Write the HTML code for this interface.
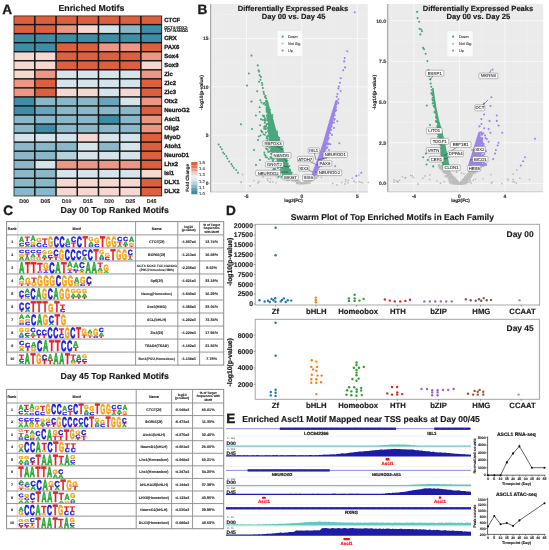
<!DOCTYPE html>
<html><head><meta charset="utf-8"><style>
html,body{margin:0;padding:0;background:#fff;width:549px;height:550px;overflow:hidden}
svg{display:block;will-change:transform}
text{font-family:"Liberation Sans", sans-serif;text-rendering:geometricPrecision}
</style></head><body>
<svg width="549" height="550" viewBox="0 0 549 550">
<text x="2.20" y="13.70" font-size="13.6" font-weight="bold" text-anchor="start" fill="#1a1a1a" stroke="#1a1a1a" stroke-width="0.35">A</text>
<text x="91.40" y="11.10" font-size="8.8" font-weight="bold" text-anchor="middle" fill="#1a1a1a" stroke="#1a1a1a" stroke-width="0.15" >Enriched Motifs</text>
<rect x="13.6" y="15.55" width="148.50" height="180.80" fill="#141414"/>
<rect x="14.35" y="16.27" width="19.71" height="7.60" fill="#dc603e"/>
<rect x="35.56" y="16.27" width="19.71" height="7.60" fill="#dc603e"/>
<rect x="56.78" y="16.27" width="19.71" height="7.60" fill="#dc603e"/>
<rect x="77.99" y="16.27" width="19.71" height="7.60" fill="#dc603e"/>
<rect x="99.21" y="16.27" width="19.71" height="7.60" fill="#dc603e"/>
<rect x="120.42" y="16.27" width="19.71" height="7.60" fill="#dc603e"/>
<rect x="141.64" y="16.27" width="19.71" height="7.60" fill="#dc603e"/>
<text x="164.20" y="21.72" font-size="6.0" font-weight="bold" text-anchor="start" fill="#1a1a1a" stroke="#1a1a1a" stroke-width="0.3" >CTCF</text>
<rect x="14.35" y="25.31" width="19.71" height="7.60" fill="#dc603e"/>
<rect x="35.56" y="25.31" width="19.71" height="7.60" fill="#dc603e"/>
<rect x="56.78" y="25.31" width="19.71" height="7.60" fill="#eb9783"/>
<rect x="77.99" y="25.31" width="19.71" height="7.60" fill="#f5d8d2"/>
<rect x="99.21" y="25.31" width="19.71" height="7.60" fill="#d5e4ea"/>
<rect x="120.42" y="25.31" width="19.71" height="7.60" fill="#8ab8c8"/>
<rect x="141.64" y="25.31" width="19.71" height="7.60" fill="#3f8ca6"/>
<text x="164.20" y="28.51" font-size="4.0" font-weight="bold" text-anchor="start" fill="#1a1a1a" stroke="#1a1a1a" stroke-width="0.15" >OCT4-SOX2-</text>
<text x="164.20" y="31.91" font-size="4.0" font-weight="bold" text-anchor="start" fill="#1a1a1a" stroke="#1a1a1a" stroke-width="0.15" >TCF-NANOG</text>
<rect x="14.35" y="34.35" width="19.71" height="7.60" fill="#3f8ca6"/>
<rect x="35.56" y="34.35" width="19.71" height="7.60" fill="#3f8ca6"/>
<rect x="56.78" y="34.35" width="19.71" height="7.60" fill="#3f8ca6"/>
<rect x="77.99" y="34.35" width="19.71" height="7.60" fill="#3f8ca6"/>
<rect x="99.21" y="34.35" width="19.71" height="7.60" fill="#3f8ca6"/>
<rect x="120.42" y="34.35" width="19.71" height="7.60" fill="#3f8ca6"/>
<rect x="141.64" y="34.35" width="19.71" height="7.60" fill="#3f8ca6"/>
<text x="164.20" y="39.80" font-size="6.0" font-weight="bold" text-anchor="start" fill="#1a1a1a" stroke="#1a1a1a" stroke-width="0.3" >CRX</text>
<rect x="14.35" y="43.39" width="19.71" height="7.60" fill="#3f8ca6"/>
<rect x="35.56" y="43.39" width="19.71" height="7.60" fill="#3f8ca6"/>
<rect x="56.78" y="43.39" width="19.71" height="7.60" fill="#dc603e"/>
<rect x="77.99" y="43.39" width="19.71" height="7.60" fill="#dc603e"/>
<rect x="99.21" y="43.39" width="19.71" height="7.60" fill="#eb9783"/>
<rect x="120.42" y="43.39" width="19.71" height="7.60" fill="#eb9783"/>
<rect x="141.64" y="43.39" width="19.71" height="7.60" fill="#dc603e"/>
<text x="164.20" y="48.84" font-size="6.0" font-weight="bold" text-anchor="start" fill="#1a1a1a" stroke="#1a1a1a" stroke-width="0.3" >PAX6</text>
<rect x="14.35" y="52.43" width="19.71" height="7.60" fill="#f5d8d2"/>
<rect x="35.56" y="52.43" width="19.71" height="7.60" fill="#f5d8d2"/>
<rect x="56.78" y="52.43" width="19.71" height="7.60" fill="#dc603e"/>
<rect x="77.99" y="52.43" width="19.71" height="7.60" fill="#dc603e"/>
<rect x="99.21" y="52.43" width="19.71" height="7.60" fill="#dc603e"/>
<rect x="120.42" y="52.43" width="19.71" height="7.60" fill="#dc603e"/>
<rect x="141.64" y="52.43" width="19.71" height="7.60" fill="#eb9783"/>
<text x="164.20" y="57.88" font-size="6.0" font-weight="bold" text-anchor="start" fill="#1a1a1a" stroke="#1a1a1a" stroke-width="0.3" >Sox4</text>
<rect x="14.35" y="61.47" width="19.71" height="7.60" fill="#f5d8d2"/>
<rect x="35.56" y="61.47" width="19.71" height="7.60" fill="#f5d8d2"/>
<rect x="56.78" y="61.47" width="19.71" height="7.60" fill="#dc603e"/>
<rect x="77.99" y="61.47" width="19.71" height="7.60" fill="#dc603e"/>
<rect x="99.21" y="61.47" width="19.71" height="7.60" fill="#dc603e"/>
<rect x="120.42" y="61.47" width="19.71" height="7.60" fill="#dc603e"/>
<rect x="141.64" y="61.47" width="19.71" height="7.60" fill="#f5d8d2"/>
<text x="164.20" y="66.92" font-size="6.0" font-weight="bold" text-anchor="start" fill="#1a1a1a" stroke="#1a1a1a" stroke-width="0.3" >Sox9</text>
<rect x="14.35" y="70.51" width="19.71" height="7.60" fill="#f5d8d2"/>
<rect x="35.56" y="70.51" width="19.71" height="7.60" fill="#eb9783"/>
<rect x="56.78" y="70.51" width="19.71" height="7.60" fill="#d5e4ea"/>
<rect x="77.99" y="70.51" width="19.71" height="7.60" fill="#d5e4ea"/>
<rect x="99.21" y="70.51" width="19.71" height="7.60" fill="#d5e4ea"/>
<rect x="120.42" y="70.51" width="19.71" height="7.60" fill="#d5e4ea"/>
<rect x="141.64" y="70.51" width="19.71" height="7.60" fill="#eb9783"/>
<text x="164.20" y="75.96" font-size="6.0" font-weight="bold" text-anchor="start" fill="#1a1a1a" stroke="#1a1a1a" stroke-width="0.3" >Zic</text>
<rect x="14.35" y="79.55" width="19.71" height="7.60" fill="#eb9783"/>
<rect x="35.56" y="79.55" width="19.71" height="7.60" fill="#dc603e"/>
<rect x="56.78" y="79.55" width="19.71" height="7.60" fill="#d5e4ea"/>
<rect x="77.99" y="79.55" width="19.71" height="7.60" fill="#d5e4ea"/>
<rect x="99.21" y="79.55" width="19.71" height="7.60" fill="#d5e4ea"/>
<rect x="120.42" y="79.55" width="19.71" height="7.60" fill="#d5e4ea"/>
<rect x="141.64" y="79.55" width="19.71" height="7.60" fill="#dc603e"/>
<text x="164.20" y="85.00" font-size="6.0" font-weight="bold" text-anchor="start" fill="#1a1a1a" stroke="#1a1a1a" stroke-width="0.3" >Zic2</text>
<rect x="14.35" y="88.59" width="19.71" height="7.60" fill="#eb9783"/>
<rect x="35.56" y="88.59" width="19.71" height="7.60" fill="#dc603e"/>
<rect x="56.78" y="88.59" width="19.71" height="7.60" fill="#f5d8d2"/>
<rect x="77.99" y="88.59" width="19.71" height="7.60" fill="#f5d8d2"/>
<rect x="99.21" y="88.59" width="19.71" height="7.60" fill="#d5e4ea"/>
<rect x="120.42" y="88.59" width="19.71" height="7.60" fill="#f5d8d2"/>
<rect x="141.64" y="88.59" width="19.71" height="7.60" fill="#dc603e"/>
<text x="164.20" y="94.04" font-size="6.0" font-weight="bold" text-anchor="start" fill="#1a1a1a" stroke="#1a1a1a" stroke-width="0.3" >Zic3</text>
<rect x="14.35" y="97.63" width="19.71" height="7.60" fill="#3f8ca6"/>
<rect x="35.56" y="97.63" width="19.71" height="7.60" fill="#8ab8c8"/>
<rect x="56.78" y="97.63" width="19.71" height="7.60" fill="#8ab8c8"/>
<rect x="77.99" y="97.63" width="19.71" height="7.60" fill="#8ab8c8"/>
<rect x="99.21" y="97.63" width="19.71" height="7.60" fill="#6aa5bb"/>
<rect x="120.42" y="97.63" width="19.71" height="7.60" fill="#d5e4ea"/>
<rect x="141.64" y="97.63" width="19.71" height="7.60" fill="#eb9783"/>
<text x="164.20" y="103.08" font-size="6.0" font-weight="bold" text-anchor="start" fill="#1a1a1a" stroke="#1a1a1a" stroke-width="0.3" >Otx2</text>
<rect x="14.35" y="106.67" width="19.71" height="7.60" fill="#3f8ca6"/>
<rect x="35.56" y="106.67" width="19.71" height="7.60" fill="#6aa5bb"/>
<rect x="56.78" y="106.67" width="19.71" height="7.60" fill="#8ab8c8"/>
<rect x="77.99" y="106.67" width="19.71" height="7.60" fill="#8ab8c8"/>
<rect x="99.21" y="106.67" width="19.71" height="7.60" fill="#8ab8c8"/>
<rect x="120.42" y="106.67" width="19.71" height="7.60" fill="#8ab8c8"/>
<rect x="141.64" y="106.67" width="19.71" height="7.60" fill="#dc603e"/>
<text x="164.20" y="112.12" font-size="6.0" font-weight="bold" text-anchor="start" fill="#1a1a1a" stroke="#1a1a1a" stroke-width="0.3" >NeuroG2</text>
<rect x="14.35" y="115.71" width="19.71" height="7.60" fill="#8ab8c8"/>
<rect x="35.56" y="115.71" width="19.71" height="7.60" fill="#8ab8c8"/>
<rect x="56.78" y="115.71" width="19.71" height="7.60" fill="#8ab8c8"/>
<rect x="77.99" y="115.71" width="19.71" height="7.60" fill="#8ab8c8"/>
<rect x="99.21" y="115.71" width="19.71" height="7.60" fill="#3f8ca6"/>
<rect x="120.42" y="115.71" width="19.71" height="7.60" fill="#8ab8c8"/>
<rect x="141.64" y="115.71" width="19.71" height="7.60" fill="#eb9783"/>
<text x="164.20" y="121.16" font-size="6.0" font-weight="bold" text-anchor="start" fill="#1a1a1a" stroke="#1a1a1a" stroke-width="0.3" >Ascl1</text>
<rect x="14.35" y="124.75" width="19.71" height="7.60" fill="#8ab8c8"/>
<rect x="35.56" y="124.75" width="19.71" height="7.60" fill="#3f8ca6"/>
<rect x="56.78" y="124.75" width="19.71" height="7.60" fill="#8ab8c8"/>
<rect x="77.99" y="124.75" width="19.71" height="7.60" fill="#8ab8c8"/>
<rect x="99.21" y="124.75" width="19.71" height="7.60" fill="#8ab8c8"/>
<rect x="120.42" y="124.75" width="19.71" height="7.60" fill="#8ab8c8"/>
<rect x="141.64" y="124.75" width="19.71" height="7.60" fill="#eb9783"/>
<text x="164.20" y="130.20" font-size="6.0" font-weight="bold" text-anchor="start" fill="#1a1a1a" stroke="#1a1a1a" stroke-width="0.3" >Olig2</text>
<rect x="14.35" y="133.79" width="19.71" height="7.60" fill="#d5e4ea"/>
<rect x="35.56" y="133.79" width="19.71" height="7.60" fill="#d5e4ea"/>
<rect x="56.78" y="133.79" width="19.71" height="7.60" fill="#d5e4ea"/>
<rect x="77.99" y="133.79" width="19.71" height="7.60" fill="#f5d8d2"/>
<rect x="99.21" y="133.79" width="19.71" height="7.60" fill="#d5e4ea"/>
<rect x="120.42" y="133.79" width="19.71" height="7.60" fill="#d5e4ea"/>
<rect x="141.64" y="133.79" width="19.71" height="7.60" fill="#dc603e"/>
<text x="164.20" y="139.24" font-size="6.0" font-weight="bold" text-anchor="start" fill="#1a1a1a" stroke="#1a1a1a" stroke-width="0.3" >MyoD</text>
<rect x="14.35" y="142.83" width="19.71" height="7.60" fill="#8ab8c8"/>
<rect x="35.56" y="142.83" width="19.71" height="7.60" fill="#8ab8c8"/>
<rect x="56.78" y="142.83" width="19.71" height="7.60" fill="#8ab8c8"/>
<rect x="77.99" y="142.83" width="19.71" height="7.60" fill="#d5e4ea"/>
<rect x="99.21" y="142.83" width="19.71" height="7.60" fill="#8ab8c8"/>
<rect x="120.42" y="142.83" width="19.71" height="7.60" fill="#d5e4ea"/>
<rect x="141.64" y="142.83" width="19.71" height="7.60" fill="#dc603e"/>
<text x="164.20" y="148.28" font-size="6.0" font-weight="bold" text-anchor="start" fill="#1a1a1a" stroke="#1a1a1a" stroke-width="0.3" >Atoh1</text>
<rect x="14.35" y="151.87" width="19.71" height="7.60" fill="#8ab8c8"/>
<rect x="35.56" y="151.87" width="19.71" height="7.60" fill="#8ab8c8"/>
<rect x="56.78" y="151.87" width="19.71" height="7.60" fill="#b4d0db"/>
<rect x="77.99" y="151.87" width="19.71" height="7.60" fill="#d5e4ea"/>
<rect x="99.21" y="151.87" width="19.71" height="7.60" fill="#d5e4ea"/>
<rect x="120.42" y="151.87" width="19.71" height="7.60" fill="#d5e4ea"/>
<rect x="141.64" y="151.87" width="19.71" height="7.60" fill="#dc603e"/>
<text x="164.20" y="157.32" font-size="6.0" font-weight="bold" text-anchor="start" fill="#1a1a1a" stroke="#1a1a1a" stroke-width="0.3" >NeuroD1</text>
<rect x="14.35" y="160.91" width="19.71" height="7.60" fill="#8ab8c8"/>
<rect x="35.56" y="160.91" width="19.71" height="7.60" fill="#d5e4ea"/>
<rect x="56.78" y="160.91" width="19.71" height="7.60" fill="#eb9783"/>
<rect x="77.99" y="160.91" width="19.71" height="7.60" fill="#eb9783"/>
<rect x="99.21" y="160.91" width="19.71" height="7.60" fill="#eb9783"/>
<rect x="120.42" y="160.91" width="19.71" height="7.60" fill="#eb9783"/>
<rect x="141.64" y="160.91" width="19.71" height="7.60" fill="#dc603e"/>
<text x="164.20" y="166.36" font-size="6.0" font-weight="bold" text-anchor="start" fill="#1a1a1a" stroke="#1a1a1a" stroke-width="0.3" >Lhx2</text>
<rect x="14.35" y="169.95" width="19.71" height="7.60" fill="#8ab8c8"/>
<rect x="35.56" y="169.95" width="19.71" height="7.60" fill="#8ab8c8"/>
<rect x="56.78" y="169.95" width="19.71" height="7.60" fill="#d5e4ea"/>
<rect x="77.99" y="169.95" width="19.71" height="7.60" fill="#d5e4ea"/>
<rect x="99.21" y="169.95" width="19.71" height="7.60" fill="#d5e4ea"/>
<rect x="120.42" y="169.95" width="19.71" height="7.60" fill="#d5e4ea"/>
<rect x="141.64" y="169.95" width="19.71" height="7.60" fill="#f5d8d2"/>
<text x="164.20" y="175.40" font-size="6.0" font-weight="bold" text-anchor="start" fill="#1a1a1a" stroke="#1a1a1a" stroke-width="0.3" >Isl1</text>
<rect x="14.35" y="178.99" width="19.71" height="7.60" fill="#8ab8c8"/>
<rect x="35.56" y="178.99" width="19.71" height="7.60" fill="#8ab8c8"/>
<rect x="56.78" y="178.99" width="19.71" height="7.60" fill="#f5d8d2"/>
<rect x="77.99" y="178.99" width="19.71" height="7.60" fill="#f5d8d2"/>
<rect x="99.21" y="178.99" width="19.71" height="7.60" fill="#f5d8d2"/>
<rect x="120.42" y="178.99" width="19.71" height="7.60" fill="#f5d8d2"/>
<rect x="141.64" y="178.99" width="19.71" height="7.60" fill="#dc603e"/>
<text x="164.20" y="184.44" font-size="6.0" font-weight="bold" text-anchor="start" fill="#1a1a1a" stroke="#1a1a1a" stroke-width="0.3" >DLX1</text>
<rect x="14.35" y="188.03" width="19.71" height="7.60" fill="#8ab8c8"/>
<rect x="35.56" y="188.03" width="19.71" height="7.60" fill="#8ab8c8"/>
<rect x="56.78" y="188.03" width="19.71" height="7.60" fill="#f5d8d2"/>
<rect x="77.99" y="188.03" width="19.71" height="7.60" fill="#f5d8d2"/>
<rect x="99.21" y="188.03" width="19.71" height="7.60" fill="#f5d8d2"/>
<rect x="120.42" y="188.03" width="19.71" height="7.60" fill="#f5d8d2"/>
<rect x="141.64" y="188.03" width="19.71" height="7.60" fill="#dc603e"/>
<text x="164.20" y="193.48" font-size="6.0" font-weight="bold" text-anchor="start" fill="#1a1a1a" stroke="#1a1a1a" stroke-width="0.3" >DLX2</text>
<text x="24.21" y="202.90" font-size="5.3" font-weight="bold" text-anchor="middle" fill="#333" stroke="#333" stroke-width="0.15" >D00</text>
<text x="45.42" y="202.90" font-size="5.3" font-weight="bold" text-anchor="middle" fill="#333" stroke="#333" stroke-width="0.15" >D05</text>
<text x="66.64" y="202.90" font-size="5.3" font-weight="bold" text-anchor="middle" fill="#333" stroke="#333" stroke-width="0.15" >D10</text>
<text x="87.85" y="202.90" font-size="5.3" font-weight="bold" text-anchor="middle" fill="#333" stroke="#333" stroke-width="0.15" >D15</text>
<text x="109.06" y="202.90" font-size="5.3" font-weight="bold" text-anchor="middle" fill="#333" stroke="#333" stroke-width="0.15" >D20</text>
<text x="130.28" y="202.90" font-size="5.3" font-weight="bold" text-anchor="middle" fill="#333" stroke="#333" stroke-width="0.15" >D25</text>
<text x="151.49" y="202.90" font-size="5.3" font-weight="bold" text-anchor="middle" fill="#333" stroke="#333" stroke-width="0.15" >D45</text>
<rect x="191.3" y="162.00" width="6.1" height="3.3" fill="#dc603e"/>
<rect x="191.3" y="165.22" width="6.1" height="3.3" fill="#e27a5e"/>
<rect x="191.3" y="168.44" width="6.1" height="3.3" fill="#eb9e8c"/>
<rect x="191.3" y="171.66" width="6.1" height="3.3" fill="#f4cfc7"/>
<rect x="191.3" y="174.88" width="6.1" height="3.3" fill="#f3eceb"/>
<rect x="191.3" y="178.10" width="6.1" height="3.3" fill="#dbe7eb"/>
<rect x="191.3" y="181.32" width="6.1" height="3.3" fill="#b7d2dc"/>
<rect x="191.3" y="184.54" width="6.1" height="3.3" fill="#8ab8c8"/>
<rect x="191.3" y="187.76" width="6.1" height="3.3" fill="#5f9fb6"/>
<rect x="191.3" y="190.98" width="6.1" height="3.3" fill="#3f8ca6"/>
<text x="199.00" y="164.00" font-size="4.2" font-weight="normal" text-anchor="start" fill="#333" stroke="#333" stroke-width="0.12" >1.5</text>
<text x="199.00" y="170.20" font-size="4.2" font-weight="normal" text-anchor="start" fill="#333" stroke="#333" stroke-width="0.12" >1.4</text>
<text x="199.00" y="176.40" font-size="4.2" font-weight="normal" text-anchor="start" fill="#333" stroke="#333" stroke-width="0.12" >1.3</text>
<text x="199.00" y="182.60" font-size="4.2" font-weight="normal" text-anchor="start" fill="#333" stroke="#333" stroke-width="0.12" >1.2</text>
<text x="199.00" y="188.80" font-size="4.2" font-weight="normal" text-anchor="start" fill="#333" stroke="#333" stroke-width="0.12" >1.1</text>
<text x="199.00" y="195.00" font-size="4.2" font-weight="normal" text-anchor="start" fill="#333" stroke="#333" stroke-width="0.12" >1.0</text>
<text transform="translate(188.9,177.8) rotate(-90)" font-size="4.6" font-weight="bold" text-anchor="middle" fill="#222" stroke="#222" stroke-width="0.12">Fold Change</text>
<text x="197.60" y="13.70" font-size="13.6" font-weight="bold" text-anchor="start" fill="#1a1a1a" stroke="#1a1a1a" stroke-width="0.35">B</text>
<rect x="210.5" y="4.0" width="157.30" height="188.20" fill="#ebebeb"/>
<line x1="218.65" y1="4.0" x2="218.65" y2="192.2" stroke="#f2f2f2" stroke-width="0.5"/>
<line x1="274.15" y1="4.0" x2="274.15" y2="192.2" stroke="#f2f2f2" stroke-width="0.5"/>
<line x1="329.65" y1="4.0" x2="329.65" y2="192.2" stroke="#f2f2f2" stroke-width="0.5"/>
<line x1="385.15" y1="4.0" x2="385.15" y2="192.2" stroke="#f2f2f2" stroke-width="0.5"/>
<line x1="210.5" y1="159.18" x2="367.8" y2="159.18" stroke="#f2f2f2" stroke-width="0.5"/>
<line x1="210.5" y1="110.93" x2="367.8" y2="110.93" stroke="#f2f2f2" stroke-width="0.5"/>
<line x1="210.5" y1="62.68" x2="367.8" y2="62.68" stroke="#f2f2f2" stroke-width="0.5"/>
<line x1="210.5" y1="14.43" x2="367.8" y2="14.43" stroke="#f2f2f2" stroke-width="0.5"/>
<line x1="246.40" y1="4.0" x2="246.40" y2="192.2" stroke="#f8f8f8" stroke-width="0.9"/>
<line x1="301.90" y1="4.0" x2="301.90" y2="192.2" stroke="#f8f8f8" stroke-width="0.9"/>
<line x1="357.40" y1="4.0" x2="357.40" y2="192.2" stroke="#f8f8f8" stroke-width="0.9"/>
<line x1="210.5" y1="183.30" x2="367.8" y2="183.30" stroke="#f8f8f8" stroke-width="0.9"/>
<line x1="210.5" y1="135.05" x2="367.8" y2="135.05" stroke="#f8f8f8" stroke-width="0.9"/>
<line x1="210.5" y1="86.80" x2="367.8" y2="86.80" stroke="#f8f8f8" stroke-width="0.9"/>
<line x1="210.5" y1="38.55" x2="367.8" y2="38.55" stroke="#f8f8f8" stroke-width="0.9"/>
<circle cx="295.2" cy="180.7" r="0.85" fill="#bdbdbd"/>
<circle cx="284.0" cy="174.1" r="0.85" fill="#bdbdbd"/>
<circle cx="304.6" cy="182.0" r="0.85" fill="#bdbdbd"/>
<circle cx="303.3" cy="182.9" r="0.85" fill="#bdbdbd"/>
<circle cx="282.5" cy="173.2" r="0.85" fill="#bdbdbd"/>
<circle cx="284.8" cy="173.2" r="0.85" fill="#bdbdbd"/>
<circle cx="299.7" cy="182.3" r="0.85" fill="#bdbdbd"/>
<circle cx="290.7" cy="177.0" r="0.85" fill="#bdbdbd"/>
<circle cx="308.7" cy="181.5" r="0.85" fill="#bdbdbd"/>
<circle cx="298.4" cy="181.9" r="0.85" fill="#bdbdbd"/>
<circle cx="324.2" cy="173.2" r="0.85" fill="#bdbdbd"/>
<circle cx="293.7" cy="179.1" r="0.85" fill="#bdbdbd"/>
<circle cx="287.2" cy="175.1" r="0.85" fill="#bdbdbd"/>
<circle cx="317.0" cy="174.7" r="0.85" fill="#bdbdbd"/>
<circle cx="288.8" cy="177.4" r="0.85" fill="#bdbdbd"/>
<circle cx="297.3" cy="181.8" r="0.85" fill="#bdbdbd"/>
<circle cx="305.1" cy="181.9" r="0.85" fill="#bdbdbd"/>
<circle cx="290.0" cy="175.8" r="0.85" fill="#bdbdbd"/>
<circle cx="311.0" cy="179.0" r="0.85" fill="#bdbdbd"/>
<circle cx="306.8" cy="180.9" r="0.85" fill="#bdbdbd"/>
<circle cx="300.9" cy="183.3" r="0.85" fill="#bdbdbd"/>
<circle cx="311.8" cy="180.4" r="0.85" fill="#bdbdbd"/>
<circle cx="291.6" cy="178.9" r="0.85" fill="#bdbdbd"/>
<circle cx="319.7" cy="173.2" r="0.85" fill="#bdbdbd"/>
<circle cx="313.2" cy="177.3" r="0.85" fill="#bdbdbd"/>
<circle cx="286.1" cy="178.7" r="0.85" fill="#bdbdbd"/>
<circle cx="299.4" cy="181.7" r="0.85" fill="#bdbdbd"/>
<circle cx="302.5" cy="183.3" r="0.85" fill="#bdbdbd"/>
<circle cx="282.6" cy="173.2" r="0.85" fill="#bdbdbd"/>
<circle cx="306.3" cy="183.3" r="0.85" fill="#bdbdbd"/>
<circle cx="319.7" cy="173.2" r="0.85" fill="#bdbdbd"/>
<circle cx="307.2" cy="182.9" r="0.85" fill="#bdbdbd"/>
<circle cx="306.6" cy="183.3" r="0.85" fill="#bdbdbd"/>
<circle cx="322.8" cy="173.2" r="0.85" fill="#bdbdbd"/>
<circle cx="301.9" cy="183.3" r="0.85" fill="#bdbdbd"/>
<circle cx="312.0" cy="177.4" r="0.85" fill="#bdbdbd"/>
<circle cx="309.5" cy="182.3" r="0.85" fill="#bdbdbd"/>
<circle cx="293.4" cy="178.0" r="0.85" fill="#bdbdbd"/>
<circle cx="297.9" cy="180.9" r="0.85" fill="#bdbdbd"/>
<circle cx="301.3" cy="183.3" r="0.85" fill="#bdbdbd"/>
<circle cx="288.3" cy="175.0" r="0.85" fill="#bdbdbd"/>
<circle cx="314.9" cy="175.3" r="0.85" fill="#bdbdbd"/>
<circle cx="286.6" cy="173.3" r="0.85" fill="#bdbdbd"/>
<circle cx="319.5" cy="173.9" r="0.85" fill="#bdbdbd"/>
<circle cx="284.4" cy="174.4" r="0.85" fill="#bdbdbd"/>
<circle cx="320.0" cy="173.2" r="0.85" fill="#bdbdbd"/>
<circle cx="317.2" cy="174.5" r="0.85" fill="#bdbdbd"/>
<circle cx="299.2" cy="182.9" r="0.85" fill="#bdbdbd"/>
<circle cx="296.7" cy="183.3" r="0.85" fill="#bdbdbd"/>
<circle cx="287.5" cy="177.5" r="0.85" fill="#bdbdbd"/>
<circle cx="288.6" cy="174.8" r="0.85" fill="#bdbdbd"/>
<circle cx="302.3" cy="183.3" r="0.85" fill="#bdbdbd"/>
<circle cx="307.0" cy="180.0" r="0.85" fill="#bdbdbd"/>
<circle cx="299.4" cy="181.9" r="0.85" fill="#bdbdbd"/>
<circle cx="297.2" cy="183.3" r="0.85" fill="#bdbdbd"/>
<circle cx="311.5" cy="179.2" r="0.85" fill="#bdbdbd"/>
<circle cx="303.7" cy="183.3" r="0.85" fill="#bdbdbd"/>
<circle cx="283.2" cy="173.3" r="0.85" fill="#bdbdbd"/>
<circle cx="320.7" cy="173.2" r="0.85" fill="#bdbdbd"/>
<circle cx="316.2" cy="178.2" r="0.85" fill="#bdbdbd"/>
<circle cx="298.2" cy="181.7" r="0.85" fill="#bdbdbd"/>
<circle cx="309.0" cy="179.3" r="0.85" fill="#bdbdbd"/>
<circle cx="283.6" cy="173.2" r="0.85" fill="#bdbdbd"/>
<circle cx="288.0" cy="174.8" r="0.85" fill="#bdbdbd"/>
<circle cx="295.9" cy="179.4" r="0.85" fill="#bdbdbd"/>
<circle cx="287.5" cy="173.9" r="0.85" fill="#bdbdbd"/>
<circle cx="285.3" cy="173.2" r="0.85" fill="#bdbdbd"/>
<circle cx="319.6" cy="173.2" r="0.85" fill="#bdbdbd"/>
<circle cx="308.1" cy="180.2" r="0.85" fill="#bdbdbd"/>
<circle cx="296.2" cy="180.9" r="0.85" fill="#bdbdbd"/>
<circle cx="297.0" cy="183.0" r="0.85" fill="#bdbdbd"/>
<circle cx="324.9" cy="173.2" r="0.85" fill="#bdbdbd"/>
<circle cx="301.5" cy="183.3" r="0.85" fill="#bdbdbd"/>
<circle cx="285.3" cy="173.2" r="0.85" fill="#bdbdbd"/>
<circle cx="296.0" cy="179.8" r="0.85" fill="#bdbdbd"/>
<circle cx="288.0" cy="178.2" r="0.85" fill="#bdbdbd"/>
<circle cx="281.8" cy="173.2" r="0.85" fill="#bdbdbd"/>
<circle cx="287.3" cy="174.6" r="0.85" fill="#bdbdbd"/>
<circle cx="304.9" cy="183.3" r="0.85" fill="#bdbdbd"/>
<circle cx="324.3" cy="173.2" r="0.85" fill="#bdbdbd"/>
<circle cx="319.1" cy="173.2" r="0.85" fill="#bdbdbd"/>
<circle cx="297.1" cy="181.7" r="0.85" fill="#bdbdbd"/>
<circle cx="288.2" cy="174.7" r="0.85" fill="#bdbdbd"/>
<circle cx="315.4" cy="177.1" r="0.85" fill="#bdbdbd"/>
<circle cx="295.4" cy="179.7" r="0.85" fill="#bdbdbd"/>
<circle cx="324.5" cy="173.2" r="0.85" fill="#bdbdbd"/>
<circle cx="318.7" cy="173.7" r="0.85" fill="#bdbdbd"/>
<circle cx="313.7" cy="179.3" r="0.85" fill="#bdbdbd"/>
<circle cx="290.9" cy="178.1" r="0.85" fill="#bdbdbd"/>
<circle cx="282.1" cy="173.2" r="0.85" fill="#bdbdbd"/>
<circle cx="282.1" cy="173.2" r="0.85" fill="#bdbdbd"/>
<circle cx="311.6" cy="178.6" r="0.85" fill="#bdbdbd"/>
<circle cx="323.3" cy="174.1" r="0.85" fill="#bdbdbd"/>
<circle cx="324.7" cy="173.2" r="0.85" fill="#bdbdbd"/>
<circle cx="323.2" cy="173.2" r="0.85" fill="#bdbdbd"/>
<circle cx="290.9" cy="177.2" r="0.85" fill="#bdbdbd"/>
<circle cx="289.5" cy="176.1" r="0.85" fill="#bdbdbd"/>
<circle cx="320.8" cy="173.8" r="0.85" fill="#bdbdbd"/>
<circle cx="318.1" cy="175.8" r="0.85" fill="#bdbdbd"/>
<circle cx="316.3" cy="174.3" r="0.85" fill="#bdbdbd"/>
<circle cx="284.6" cy="174.5" r="0.85" fill="#bdbdbd"/>
<circle cx="315.5" cy="178.3" r="0.85" fill="#bdbdbd"/>
<circle cx="314.1" cy="176.7" r="0.85" fill="#bdbdbd"/>
<circle cx="315.8" cy="174.4" r="0.85" fill="#bdbdbd"/>
<circle cx="295.6" cy="181.0" r="0.85" fill="#bdbdbd"/>
<circle cx="298.4" cy="183.3" r="0.85" fill="#bdbdbd"/>
<circle cx="298.6" cy="183.3" r="0.85" fill="#bdbdbd"/>
<circle cx="288.4" cy="175.6" r="0.85" fill="#bdbdbd"/>
<circle cx="286.5" cy="175.9" r="0.85" fill="#bdbdbd"/>
<circle cx="316.6" cy="177.4" r="0.85" fill="#bdbdbd"/>
<circle cx="287.3" cy="176.5" r="0.85" fill="#bdbdbd"/>
<circle cx="310.0" cy="183.3" r="0.85" fill="#bdbdbd"/>
<circle cx="296.4" cy="180.8" r="0.85" fill="#bdbdbd"/>
<circle cx="281.4" cy="173.2" r="0.85" fill="#bdbdbd"/>
<circle cx="323.9" cy="173.2" r="0.85" fill="#bdbdbd"/>
<circle cx="322.3" cy="173.2" r="0.85" fill="#bdbdbd"/>
<circle cx="300.1" cy="183.3" r="0.85" fill="#bdbdbd"/>
<circle cx="290.2" cy="178.5" r="0.85" fill="#bdbdbd"/>
<circle cx="292.0" cy="177.3" r="0.85" fill="#bdbdbd"/>
<circle cx="306.8" cy="181.6" r="0.85" fill="#bdbdbd"/>
<circle cx="292.3" cy="178.0" r="0.85" fill="#bdbdbd"/>
<circle cx="321.2" cy="173.2" r="0.85" fill="#bdbdbd"/>
<circle cx="296.5" cy="182.5" r="0.85" fill="#bdbdbd"/>
<circle cx="321.0" cy="173.2" r="0.85" fill="#bdbdbd"/>
<circle cx="299.5" cy="183.3" r="0.85" fill="#bdbdbd"/>
<circle cx="304.4" cy="182.9" r="0.85" fill="#bdbdbd"/>
<circle cx="304.1" cy="183.3" r="0.85" fill="#bdbdbd"/>
<circle cx="288.9" cy="175.1" r="0.85" fill="#bdbdbd"/>
<circle cx="281.0" cy="173.2" r="0.85" fill="#bdbdbd"/>
<circle cx="301.8" cy="183.3" r="0.85" fill="#bdbdbd"/>
<circle cx="313.0" cy="177.8" r="0.85" fill="#bdbdbd"/>
<circle cx="303.8" cy="182.7" r="0.85" fill="#bdbdbd"/>
<circle cx="305.5" cy="181.2" r="0.85" fill="#bdbdbd"/>
<circle cx="305.7" cy="181.8" r="0.85" fill="#bdbdbd"/>
<circle cx="291.8" cy="177.4" r="0.85" fill="#bdbdbd"/>
<circle cx="303.4" cy="183.3" r="0.85" fill="#bdbdbd"/>
<circle cx="305.8" cy="181.1" r="0.85" fill="#bdbdbd"/>
<circle cx="300.5" cy="183.3" r="0.85" fill="#bdbdbd"/>
<circle cx="308.0" cy="181.9" r="0.85" fill="#bdbdbd"/>
<circle cx="311.6" cy="177.1" r="0.85" fill="#bdbdbd"/>
<circle cx="300.9" cy="183.3" r="0.85" fill="#bdbdbd"/>
<circle cx="322.6" cy="173.2" r="0.85" fill="#bdbdbd"/>
<circle cx="311.9" cy="180.4" r="0.85" fill="#bdbdbd"/>
<circle cx="292.3" cy="180.6" r="0.85" fill="#bdbdbd"/>
<circle cx="305.7" cy="183.3" r="0.85" fill="#bdbdbd"/>
<circle cx="286.9" cy="174.9" r="0.85" fill="#bdbdbd"/>
<circle cx="286.2" cy="173.8" r="0.85" fill="#bdbdbd"/>
<circle cx="291.5" cy="176.8" r="0.85" fill="#bdbdbd"/>
<circle cx="284.1" cy="173.5" r="0.85" fill="#bdbdbd"/>
<circle cx="320.6" cy="174.3" r="0.85" fill="#bdbdbd"/>
<circle cx="287.7" cy="174.7" r="0.85" fill="#bdbdbd"/>
<circle cx="287.2" cy="176.7" r="0.85" fill="#bdbdbd"/>
<circle cx="320.0" cy="173.2" r="0.85" fill="#bdbdbd"/>
<circle cx="323.1" cy="173.2" r="0.85" fill="#bdbdbd"/>
<circle cx="298.5" cy="183.3" r="0.85" fill="#bdbdbd"/>
<circle cx="317.8" cy="173.5" r="0.85" fill="#bdbdbd"/>
<circle cx="288.0" cy="176.5" r="0.85" fill="#bdbdbd"/>
<circle cx="295.9" cy="180.4" r="0.85" fill="#bdbdbd"/>
<circle cx="289.5" cy="176.6" r="0.85" fill="#bdbdbd"/>
<circle cx="281.7" cy="173.2" r="0.85" fill="#bdbdbd"/>
<circle cx="305.4" cy="181.4" r="0.85" fill="#bdbdbd"/>
<circle cx="295.5" cy="179.3" r="0.85" fill="#bdbdbd"/>
<circle cx="308.5" cy="179.8" r="0.85" fill="#bdbdbd"/>
<circle cx="324.5" cy="173.2" r="0.85" fill="#bdbdbd"/>
<circle cx="315.8" cy="175.2" r="0.85" fill="#bdbdbd"/>
<circle cx="292.6" cy="177.4" r="0.85" fill="#bdbdbd"/>
<circle cx="282.6" cy="173.2" r="0.85" fill="#bdbdbd"/>
<circle cx="286.6" cy="175.0" r="0.85" fill="#bdbdbd"/>
<circle cx="299.6" cy="183.3" r="0.85" fill="#bdbdbd"/>
<circle cx="292.3" cy="179.1" r="0.85" fill="#bdbdbd"/>
<circle cx="287.4" cy="176.3" r="0.85" fill="#bdbdbd"/>
<circle cx="311.9" cy="178.1" r="0.85" fill="#bdbdbd"/>
<circle cx="284.8" cy="175.2" r="0.85" fill="#bdbdbd"/>
<circle cx="299.7" cy="183.0" r="0.85" fill="#bdbdbd"/>
<circle cx="284.0" cy="174.4" r="0.85" fill="#bdbdbd"/>
<circle cx="316.4" cy="175.0" r="0.85" fill="#bdbdbd"/>
<circle cx="284.5" cy="173.2" r="0.85" fill="#bdbdbd"/>
<circle cx="319.1" cy="173.2" r="0.85" fill="#bdbdbd"/>
<circle cx="301.0" cy="183.3" r="0.85" fill="#bdbdbd"/>
<circle cx="322.0" cy="173.2" r="0.85" fill="#bdbdbd"/>
<circle cx="292.7" cy="179.1" r="0.85" fill="#bdbdbd"/>
<circle cx="291.4" cy="178.3" r="0.85" fill="#bdbdbd"/>
<circle cx="285.7" cy="173.2" r="0.85" fill="#bdbdbd"/>
<circle cx="289.8" cy="176.0" r="0.85" fill="#bdbdbd"/>
<circle cx="294.7" cy="179.8" r="0.85" fill="#bdbdbd"/>
<circle cx="293.7" cy="181.3" r="0.85" fill="#bdbdbd"/>
<circle cx="303.0" cy="183.3" r="0.85" fill="#bdbdbd"/>
<circle cx="281.6" cy="173.2" r="0.85" fill="#bdbdbd"/>
<circle cx="291.9" cy="180.2" r="0.85" fill="#bdbdbd"/>
<circle cx="305.3" cy="181.4" r="0.85" fill="#bdbdbd"/>
<circle cx="289.2" cy="179.9" r="0.85" fill="#bdbdbd"/>
<circle cx="285.5" cy="173.4" r="0.85" fill="#bdbdbd"/>
<circle cx="317.2" cy="175.6" r="0.85" fill="#bdbdbd"/>
<circle cx="317.9" cy="173.9" r="0.85" fill="#bdbdbd"/>
<circle cx="298.3" cy="183.3" r="0.85" fill="#bdbdbd"/>
<circle cx="324.4" cy="173.2" r="0.85" fill="#bdbdbd"/>
<circle cx="296.0" cy="181.1" r="0.85" fill="#bdbdbd"/>
<circle cx="309.0" cy="181.5" r="0.85" fill="#bdbdbd"/>
<circle cx="298.8" cy="181.7" r="0.85" fill="#bdbdbd"/>
<circle cx="286.6" cy="173.9" r="0.85" fill="#bdbdbd"/>
<circle cx="284.0" cy="173.2" r="0.85" fill="#bdbdbd"/>
<circle cx="288.1" cy="175.9" r="0.85" fill="#bdbdbd"/>
<circle cx="284.6" cy="174.3" r="0.85" fill="#bdbdbd"/>
<circle cx="310.6" cy="181.2" r="0.85" fill="#bdbdbd"/>
<circle cx="293.3" cy="177.8" r="0.85" fill="#bdbdbd"/>
<circle cx="301.2" cy="183.3" r="0.85" fill="#bdbdbd"/>
<circle cx="287.8" cy="175.7" r="0.85" fill="#bdbdbd"/>
<circle cx="323.5" cy="173.2" r="0.85" fill="#bdbdbd"/>
<circle cx="324.0" cy="173.2" r="0.85" fill="#bdbdbd"/>
<circle cx="323.7" cy="173.2" r="0.85" fill="#bdbdbd"/>
<circle cx="294.6" cy="178.6" r="0.85" fill="#bdbdbd"/>
<circle cx="297.8" cy="180.7" r="0.85" fill="#bdbdbd"/>
<circle cx="301.9" cy="183.3" r="0.85" fill="#bdbdbd"/>
<circle cx="303.2" cy="182.5" r="0.85" fill="#bdbdbd"/>
<circle cx="281.0" cy="173.2" r="0.85" fill="#bdbdbd"/>
<circle cx="298.5" cy="182.0" r="0.85" fill="#bdbdbd"/>
<circle cx="282.7" cy="173.2" r="0.85" fill="#bdbdbd"/>
<circle cx="291.1" cy="176.5" r="0.85" fill="#bdbdbd"/>
<circle cx="306.8" cy="183.3" r="0.85" fill="#bdbdbd"/>
<circle cx="310.0" cy="178.7" r="0.85" fill="#bdbdbd"/>
<circle cx="312.6" cy="177.9" r="0.85" fill="#bdbdbd"/>
<circle cx="295.3" cy="180.4" r="0.85" fill="#bdbdbd"/>
<circle cx="324.5" cy="173.2" r="0.85" fill="#bdbdbd"/>
<circle cx="309.4" cy="181.2" r="0.85" fill="#bdbdbd"/>
<circle cx="282.8" cy="173.2" r="0.85" fill="#bdbdbd"/>
<circle cx="308.7" cy="182.7" r="0.85" fill="#bdbdbd"/>
<circle cx="313.4" cy="176.2" r="0.85" fill="#bdbdbd"/>
<circle cx="304.1" cy="183.0" r="0.85" fill="#bdbdbd"/>
<circle cx="303.2" cy="183.3" r="0.85" fill="#bdbdbd"/>
<circle cx="317.5" cy="176.4" r="0.85" fill="#bdbdbd"/>
<circle cx="306.7" cy="182.7" r="0.85" fill="#bdbdbd"/>
<circle cx="311.6" cy="179.0" r="0.85" fill="#bdbdbd"/>
<circle cx="291.0" cy="177.3" r="0.85" fill="#bdbdbd"/>
<circle cx="296.8" cy="180.2" r="0.85" fill="#bdbdbd"/>
<circle cx="285.5" cy="174.0" r="0.85" fill="#bdbdbd"/>
<circle cx="308.7" cy="181.2" r="0.85" fill="#bdbdbd"/>
<circle cx="308.6" cy="180.0" r="0.85" fill="#bdbdbd"/>
<circle cx="281.0" cy="173.2" r="0.85" fill="#bdbdbd"/>
<circle cx="316.2" cy="174.0" r="0.85" fill="#bdbdbd"/>
<circle cx="304.6" cy="183.3" r="0.85" fill="#bdbdbd"/>
<circle cx="310.1" cy="181.1" r="0.85" fill="#bdbdbd"/>
<circle cx="292.0" cy="178.2" r="0.85" fill="#bdbdbd"/>
<circle cx="284.1" cy="173.2" r="0.85" fill="#bdbdbd"/>
<circle cx="289.9" cy="178.9" r="0.85" fill="#bdbdbd"/>
<circle cx="313.7" cy="178.1" r="0.85" fill="#bdbdbd"/>
<circle cx="297.8" cy="181.0" r="0.85" fill="#bdbdbd"/>
<circle cx="302.1" cy="183.3" r="0.85" fill="#bdbdbd"/>
<circle cx="308.2" cy="182.5" r="0.85" fill="#bdbdbd"/>
<circle cx="309.3" cy="179.5" r="0.85" fill="#bdbdbd"/>
<circle cx="292.1" cy="177.5" r="0.85" fill="#bdbdbd"/>
<circle cx="313.8" cy="176.5" r="0.85" fill="#bdbdbd"/>
<circle cx="281.4" cy="173.2" r="0.85" fill="#bdbdbd"/>
<circle cx="283.5" cy="173.2" r="0.85" fill="#bdbdbd"/>
<circle cx="311.5" cy="180.2" r="0.85" fill="#bdbdbd"/>
<circle cx="310.8" cy="178.1" r="0.85" fill="#bdbdbd"/>
<circle cx="301.4" cy="183.3" r="0.85" fill="#bdbdbd"/>
<circle cx="301.5" cy="183.3" r="0.85" fill="#bdbdbd"/>
<circle cx="289.7" cy="178.4" r="0.85" fill="#bdbdbd"/>
<circle cx="324.2" cy="173.2" r="0.85" fill="#bdbdbd"/>
<circle cx="301.2" cy="183.0" r="0.85" fill="#bdbdbd"/>
<circle cx="345.5" cy="179.6" r="0.85" fill="#bdbdbd"/>
<circle cx="298.2" cy="181.1" r="0.85" fill="#bdbdbd"/>
<circle cx="267.6" cy="178.7" r="0.85" fill="#bdbdbd"/>
<circle cx="267.7" cy="180.5" r="0.85" fill="#bdbdbd"/>
<circle cx="258.9" cy="181.3" r="0.85" fill="#bdbdbd"/>
<circle cx="362.5" cy="183.0" r="0.85" fill="#bdbdbd"/>
<circle cx="345.6" cy="181.4" r="0.85" fill="#bdbdbd"/>
<circle cx="354.1" cy="181.3" r="0.85" fill="#bdbdbd"/>
<circle cx="270.4" cy="178.7" r="0.85" fill="#bdbdbd"/>
<circle cx="302.9" cy="183.1" r="0.85" fill="#bdbdbd"/>
<circle cx="241.3" cy="182.4" r="0.85" fill="#bdbdbd"/>
<circle cx="298.4" cy="180.8" r="0.85" fill="#bdbdbd"/>
<circle cx="258.8" cy="182.0" r="0.85" fill="#bdbdbd"/>
<circle cx="281.2" cy="177.9" r="0.85" fill="#bdbdbd"/>
<circle cx="241.1" cy="181.9" r="0.85" fill="#bdbdbd"/>
<circle cx="348.0" cy="182.9" r="0.85" fill="#bdbdbd"/>
<circle cx="359.1" cy="181.7" r="0.85" fill="#bdbdbd"/>
<circle cx="355.9" cy="182.5" r="0.85" fill="#bdbdbd"/>
<circle cx="288.4" cy="180.5" r="0.85" fill="#bdbdbd"/>
<circle cx="368.3" cy="182.3" r="0.85" fill="#bdbdbd"/>
<circle cx="286.9" cy="180.3" r="0.85" fill="#bdbdbd"/>
<circle cx="276.0" cy="183.0" r="0.85" fill="#bdbdbd"/>
<circle cx="253.8" cy="180.5" r="0.85" fill="#bdbdbd"/>
<circle cx="277.3" cy="177.7" r="0.85" fill="#bdbdbd"/>
<circle cx="272.7" cy="181.9" r="0.85" fill="#bdbdbd"/>
<circle cx="306.1" cy="181.7" r="0.85" fill="#bdbdbd"/>
<circle cx="288.5" cy="176.4" r="0.85" fill="#bdbdbd"/>
<circle cx="353.7" cy="181.0" r="0.85" fill="#bdbdbd"/>
<circle cx="321.4" cy="177.4" r="0.85" fill="#bdbdbd"/>
<circle cx="360.9" cy="182.2" r="0.85" fill="#bdbdbd"/>
<circle cx="352.3" cy="178.2" r="0.9" fill="#bdbdbd"/>
<circle cx="348.2" cy="180.5" r="0.9" fill="#bdbdbd"/>
<circle cx="341.7" cy="182.6" r="0.9" fill="#bdbdbd"/>
<circle cx="332.7" cy="183.4" r="0.9" fill="#bdbdbd"/>
<circle cx="358.9" cy="175.2" r="0.9" fill="#bdbdbd"/>
<circle cx="242.6" cy="174.5" r="0.9" fill="#bdbdbd"/>
<circle cx="258.0" cy="183.0" r="0.9" fill="#bdbdbd"/>
<circle cx="270.0" cy="182.0" r="0.9" fill="#bdbdbd"/>
<circle cx="250.0" cy="186.0" r="0.9" fill="#bdbdbd"/>
<circle cx="263.0" cy="177.0" r="0.9" fill="#bdbdbd"/>
<circle cx="337.0" cy="185.0" r="0.9" fill="#bdbdbd"/>
<circle cx="345.0" cy="184.0" r="0.9" fill="#bdbdbd"/>
<polygon points="266.5,100.0 273.6,120.0 277.4,135.0 283.4,150.0 288.2,165.0 292.0,175.0 295.5,178.6 286.0,178.6 284.4,175.0 279.3,165.0 271.7,150.0 268.6,135.0 267.8,120.0 267.0,110.0 266.3,100.0" fill="#4aa67c"/>
<circle cx="257.8" cy="65.4" r="1.05" fill="#4aa67c"/>
<circle cx="258.5" cy="70.3" r="1.05" fill="#4aa67c"/>
<circle cx="259.1" cy="71.6" r="1.05" fill="#4aa67c"/>
<circle cx="259.7" cy="75.4" r="1.05" fill="#4aa67c"/>
<circle cx="260.4" cy="79.8" r="1.05" fill="#4aa67c"/>
<circle cx="259.1" cy="81.8" r="1.05" fill="#4aa67c"/>
<circle cx="262.3" cy="85.0" r="1.05" fill="#4aa67c"/>
<circle cx="262.9" cy="88.1" r="1.05" fill="#4aa67c"/>
<circle cx="263.6" cy="91.9" r="1.05" fill="#4aa67c"/>
<circle cx="265.5" cy="95.8" r="1.05" fill="#4aa67c"/>
<circle cx="266.1" cy="98.3" r="1.05" fill="#4aa67c"/>
<circle cx="266.8" cy="102.1" r="1.05" fill="#4aa67c"/>
<circle cx="261.0" cy="77.0" r="1.05" fill="#4aa67c"/>
<circle cx="264.0" cy="94.0" r="1.05" fill="#4aa67c"/>
<circle cx="262.0" cy="83.0" r="1.05" fill="#4aa67c"/>
<circle cx="265.0" cy="97.0" r="1.05" fill="#4aa67c"/>
<circle cx="265.5" cy="155.4" r="1.0" fill="#4aa67c"/>
<circle cx="264.9" cy="134.7" r="1.0" fill="#4aa67c"/>
<circle cx="272.0" cy="158.0" r="1.0" fill="#4aa67c"/>
<circle cx="263.4" cy="103.8" r="1.0" fill="#4aa67c"/>
<circle cx="264.5" cy="126.5" r="1.0" fill="#4aa67c"/>
<circle cx="275.4" cy="175.2" r="1.0" fill="#4aa67c"/>
<circle cx="265.4" cy="120.0" r="1.0" fill="#4aa67c"/>
<circle cx="261.1" cy="130.4" r="1.0" fill="#4aa67c"/>
<circle cx="264.2" cy="116.0" r="1.0" fill="#4aa67c"/>
<circle cx="280.5" cy="169.8" r="1.0" fill="#4aa67c"/>
<circle cx="281.4" cy="176.7" r="1.0" fill="#4aa67c"/>
<circle cx="266.1" cy="126.3" r="1.0" fill="#4aa67c"/>
<circle cx="262.8" cy="119.9" r="1.0" fill="#4aa67c"/>
<circle cx="261.8" cy="131.8" r="1.0" fill="#4aa67c"/>
<circle cx="262.4" cy="131.9" r="1.0" fill="#4aa67c"/>
<circle cx="266.2" cy="126.0" r="1.0" fill="#4aa67c"/>
<circle cx="278.8" cy="174.5" r="1.0" fill="#4aa67c"/>
<circle cx="266.0" cy="148.5" r="1.0" fill="#4aa67c"/>
<circle cx="278.0" cy="166.4" r="1.0" fill="#4aa67c"/>
<circle cx="263.5" cy="134.3" r="1.0" fill="#4aa67c"/>
<circle cx="276.5" cy="173.5" r="1.0" fill="#4aa67c"/>
<circle cx="264.6" cy="154.6" r="1.0" fill="#4aa67c"/>
<circle cx="273.6" cy="169.0" r="1.0" fill="#4aa67c"/>
<circle cx="280.2" cy="171.4" r="1.0" fill="#4aa67c"/>
<circle cx="269.1" cy="163.6" r="1.0" fill="#4aa67c"/>
<circle cx="259.6" cy="111.9" r="1.0" fill="#4aa67c"/>
<circle cx="264.3" cy="152.5" r="1.0" fill="#4aa67c"/>
<circle cx="267.6" cy="149.8" r="1.0" fill="#4aa67c"/>
<circle cx="268.9" cy="158.9" r="1.0" fill="#4aa67c"/>
<circle cx="264.3" cy="103.0" r="1.0" fill="#4aa67c"/>
<circle cx="264.9" cy="117.9" r="1.0" fill="#4aa67c"/>
<circle cx="266.9" cy="149.0" r="1.0" fill="#4aa67c"/>
<circle cx="271.0" cy="153.8" r="1.0" fill="#4aa67c"/>
<circle cx="267.3" cy="140.4" r="1.0" fill="#4aa67c"/>
<circle cx="266.7" cy="144.9" r="1.0" fill="#4aa67c"/>
<circle cx="267.4" cy="146.3" r="1.0" fill="#4aa67c"/>
<circle cx="260.5" cy="135.5" r="1.0" fill="#4aa67c"/>
<circle cx="277.8" cy="168.1" r="1.0" fill="#4aa67c"/>
<circle cx="267.4" cy="136.6" r="1.0" fill="#4aa67c"/>
<circle cx="278.9" cy="174.0" r="1.0" fill="#4aa67c"/>
<circle cx="272.3" cy="154.3" r="1.0" fill="#4aa67c"/>
<circle cx="267.1" cy="138.4" r="1.0" fill="#4aa67c"/>
<circle cx="268.1" cy="151.9" r="1.0" fill="#4aa67c"/>
<circle cx="269.3" cy="151.4" r="1.0" fill="#4aa67c"/>
<circle cx="281.1" cy="171.2" r="1.0" fill="#4aa67c"/>
<circle cx="265.6" cy="126.0" r="1.0" fill="#4aa67c"/>
<circle cx="265.9" cy="132.4" r="1.0" fill="#4aa67c"/>
<circle cx="273.2" cy="161.4" r="1.0" fill="#4aa67c"/>
<circle cx="270.6" cy="156.9" r="1.0" fill="#4aa67c"/>
<circle cx="282.9" cy="174.7" r="1.0" fill="#4aa67c"/>
<circle cx="266.6" cy="124.0" r="1.0" fill="#4aa67c"/>
<circle cx="271.3" cy="158.6" r="1.0" fill="#4aa67c"/>
<circle cx="264.8" cy="122.7" r="1.0" fill="#4aa67c"/>
<circle cx="271.0" cy="151.2" r="1.0" fill="#4aa67c"/>
<circle cx="279.2" cy="173.1" r="1.0" fill="#4aa67c"/>
<circle cx="263.9" cy="116.4" r="1.0" fill="#4aa67c"/>
<circle cx="274.2" cy="169.2" r="1.0" fill="#4aa67c"/>
<circle cx="278.6" cy="176.8" r="1.0" fill="#4aa67c"/>
<circle cx="280.0" cy="171.7" r="1.0" fill="#4aa67c"/>
<circle cx="278.9" cy="172.1" r="1.0" fill="#4aa67c"/>
<circle cx="267.0" cy="157.5" r="1.0" fill="#4aa67c"/>
<circle cx="265.6" cy="129.2" r="1.0" fill="#4aa67c"/>
<circle cx="265.6" cy="128.8" r="1.0" fill="#4aa67c"/>
<circle cx="264.3" cy="127.1" r="1.0" fill="#4aa67c"/>
<circle cx="273.3" cy="173.6" r="1.0" fill="#4aa67c"/>
<circle cx="268.2" cy="163.3" r="1.0" fill="#4aa67c"/>
<circle cx="275.8" cy="163.3" r="1.0" fill="#4aa67c"/>
<circle cx="267.0" cy="136.5" r="1.0" fill="#4aa67c"/>
<circle cx="264.2" cy="128.7" r="1.0" fill="#4aa67c"/>
<circle cx="265.4" cy="128.0" r="1.0" fill="#4aa67c"/>
<circle cx="275.1" cy="169.1" r="1.0" fill="#4aa67c"/>
<circle cx="275.9" cy="162.5" r="1.0" fill="#4aa67c"/>
<circle cx="273.8" cy="159.0" r="1.0" fill="#4aa67c"/>
<circle cx="265.2" cy="104.8" r="1.0" fill="#4aa67c"/>
<circle cx="264.4" cy="119.8" r="1.0" fill="#4aa67c"/>
<circle cx="265.0" cy="121.0" r="1.0" fill="#4aa67c"/>
<circle cx="269.4" cy="147.5" r="1.0" fill="#4aa67c"/>
<circle cx="260.4" cy="100.3" r="1.0" fill="#4aa67c"/>
<circle cx="273.0" cy="170.6" r="1.0" fill="#4aa67c"/>
<circle cx="258.8" cy="136.6" r="1.0" fill="#4aa67c"/>
<circle cx="277.8" cy="173.7" r="1.0" fill="#4aa67c"/>
<circle cx="266.6" cy="138.0" r="1.0" fill="#4aa67c"/>
<circle cx="277.7" cy="171.5" r="1.0" fill="#4aa67c"/>
<circle cx="265.8" cy="156.9" r="1.0" fill="#4aa67c"/>
<circle cx="276.3" cy="163.4" r="1.0" fill="#4aa67c"/>
<circle cx="260.1" cy="125.2" r="1.0" fill="#4aa67c"/>
<circle cx="272.8" cy="160.2" r="1.0" fill="#4aa67c"/>
<circle cx="273.0" cy="158.0" r="1.0" fill="#4aa67c"/>
<circle cx="261.4" cy="102.6" r="1.0" fill="#4aa67c"/>
<circle cx="281.2" cy="168.0" r="1.0" fill="#4aa67c"/>
<circle cx="267.3" cy="120.4" r="1.0" fill="#4aa67c"/>
<circle cx="266.7" cy="107.4" r="1.0" fill="#4aa67c"/>
<circle cx="273.9" cy="154.7" r="1.0" fill="#4aa67c"/>
<circle cx="267.5" cy="118.0" r="1.0" fill="#4aa67c"/>
<circle cx="271.3" cy="147.8" r="1.0" fill="#4aa67c"/>
<circle cx="275.8" cy="157.6" r="1.0" fill="#4aa67c"/>
<circle cx="271.8" cy="151.2" r="1.0" fill="#4aa67c"/>
<circle cx="278.9" cy="164.7" r="1.0" fill="#4aa67c"/>
<circle cx="270.2" cy="143.7" r="1.0" fill="#4aa67c"/>
<circle cx="274.8" cy="156.8" r="1.0" fill="#4aa67c"/>
<circle cx="267.4" cy="119.1" r="1.0" fill="#4aa67c"/>
<circle cx="267.4" cy="111.8" r="1.0" fill="#4aa67c"/>
<circle cx="270.3" cy="144.5" r="1.0" fill="#4aa67c"/>
<circle cx="268.8" cy="130.5" r="1.0" fill="#4aa67c"/>
<circle cx="269.1" cy="139.1" r="1.0" fill="#4aa67c"/>
<circle cx="278.0" cy="162.3" r="1.0" fill="#4aa67c"/>
<circle cx="284.5" cy="176.3" r="1.0" fill="#4aa67c"/>
<circle cx="269.1" cy="136.6" r="1.0" fill="#4aa67c"/>
<circle cx="279.5" cy="164.7" r="1.0" fill="#4aa67c"/>
<circle cx="266.2" cy="103.1" r="1.0" fill="#4aa67c"/>
<circle cx="266.5" cy="109.2" r="1.0" fill="#4aa67c"/>
<circle cx="284.3" cy="174.9" r="1.0" fill="#4aa67c"/>
<circle cx="282.5" cy="171.6" r="1.0" fill="#4aa67c"/>
<circle cx="280.0" cy="166.7" r="1.0" fill="#4aa67c"/>
<circle cx="268.0" cy="120.0" r="1.0" fill="#4aa67c"/>
<circle cx="282.8" cy="172.8" r="1.0" fill="#4aa67c"/>
<circle cx="270.9" cy="145.9" r="1.0" fill="#4aa67c"/>
<circle cx="267.3" cy="116.8" r="1.0" fill="#4aa67c"/>
<circle cx="266.7" cy="110.9" r="1.0" fill="#4aa67c"/>
<circle cx="267.8" cy="119.6" r="1.0" fill="#4aa67c"/>
<circle cx="271.4" cy="150.2" r="1.0" fill="#4aa67c"/>
<circle cx="266.1" cy="100.9" r="1.0" fill="#4aa67c"/>
<circle cx="272.4" cy="152.2" r="1.0" fill="#4aa67c"/>
<circle cx="267.6" cy="124.0" r="1.0" fill="#4aa67c"/>
<circle cx="277.3" cy="161.2" r="1.0" fill="#4aa67c"/>
<circle cx="266.1" cy="104.9" r="1.0" fill="#4aa67c"/>
<circle cx="268.3" cy="130.4" r="1.0" fill="#4aa67c"/>
<circle cx="271.0" cy="149.2" r="1.0" fill="#4aa67c"/>
<circle cx="267.3" cy="112.6" r="1.0" fill="#4aa67c"/>
<circle cx="268.1" cy="131.6" r="1.0" fill="#4aa67c"/>
<circle cx="268.3" cy="123.7" r="1.0" fill="#4aa67c"/>
<circle cx="268.0" cy="124.1" r="1.0" fill="#4aa67c"/>
<circle cx="268.0" cy="127.5" r="1.0" fill="#4aa67c"/>
<circle cx="280.5" cy="166.5" r="1.0" fill="#4aa67c"/>
<circle cx="267.8" cy="128.0" r="1.0" fill="#4aa67c"/>
<circle cx="274.4" cy="156.1" r="1.0" fill="#4aa67c"/>
<circle cx="266.6" cy="100.5" r="1.0" fill="#4aa67c"/>
<circle cx="268.7" cy="132.6" r="1.0" fill="#4aa67c"/>
<circle cx="268.7" cy="131.3" r="1.0" fill="#4aa67c"/>
<circle cx="268.3" cy="135.5" r="1.0" fill="#4aa67c"/>
<circle cx="266.3" cy="101.1" r="1.0" fill="#4aa67c"/>
<circle cx="271.9" cy="149.3" r="1.0" fill="#4aa67c"/>
<circle cx="266.8" cy="106.9" r="1.0" fill="#4aa67c"/>
<circle cx="268.2" cy="128.6" r="1.0" fill="#4aa67c"/>
<circle cx="266.8" cy="111.2" r="1.0" fill="#4aa67c"/>
<circle cx="270.0" cy="140.1" r="1.0" fill="#4aa67c"/>
<circle cx="266.8" cy="108.4" r="1.0" fill="#4aa67c"/>
<circle cx="278.1" cy="162.0" r="1.0" fill="#4aa67c"/>
<circle cx="266.9" cy="115.2" r="1.0" fill="#4aa67c"/>
<circle cx="291.9" cy="172.6" r="0.9" fill="#4aa67c"/>
<circle cx="277.8" cy="137.2" r="0.9" fill="#4aa67c"/>
<circle cx="290.6" cy="171.3" r="0.9" fill="#4aa67c"/>
<circle cx="290.3" cy="169.6" r="0.9" fill="#4aa67c"/>
<circle cx="287.4" cy="163.5" r="0.9" fill="#4aa67c"/>
<circle cx="286.6" cy="160.5" r="0.9" fill="#4aa67c"/>
<circle cx="277.0" cy="131.1" r="0.9" fill="#4aa67c"/>
<circle cx="287.6" cy="163.8" r="0.9" fill="#4aa67c"/>
<circle cx="272.5" cy="116.8" r="0.9" fill="#4aa67c"/>
<circle cx="279.3" cy="139.9" r="0.9" fill="#4aa67c"/>
<circle cx="269.7" cy="109.5" r="0.9" fill="#4aa67c"/>
<circle cx="285.9" cy="155.8" r="0.9" fill="#4aa67c"/>
<circle cx="267.9" cy="103.2" r="0.9" fill="#4aa67c"/>
<circle cx="285.6" cy="158.3" r="0.9" fill="#4aa67c"/>
<circle cx="287.7" cy="164.5" r="0.9" fill="#4aa67c"/>
<circle cx="282.1" cy="146.2" r="0.9" fill="#4aa67c"/>
<circle cx="282.6" cy="148.3" r="0.9" fill="#4aa67c"/>
<circle cx="277.0" cy="132.3" r="0.9" fill="#4aa67c"/>
<circle cx="277.2" cy="132.8" r="0.9" fill="#4aa67c"/>
<circle cx="277.3" cy="134.4" r="0.9" fill="#4aa67c"/>
<circle cx="267.4" cy="101.8" r="0.9" fill="#4aa67c"/>
<circle cx="278.3" cy="137.7" r="0.9" fill="#4aa67c"/>
<circle cx="286.7" cy="158.8" r="0.9" fill="#4aa67c"/>
<circle cx="277.2" cy="135.3" r="0.9" fill="#4aa67c"/>
<circle cx="277.6" cy="136.4" r="0.9" fill="#4aa67c"/>
<circle cx="270.1" cy="109.9" r="0.9" fill="#4aa67c"/>
<circle cx="269.1" cy="107.1" r="0.9" fill="#4aa67c"/>
<circle cx="278.7" cy="139.3" r="0.9" fill="#4aa67c"/>
<circle cx="282.6" cy="149.0" r="0.9" fill="#4aa67c"/>
<circle cx="286.0" cy="156.5" r="0.9" fill="#4aa67c"/>
<circle cx="278.7" cy="139.4" r="0.9" fill="#4aa67c"/>
<circle cx="278.9" cy="138.8" r="0.9" fill="#4aa67c"/>
<circle cx="291.0" cy="173.2" r="0.9" fill="#4aa67c"/>
<circle cx="289.4" cy="166.0" r="0.9" fill="#4aa67c"/>
<circle cx="286.0" cy="156.4" r="0.9" fill="#4aa67c"/>
<circle cx="272.6" cy="114.9" r="0.9" fill="#4aa67c"/>
<circle cx="279.3" cy="137.9" r="0.9" fill="#4aa67c"/>
<circle cx="290.0" cy="170.5" r="0.9" fill="#4aa67c"/>
<circle cx="287.5" cy="160.7" r="0.9" fill="#4aa67c"/>
<circle cx="268.2" cy="105.0" r="0.9" fill="#4aa67c"/>
<circle cx="251.5" cy="55.6" r="1.05" fill="#4aa67c"/>
<circle cx="248.9" cy="73.5" r="1.05" fill="#4aa67c"/>
<circle cx="247.0" cy="85.6" r="1.05" fill="#4aa67c"/>
<circle cx="257.2" cy="91.3" r="1.05" fill="#4aa67c"/>
<circle cx="251.5" cy="101.5" r="1.05" fill="#4aa67c"/>
<circle cx="259.7" cy="107.2" r="1.05" fill="#4aa67c"/>
<circle cx="255.9" cy="115.5" r="1.05" fill="#4aa67c"/>
<circle cx="261.0" cy="119.3" r="1.05" fill="#4aa67c"/>
<circle cx="262.9" cy="115.5" r="1.05" fill="#4aa67c"/>
<circle cx="240.9" cy="124.3" r="1.05" fill="#4aa67c"/>
<circle cx="252.0" cy="129.0" r="1.05" fill="#4aa67c"/>
<circle cx="258.0" cy="140.0" r="1.05" fill="#4aa67c"/>
<circle cx="254.0" cy="150.0" r="1.05" fill="#4aa67c"/>
<circle cx="260.0" cy="160.0" r="1.05" fill="#4aa67c"/>
<circle cx="256.0" cy="165.0" r="1.05" fill="#4aa67c"/>
<circle cx="218.6" cy="144.6" r="1.0" fill="#4aa67c"/>
<circle cx="220.4" cy="147.0" r="1.0" fill="#4aa67c"/>
<circle cx="221.9" cy="149.2" r="1.0" fill="#4aa67c"/>
<circle cx="223.1" cy="152.4" r="1.0" fill="#4aa67c"/>
<circle cx="224.4" cy="153.9" r="1.0" fill="#4aa67c"/>
<circle cx="226.3" cy="156.3" r="1.0" fill="#4aa67c"/>
<circle cx="227.4" cy="158.4" r="1.0" fill="#4aa67c"/>
<circle cx="229.2" cy="161.6" r="1.0" fill="#4aa67c"/>
<circle cx="231.4" cy="163.9" r="1.0" fill="#4aa67c"/>
<circle cx="232.4" cy="166.0" r="1.0" fill="#4aa67c"/>
<circle cx="233.9" cy="168.0" r="1.0" fill="#4aa67c"/>
<circle cx="236.2" cy="170.1" r="1.0" fill="#4aa67c"/>
<circle cx="238.0" cy="172.7" r="1.0" fill="#4aa67c"/>
<polygon points="337.6,100.0 333.5,120.0 327.8,140.0 324.5,155.0 318.0,170.0 315.0,176.0 311.5,176.0 313.1,170.0 318.8,155.0 323.7,140.0 329.4,120.0 335.6,100.0" fill="#9b85e8"/>
<circle cx="347.3" cy="51.2" r="1.05" fill="#9b85e8"/>
<circle cx="344.7" cy="58.1" r="1.05" fill="#9b85e8"/>
<circle cx="344.2" cy="61.4" r="1.05" fill="#9b85e8"/>
<circle cx="345.1" cy="67.4" r="1.05" fill="#9b85e8"/>
<circle cx="343.2" cy="70.3" r="1.05" fill="#9b85e8"/>
<circle cx="340.7" cy="78.2" r="1.05" fill="#9b85e8"/>
<circle cx="340.0" cy="82.7" r="1.05" fill="#9b85e8"/>
<circle cx="338.8" cy="86.5" r="1.05" fill="#9b85e8"/>
<circle cx="338.4" cy="88.4" r="1.05" fill="#9b85e8"/>
<circle cx="340.7" cy="91.0" r="1.05" fill="#9b85e8"/>
<circle cx="337.5" cy="94.1" r="1.05" fill="#9b85e8"/>
<circle cx="336.8" cy="96.7" r="1.05" fill="#9b85e8"/>
<circle cx="338.4" cy="99.2" r="1.05" fill="#9b85e8"/>
<circle cx="354.7" cy="12.2" r="1.05" fill="#9b85e8"/>
<circle cx="337.3" cy="121.3" r="1.05" fill="#9b85e8"/>
<circle cx="339.3" cy="143.3" r="1.05" fill="#9b85e8"/>
<circle cx="330.3" cy="144.2" r="1.05" fill="#9b85e8"/>
<circle cx="335.2" cy="166.2" r="1.05" fill="#9b85e8"/>
<circle cx="361.3" cy="172.8" r="1.05" fill="#9b85e8"/>
<circle cx="356.4" cy="175.9" r="1.05" fill="#9b85e8"/>
<circle cx="336.0" cy="110.0" r="1.05" fill="#9b85e8"/>
<circle cx="334.0" cy="128.0" r="1.05" fill="#9b85e8"/>
<circle cx="332.0" cy="135.0" r="1.05" fill="#9b85e8"/>
<circle cx="329.0" cy="150.0" r="1.05" fill="#9b85e8"/>
<circle cx="326.0" cy="158.0" r="1.05" fill="#9b85e8"/>
<circle cx="322.0" cy="165.0" r="1.05" fill="#9b85e8"/>
<circle cx="328.7" cy="143.5" r="1.0" fill="#9b85e8"/>
<circle cx="321.3" cy="166.2" r="1.0" fill="#9b85e8"/>
<circle cx="327.3" cy="147.2" r="1.0" fill="#9b85e8"/>
<circle cx="330.4" cy="129.6" r="1.0" fill="#9b85e8"/>
<circle cx="315.9" cy="174.3" r="1.0" fill="#9b85e8"/>
<circle cx="327.5" cy="143.3" r="1.0" fill="#9b85e8"/>
<circle cx="330.3" cy="133.2" r="1.0" fill="#9b85e8"/>
<circle cx="334.3" cy="113.3" r="1.0" fill="#9b85e8"/>
<circle cx="321.4" cy="161.5" r="1.0" fill="#9b85e8"/>
<circle cx="334.8" cy="119.0" r="1.0" fill="#9b85e8"/>
<circle cx="328.3" cy="143.9" r="1.0" fill="#9b85e8"/>
<circle cx="325.1" cy="149.8" r="1.0" fill="#9b85e8"/>
<circle cx="336.5" cy="102.5" r="1.0" fill="#9b85e8"/>
<circle cx="335.4" cy="111.2" r="1.0" fill="#9b85e8"/>
<circle cx="328.3" cy="138.5" r="1.0" fill="#9b85e8"/>
<circle cx="319.1" cy="167.2" r="1.0" fill="#9b85e8"/>
<circle cx="325.7" cy="149.0" r="1.0" fill="#9b85e8"/>
<circle cx="337.5" cy="101.7" r="1.0" fill="#9b85e8"/>
<circle cx="335.4" cy="108.0" r="1.0" fill="#9b85e8"/>
<circle cx="331.2" cy="126.8" r="1.0" fill="#9b85e8"/>
<circle cx="327.5" cy="144.2" r="1.0" fill="#9b85e8"/>
<circle cx="334.6" cy="115.3" r="1.0" fill="#9b85e8"/>
<circle cx="335.6" cy="110.1" r="1.0" fill="#9b85e8"/>
<circle cx="317.3" cy="170.2" r="1.0" fill="#9b85e8"/>
<circle cx="336.0" cy="107.2" r="1.0" fill="#9b85e8"/>
<circle cx="326.6" cy="147.9" r="1.0" fill="#9b85e8"/>
<circle cx="331.1" cy="130.1" r="1.0" fill="#9b85e8"/>
<circle cx="334.2" cy="119.8" r="1.0" fill="#9b85e8"/>
<circle cx="326.8" cy="142.2" r="1.0" fill="#9b85e8"/>
<circle cx="331.7" cy="126.3" r="1.0" fill="#9b85e8"/>
<circle cx="318.0" cy="170.3" r="1.0" fill="#9b85e8"/>
<circle cx="323.9" cy="155.0" r="1.0" fill="#9b85e8"/>
<circle cx="338.3" cy="103.3" r="1.0" fill="#9b85e8"/>
<circle cx="327.8" cy="139.9" r="1.0" fill="#9b85e8"/>
<circle cx="336.5" cy="104.4" r="1.0" fill="#9b85e8"/>
<circle cx="323.6" cy="158.4" r="1.0" fill="#9b85e8"/>
<circle cx="317.2" cy="170.6" r="1.0" fill="#9b85e8"/>
<circle cx="335.2" cy="110.7" r="1.0" fill="#9b85e8"/>
<circle cx="328.9" cy="138.0" r="1.0" fill="#9b85e8"/>
<circle cx="325.6" cy="148.1" r="1.0" fill="#9b85e8"/>
<circle cx="332.5" cy="123.2" r="1.0" fill="#9b85e8"/>
<circle cx="334.0" cy="122.5" r="1.0" fill="#9b85e8"/>
<circle cx="322.9" cy="158.7" r="1.0" fill="#9b85e8"/>
<circle cx="325.9" cy="153.7" r="1.0" fill="#9b85e8"/>
<circle cx="323.6" cy="155.9" r="1.0" fill="#9b85e8"/>
<line x1="210.6" y1="4" x2="210.6" y2="192.2" stroke="#a8a8a8" stroke-width="1.2"/>
<line x1="210.5" y1="192.0" x2="367.8" y2="192.0" stroke="#b4b4b4" stroke-width="0.6"/>
<text x="208.40" y="185.10" font-size="4.9" font-weight="bold" text-anchor="end" fill="#333" stroke="#333" stroke-width="0.15" >0</text>
<line x1="209" y1="183.30" x2="210" y2="183.30" stroke="#666" stroke-width="0.4"/>
<text x="208.40" y="136.85" font-size="4.9" font-weight="bold" text-anchor="end" fill="#333" stroke="#333" stroke-width="0.15" >5</text>
<line x1="209" y1="135.05" x2="210" y2="135.05" stroke="#666" stroke-width="0.4"/>
<text x="208.40" y="88.60" font-size="4.9" font-weight="bold" text-anchor="end" fill="#333" stroke="#333" stroke-width="0.15" >10</text>
<line x1="209" y1="86.80" x2="210" y2="86.80" stroke="#666" stroke-width="0.4"/>
<text x="208.40" y="40.35" font-size="4.9" font-weight="bold" text-anchor="end" fill="#333" stroke="#333" stroke-width="0.15" >15</text>
<line x1="209" y1="38.55" x2="210" y2="38.55" stroke="#666" stroke-width="0.4"/>
<text x="246.40" y="197.80" font-size="4.9" font-weight="bold" text-anchor="middle" fill="#333" stroke="#333" stroke-width="0.15" >-5</text>
<text x="301.90" y="197.80" font-size="4.9" font-weight="bold" text-anchor="middle" fill="#333" stroke="#333" stroke-width="0.15" >0</text>
<text x="357.40" y="197.80" font-size="4.9" font-weight="bold" text-anchor="middle" fill="#333" stroke="#333" stroke-width="0.15" >5</text>
<text x="293.60" y="201.80" font-size="4.6" font-weight="bold" text-anchor="middle" fill="#222" stroke="#222" stroke-width="0.15" >log2(FC)</text>
<text transform="translate(202.7,92.5) rotate(-90)" font-size="4.9" font-weight="bold" text-anchor="middle" fill="#222" stroke="#222" stroke-width="0.12">-log10(p-value)</text>
<text x="293.00" y="10.70" font-size="7.6" font-weight="bold" text-anchor="middle" fill="#1a1a1a" stroke="#1a1a1a" stroke-width="0.15" >Differentially Expressed Peaks</text>
<text x="293.60" y="18.80" font-size="7.6" font-weight="bold" text-anchor="middle" fill="#1a1a1a" stroke="#1a1a1a" stroke-width="0.15" >Day 00 vs. Day 45</text>
<rect x="277.4" y="31" width="24.8" height="25.0" fill="#fbfbfb"/>
<circle cx="282.6" cy="36.7" r="1.1" fill="#4aa67c"/>
<text x="288.00" y="38.00" font-size="3.8" font-weight="normal" text-anchor="start" fill="#333" stroke="#333" stroke-width="0.08" >Down</text>
<circle cx="282.6" cy="43.5" r="1.1" fill="#bdbdbd"/>
<text x="288.00" y="44.80" font-size="3.8" font-weight="normal" text-anchor="start" fill="#333" stroke="#333" stroke-width="0.08" >Not Sig</text>
<circle cx="282.6" cy="50.6" r="1.1" fill="#9b85e8"/>
<text x="288.00" y="51.90" font-size="3.8" font-weight="normal" text-anchor="start" fill="#333" stroke="#333" stroke-width="0.08" >Up</text>
<line x1="273.0" y1="143.6" x2="283.0" y2="150.0" stroke="#222" stroke-width="0.45"/>
<rect x="262.7" y="141.0" width="20.7" height="5.1" rx="0.9" fill="#fff" stroke="#5a5a5a" stroke-width="0.4"/>
<text x="273.05" y="145.10" font-size="4.3" font-weight="normal" text-anchor="middle" fill="#333" stroke="#333" stroke-width="0.1" >RBFOX3</text>
<line x1="281.4" y1="155.3" x2="287.0" y2="162.0" stroke="#222" stroke-width="0.45"/>
<rect x="271.9" y="152.5" width="19.1" height="5.7" rx="0.9" fill="#fff" stroke="#5a5a5a" stroke-width="0.4"/>
<text x="281.45" y="156.90" font-size="4.3" font-weight="normal" text-anchor="middle" fill="#333" stroke="#333" stroke-width="0.1" >NANOG</text>
<line x1="274.4" y1="164.4" x2="289.0" y2="167.0" stroke="#222" stroke-width="0.45"/>
<rect x="265.5" y="161.8" width="17.9" height="5.3" rx="0.9" fill="#fff" stroke="#5a5a5a" stroke-width="0.4"/>
<text x="274.45" y="166.00" font-size="4.3" font-weight="normal" text-anchor="middle" fill="#333" stroke="#333" stroke-width="0.1" >GNGT2</text>
<line x1="268.1" y1="173.0" x2="288.0" y2="172.0" stroke="#222" stroke-width="0.45"/>
<rect x="255.7" y="170.3" width="24.9" height="5.4" rx="0.9" fill="#fff" stroke="#5a5a5a" stroke-width="0.4"/>
<text x="268.15" y="174.55" font-size="4.3" font-weight="normal" text-anchor="middle" fill="#333" stroke="#333" stroke-width="0.1" >NEUROD2</text>
<line x1="290.5" y1="177.4" x2="292.0" y2="176.0" stroke="#222" stroke-width="0.45"/>
<rect x="282.9" y="174.8" width="15.3" height="5.1" rx="0.9" fill="#fff" stroke="#5a5a5a" stroke-width="0.4"/>
<text x="290.55" y="178.90" font-size="4.3" font-weight="normal" text-anchor="middle" fill="#333" stroke="#333" stroke-width="0.1" >MKI67</text>
<line x1="313.8" y1="150.6" x2="316.0" y2="160.0" stroke="#222" stroke-width="0.45"/>
<rect x="308.2" y="147.9" width="11.1" height="5.3" rx="0.9" fill="#fff" stroke="#5a5a5a" stroke-width="0.4"/>
<text x="313.75" y="152.10" font-size="4.3" font-weight="normal" text-anchor="middle" fill="#333" stroke="#333" stroke-width="0.1" >ISL1</text>
<line x1="335.3" y1="154.8" x2="318.0" y2="160.0" stroke="#222" stroke-width="0.45"/>
<rect x="323.2" y="152.0" width="24.2" height="5.6" rx="0.9" fill="#fff" stroke="#5a5a5a" stroke-width="0.4"/>
<text x="335.30" y="156.35" font-size="4.3" font-weight="normal" text-anchor="middle" fill="#333" stroke="#333" stroke-width="0.1" >NEUROD1</text>
<line x1="305.3" y1="159.1" x2="315.0" y2="164.0" stroke="#222" stroke-width="0.45"/>
<rect x="297.5" y="156.4" width="15.6" height="5.4" rx="0.9" fill="#fff" stroke="#5a5a5a" stroke-width="0.4"/>
<text x="305.30" y="160.65" font-size="4.3" font-weight="normal" text-anchor="middle" fill="#333" stroke="#333" stroke-width="0.1" >ATOH7</text>
<line x1="324.9" y1="163.5" x2="316.0" y2="165.0" stroke="#222" stroke-width="0.45"/>
<rect x="318.0" y="160.8" width="13.9" height="5.4" rx="0.9" fill="#fff" stroke="#5a5a5a" stroke-width="0.4"/>
<text x="324.95" y="165.05" font-size="4.3" font-weight="normal" text-anchor="middle" fill="#333" stroke="#333" stroke-width="0.1" >PAX6</text>
<line x1="303.8" y1="168.2" x2="313.0" y2="172.0" stroke="#222" stroke-width="0.45"/>
<rect x="298.6" y="165.4" width="10.4" height="5.7" rx="0.9" fill="#fff" stroke="#5a5a5a" stroke-width="0.4"/>
<text x="303.80" y="169.80" font-size="4.3" font-weight="normal" text-anchor="middle" fill="#333" stroke="#333" stroke-width="0.1" >SIX3</text>
<line x1="329.4" y1="172.8" x2="315.0" y2="172.0" stroke="#222" stroke-width="0.45"/>
<rect x="317.2" y="170.0" width="24.5" height="5.6" rx="0.9" fill="#fff" stroke="#5a5a5a" stroke-width="0.4"/>
<text x="329.45" y="174.35" font-size="4.3" font-weight="normal" text-anchor="middle" fill="#333" stroke="#333" stroke-width="0.1" >NEUROG2</text>
<line x1="308.2" y1="177.7" x2="311.0" y2="176.0" stroke="#222" stroke-width="0.45"/>
<rect x="302.5" y="174.9" width="11.4" height="5.6" rx="0.9" fill="#fff" stroke="#5a5a5a" stroke-width="0.4"/>
<text x="308.20" y="179.25" font-size="4.3" font-weight="normal" text-anchor="middle" fill="#333" stroke="#333" stroke-width="0.1" >SIX6</text>
<rect x="387.4" y="4.0" width="155.80" height="188.00" fill="#ebebeb"/>
<line x1="391.15" y1="4.0" x2="391.15" y2="192.0" stroke="#f2f2f2" stroke-width="0.5"/>
<line x1="436.65" y1="4.0" x2="436.65" y2="192.0" stroke="#f2f2f2" stroke-width="0.5"/>
<line x1="482.15" y1="4.0" x2="482.15" y2="192.0" stroke="#f2f2f2" stroke-width="0.5"/>
<line x1="527.65" y1="4.0" x2="527.65" y2="192.0" stroke="#f2f2f2" stroke-width="0.5"/>
<line x1="387.4" y1="163.06" x2="543.2" y2="163.06" stroke="#f2f2f2" stroke-width="0.5"/>
<line x1="387.4" y1="122.39" x2="543.2" y2="122.39" stroke="#f2f2f2" stroke-width="0.5"/>
<line x1="387.4" y1="81.71" x2="543.2" y2="81.71" stroke="#f2f2f2" stroke-width="0.5"/>
<line x1="387.4" y1="41.04" x2="543.2" y2="41.04" stroke="#f2f2f2" stroke-width="0.5"/>
<line x1="413.90" y1="4.0" x2="413.90" y2="192.0" stroke="#f8f8f8" stroke-width="0.9"/>
<line x1="459.40" y1="4.0" x2="459.40" y2="192.0" stroke="#f8f8f8" stroke-width="0.9"/>
<line x1="504.90" y1="4.0" x2="504.90" y2="192.0" stroke="#f8f8f8" stroke-width="0.9"/>
<line x1="387.4" y1="183.40" x2="543.2" y2="183.40" stroke="#f8f8f8" stroke-width="0.9"/>
<line x1="387.4" y1="142.73" x2="543.2" y2="142.73" stroke="#f8f8f8" stroke-width="0.9"/>
<line x1="387.4" y1="102.05" x2="543.2" y2="102.05" stroke="#f8f8f8" stroke-width="0.9"/>
<line x1="387.4" y1="61.38" x2="543.2" y2="61.38" stroke="#f8f8f8" stroke-width="0.9"/>
<line x1="387.4" y1="20.70" x2="543.2" y2="20.70" stroke="#f8f8f8" stroke-width="0.9"/>
<circle cx="457.9" cy="181.9" r="0.85" fill="#bdbdbd"/>
<circle cx="447.6" cy="173.8" r="0.85" fill="#bdbdbd"/>
<circle cx="452.3" cy="176.2" r="0.85" fill="#bdbdbd"/>
<circle cx="470.2" cy="173.3" r="0.85" fill="#bdbdbd"/>
<circle cx="468.6" cy="179.8" r="0.85" fill="#bdbdbd"/>
<circle cx="449.3" cy="175.5" r="0.85" fill="#bdbdbd"/>
<circle cx="471.9" cy="170.2" r="0.85" fill="#bdbdbd"/>
<circle cx="460.4" cy="182.8" r="0.85" fill="#bdbdbd"/>
<circle cx="479.5" cy="165.4" r="0.85" fill="#bdbdbd"/>
<circle cx="447.2" cy="169.6" r="0.85" fill="#bdbdbd"/>
<circle cx="449.0" cy="171.7" r="0.85" fill="#bdbdbd"/>
<circle cx="448.0" cy="170.4" r="0.85" fill="#bdbdbd"/>
<circle cx="470.0" cy="180.3" r="0.85" fill="#bdbdbd"/>
<circle cx="451.9" cy="177.2" r="0.85" fill="#bdbdbd"/>
<circle cx="448.1" cy="172.6" r="0.85" fill="#bdbdbd"/>
<circle cx="477.0" cy="166.8" r="0.85" fill="#bdbdbd"/>
<circle cx="466.5" cy="179.4" r="0.85" fill="#bdbdbd"/>
<circle cx="480.1" cy="166.5" r="0.85" fill="#bdbdbd"/>
<circle cx="467.9" cy="174.8" r="0.85" fill="#bdbdbd"/>
<circle cx="474.9" cy="171.1" r="0.85" fill="#bdbdbd"/>
<circle cx="462.4" cy="182.2" r="0.85" fill="#bdbdbd"/>
<circle cx="451.1" cy="174.9" r="0.85" fill="#bdbdbd"/>
<circle cx="441.2" cy="167.3" r="0.85" fill="#bdbdbd"/>
<circle cx="467.9" cy="178.6" r="0.85" fill="#bdbdbd"/>
<circle cx="469.6" cy="176.2" r="0.85" fill="#bdbdbd"/>
<circle cx="453.5" cy="178.6" r="0.85" fill="#bdbdbd"/>
<circle cx="473.1" cy="170.8" r="0.85" fill="#bdbdbd"/>
<circle cx="440.6" cy="168.8" r="0.85" fill="#bdbdbd"/>
<circle cx="475.3" cy="172.8" r="0.85" fill="#bdbdbd"/>
<circle cx="442.4" cy="168.3" r="0.85" fill="#bdbdbd"/>
<circle cx="446.7" cy="169.3" r="0.85" fill="#bdbdbd"/>
<circle cx="474.4" cy="166.4" r="0.85" fill="#bdbdbd"/>
<circle cx="472.9" cy="172.4" r="0.85" fill="#bdbdbd"/>
<circle cx="465.1" cy="182.2" r="0.85" fill="#bdbdbd"/>
<circle cx="450.2" cy="174.1" r="0.85" fill="#bdbdbd"/>
<circle cx="470.5" cy="171.4" r="0.85" fill="#bdbdbd"/>
<circle cx="446.6" cy="170.2" r="0.85" fill="#bdbdbd"/>
<circle cx="448.9" cy="172.3" r="0.85" fill="#bdbdbd"/>
<circle cx="453.7" cy="182.8" r="0.85" fill="#bdbdbd"/>
<circle cx="451.7" cy="178.8" r="0.85" fill="#bdbdbd"/>
<circle cx="474.6" cy="166.6" r="0.85" fill="#bdbdbd"/>
<circle cx="464.5" cy="181.4" r="0.85" fill="#bdbdbd"/>
<circle cx="456.7" cy="181.0" r="0.85" fill="#bdbdbd"/>
<circle cx="471.2" cy="173.0" r="0.85" fill="#bdbdbd"/>
<circle cx="461.0" cy="183.4" r="0.85" fill="#bdbdbd"/>
<circle cx="447.1" cy="170.1" r="0.85" fill="#bdbdbd"/>
<circle cx="473.2" cy="168.5" r="0.85" fill="#bdbdbd"/>
<circle cx="445.2" cy="169.3" r="0.85" fill="#bdbdbd"/>
<circle cx="470.7" cy="170.1" r="0.85" fill="#bdbdbd"/>
<circle cx="459.0" cy="183.1" r="0.85" fill="#bdbdbd"/>
<circle cx="472.2" cy="170.2" r="0.85" fill="#bdbdbd"/>
<circle cx="452.8" cy="179.8" r="0.85" fill="#bdbdbd"/>
<circle cx="473.7" cy="167.2" r="0.85" fill="#bdbdbd"/>
<circle cx="450.1" cy="181.8" r="0.85" fill="#bdbdbd"/>
<circle cx="447.1" cy="170.4" r="0.85" fill="#bdbdbd"/>
<circle cx="442.5" cy="168.0" r="0.85" fill="#bdbdbd"/>
<circle cx="465.3" cy="182.5" r="0.85" fill="#bdbdbd"/>
<circle cx="467.9" cy="176.8" r="0.85" fill="#bdbdbd"/>
<circle cx="471.8" cy="171.4" r="0.85" fill="#bdbdbd"/>
<circle cx="455.1" cy="181.0" r="0.85" fill="#bdbdbd"/>
<circle cx="454.8" cy="179.3" r="0.85" fill="#bdbdbd"/>
<circle cx="476.2" cy="164.8" r="0.85" fill="#bdbdbd"/>
<circle cx="476.7" cy="166.0" r="0.85" fill="#bdbdbd"/>
<circle cx="459.5" cy="183.4" r="0.85" fill="#bdbdbd"/>
<circle cx="447.9" cy="175.5" r="0.85" fill="#bdbdbd"/>
<circle cx="457.7" cy="183.4" r="0.85" fill="#bdbdbd"/>
<circle cx="470.3" cy="171.9" r="0.85" fill="#bdbdbd"/>
<circle cx="465.7" cy="178.0" r="0.85" fill="#bdbdbd"/>
<circle cx="444.5" cy="168.8" r="0.85" fill="#bdbdbd"/>
<circle cx="474.2" cy="169.4" r="0.85" fill="#bdbdbd"/>
<circle cx="445.1" cy="172.1" r="0.85" fill="#bdbdbd"/>
<circle cx="456.8" cy="181.1" r="0.85" fill="#bdbdbd"/>
<circle cx="443.2" cy="169.5" r="0.85" fill="#bdbdbd"/>
<circle cx="457.8" cy="183.4" r="0.85" fill="#bdbdbd"/>
<circle cx="446.1" cy="169.7" r="0.85" fill="#bdbdbd"/>
<circle cx="450.8" cy="175.5" r="0.85" fill="#bdbdbd"/>
<circle cx="444.5" cy="173.1" r="0.85" fill="#bdbdbd"/>
<circle cx="444.5" cy="166.0" r="0.85" fill="#bdbdbd"/>
<circle cx="460.4" cy="183.4" r="0.85" fill="#bdbdbd"/>
<circle cx="444.7" cy="167.4" r="0.85" fill="#bdbdbd"/>
<circle cx="469.3" cy="179.8" r="0.85" fill="#bdbdbd"/>
<circle cx="442.2" cy="169.2" r="0.85" fill="#bdbdbd"/>
<circle cx="454.4" cy="183.4" r="0.85" fill="#bdbdbd"/>
<circle cx="469.5" cy="172.3" r="0.85" fill="#bdbdbd"/>
<circle cx="456.6" cy="181.9" r="0.85" fill="#bdbdbd"/>
<circle cx="442.4" cy="168.7" r="0.85" fill="#bdbdbd"/>
<circle cx="446.7" cy="169.3" r="0.85" fill="#bdbdbd"/>
<circle cx="455.0" cy="178.9" r="0.85" fill="#bdbdbd"/>
<circle cx="472.0" cy="170.2" r="0.85" fill="#bdbdbd"/>
<circle cx="465.1" cy="181.0" r="0.85" fill="#bdbdbd"/>
<circle cx="457.8" cy="183.4" r="0.85" fill="#bdbdbd"/>
<circle cx="455.3" cy="182.7" r="0.85" fill="#bdbdbd"/>
<circle cx="469.8" cy="174.7" r="0.85" fill="#bdbdbd"/>
<circle cx="462.6" cy="181.9" r="0.85" fill="#bdbdbd"/>
<circle cx="470.2" cy="173.2" r="0.85" fill="#bdbdbd"/>
<circle cx="469.0" cy="173.5" r="0.85" fill="#bdbdbd"/>
<circle cx="475.8" cy="165.0" r="0.85" fill="#bdbdbd"/>
<circle cx="474.6" cy="171.5" r="0.85" fill="#bdbdbd"/>
<circle cx="467.2" cy="177.0" r="0.85" fill="#bdbdbd"/>
<circle cx="451.3" cy="177.3" r="0.85" fill="#bdbdbd"/>
<circle cx="464.9" cy="180.2" r="0.85" fill="#bdbdbd"/>
<circle cx="471.6" cy="171.4" r="0.85" fill="#bdbdbd"/>
<circle cx="468.6" cy="174.6" r="0.85" fill="#bdbdbd"/>
<circle cx="456.1" cy="181.7" r="0.85" fill="#bdbdbd"/>
<circle cx="457.5" cy="183.4" r="0.85" fill="#bdbdbd"/>
<circle cx="467.0" cy="177.3" r="0.85" fill="#bdbdbd"/>
<circle cx="471.4" cy="174.5" r="0.85" fill="#bdbdbd"/>
<circle cx="454.6" cy="183.4" r="0.85" fill="#bdbdbd"/>
<circle cx="461.3" cy="183.4" r="0.85" fill="#bdbdbd"/>
<circle cx="478.4" cy="166.8" r="0.85" fill="#bdbdbd"/>
<circle cx="460.2" cy="183.4" r="0.85" fill="#bdbdbd"/>
<circle cx="461.2" cy="183.4" r="0.85" fill="#bdbdbd"/>
<circle cx="468.8" cy="177.9" r="0.85" fill="#bdbdbd"/>
<circle cx="473.6" cy="167.1" r="0.85" fill="#bdbdbd"/>
<circle cx="460.3" cy="183.4" r="0.85" fill="#bdbdbd"/>
<circle cx="446.9" cy="173.8" r="0.85" fill="#bdbdbd"/>
<circle cx="467.4" cy="179.2" r="0.85" fill="#bdbdbd"/>
<circle cx="443.1" cy="168.4" r="0.85" fill="#bdbdbd"/>
<circle cx="449.6" cy="173.0" r="0.85" fill="#bdbdbd"/>
<circle cx="455.1" cy="182.4" r="0.85" fill="#bdbdbd"/>
<circle cx="456.0" cy="179.7" r="0.85" fill="#bdbdbd"/>
<circle cx="468.0" cy="175.2" r="0.85" fill="#bdbdbd"/>
<circle cx="447.5" cy="171.9" r="0.85" fill="#bdbdbd"/>
<circle cx="469.8" cy="175.6" r="0.85" fill="#bdbdbd"/>
<circle cx="447.3" cy="170.9" r="0.85" fill="#bdbdbd"/>
<circle cx="472.4" cy="170.2" r="0.85" fill="#bdbdbd"/>
<circle cx="443.4" cy="166.3" r="0.85" fill="#bdbdbd"/>
<circle cx="471.4" cy="171.4" r="0.85" fill="#bdbdbd"/>
<circle cx="458.1" cy="183.4" r="0.85" fill="#bdbdbd"/>
<circle cx="462.1" cy="181.8" r="0.85" fill="#bdbdbd"/>
<circle cx="453.1" cy="183.4" r="0.85" fill="#bdbdbd"/>
<circle cx="465.4" cy="179.4" r="0.85" fill="#bdbdbd"/>
<circle cx="458.0" cy="183.4" r="0.85" fill="#bdbdbd"/>
<circle cx="450.5" cy="174.9" r="0.85" fill="#bdbdbd"/>
<circle cx="473.8" cy="167.1" r="0.85" fill="#bdbdbd"/>
<circle cx="453.1" cy="177.9" r="0.85" fill="#bdbdbd"/>
<circle cx="454.0" cy="179.6" r="0.85" fill="#bdbdbd"/>
<circle cx="448.7" cy="173.1" r="0.85" fill="#bdbdbd"/>
<circle cx="469.0" cy="172.7" r="0.85" fill="#bdbdbd"/>
<circle cx="450.8" cy="176.2" r="0.85" fill="#bdbdbd"/>
<circle cx="458.5" cy="183.4" r="0.85" fill="#bdbdbd"/>
<circle cx="466.3" cy="177.7" r="0.85" fill="#bdbdbd"/>
<circle cx="453.5" cy="183.3" r="0.85" fill="#bdbdbd"/>
<circle cx="473.6" cy="172.5" r="0.85" fill="#bdbdbd"/>
<circle cx="443.9" cy="169.0" r="0.85" fill="#bdbdbd"/>
<circle cx="473.7" cy="167.1" r="0.85" fill="#bdbdbd"/>
<circle cx="442.2" cy="165.7" r="0.85" fill="#bdbdbd"/>
<circle cx="444.0" cy="166.0" r="0.85" fill="#bdbdbd"/>
<circle cx="452.8" cy="182.3" r="0.85" fill="#bdbdbd"/>
<circle cx="444.4" cy="171.5" r="0.85" fill="#bdbdbd"/>
<circle cx="445.0" cy="170.5" r="0.85" fill="#bdbdbd"/>
<circle cx="476.3" cy="168.9" r="0.85" fill="#bdbdbd"/>
<circle cx="466.7" cy="179.1" r="0.85" fill="#bdbdbd"/>
<circle cx="476.4" cy="165.2" r="0.85" fill="#bdbdbd"/>
<circle cx="446.3" cy="175.3" r="0.85" fill="#bdbdbd"/>
<circle cx="467.7" cy="179.9" r="0.85" fill="#bdbdbd"/>
<circle cx="456.7" cy="181.5" r="0.85" fill="#bdbdbd"/>
<circle cx="475.9" cy="166.9" r="0.85" fill="#bdbdbd"/>
<circle cx="447.9" cy="171.0" r="0.85" fill="#bdbdbd"/>
<circle cx="443.8" cy="166.5" r="0.85" fill="#bdbdbd"/>
<circle cx="458.0" cy="181.8" r="0.85" fill="#bdbdbd"/>
<circle cx="444.0" cy="170.0" r="0.85" fill="#bdbdbd"/>
<circle cx="461.1" cy="181.6" r="0.85" fill="#bdbdbd"/>
<circle cx="475.1" cy="172.5" r="0.85" fill="#bdbdbd"/>
<circle cx="458.0" cy="182.1" r="0.85" fill="#bdbdbd"/>
<circle cx="462.1" cy="183.4" r="0.85" fill="#bdbdbd"/>
<circle cx="454.0" cy="183.4" r="0.85" fill="#bdbdbd"/>
<circle cx="455.9" cy="180.8" r="0.85" fill="#bdbdbd"/>
<circle cx="465.3" cy="176.8" r="0.85" fill="#bdbdbd"/>
<circle cx="465.3" cy="181.8" r="0.85" fill="#bdbdbd"/>
<circle cx="467.3" cy="175.1" r="0.85" fill="#bdbdbd"/>
<circle cx="478.1" cy="166.9" r="0.85" fill="#bdbdbd"/>
<circle cx="459.9" cy="183.4" r="0.85" fill="#bdbdbd"/>
<circle cx="458.7" cy="183.4" r="0.85" fill="#bdbdbd"/>
<circle cx="468.8" cy="173.0" r="0.85" fill="#bdbdbd"/>
<circle cx="464.8" cy="181.2" r="0.85" fill="#bdbdbd"/>
<circle cx="453.6" cy="183.2" r="0.85" fill="#bdbdbd"/>
<circle cx="458.3" cy="183.4" r="0.85" fill="#bdbdbd"/>
<circle cx="446.9" cy="169.8" r="0.85" fill="#bdbdbd"/>
<circle cx="456.6" cy="183.4" r="0.85" fill="#bdbdbd"/>
<circle cx="473.5" cy="169.2" r="0.85" fill="#bdbdbd"/>
<circle cx="450.4" cy="174.8" r="0.85" fill="#bdbdbd"/>
<circle cx="459.6" cy="183.4" r="0.85" fill="#bdbdbd"/>
<circle cx="449.5" cy="182.4" r="0.85" fill="#bdbdbd"/>
<circle cx="466.1" cy="176.0" r="0.85" fill="#bdbdbd"/>
<circle cx="472.0" cy="170.3" r="0.85" fill="#bdbdbd"/>
<circle cx="450.7" cy="176.2" r="0.85" fill="#bdbdbd"/>
<circle cx="463.1" cy="183.4" r="0.85" fill="#bdbdbd"/>
<circle cx="439.5" cy="165.2" r="0.85" fill="#bdbdbd"/>
<circle cx="469.0" cy="175.8" r="0.85" fill="#bdbdbd"/>
<circle cx="450.8" cy="175.8" r="0.85" fill="#bdbdbd"/>
<circle cx="464.1" cy="181.7" r="0.85" fill="#bdbdbd"/>
<circle cx="477.1" cy="168.4" r="0.85" fill="#bdbdbd"/>
<circle cx="464.2" cy="181.8" r="0.85" fill="#bdbdbd"/>
<circle cx="467.9" cy="177.1" r="0.85" fill="#bdbdbd"/>
<circle cx="463.6" cy="179.7" r="0.85" fill="#bdbdbd"/>
<circle cx="466.6" cy="177.4" r="0.85" fill="#bdbdbd"/>
<circle cx="457.6" cy="181.4" r="0.85" fill="#bdbdbd"/>
<circle cx="445.6" cy="169.0" r="0.85" fill="#bdbdbd"/>
<circle cx="466.1" cy="183.4" r="0.85" fill="#bdbdbd"/>
<circle cx="453.7" cy="179.8" r="0.85" fill="#bdbdbd"/>
<circle cx="462.1" cy="183.4" r="0.85" fill="#bdbdbd"/>
<circle cx="448.9" cy="172.4" r="0.85" fill="#bdbdbd"/>
<circle cx="451.6" cy="178.1" r="0.85" fill="#bdbdbd"/>
<circle cx="456.4" cy="183.4" r="0.85" fill="#bdbdbd"/>
<circle cx="440.1" cy="167.9" r="0.85" fill="#bdbdbd"/>
<circle cx="462.3" cy="181.9" r="0.85" fill="#bdbdbd"/>
<circle cx="472.8" cy="168.1" r="0.85" fill="#bdbdbd"/>
<circle cx="462.7" cy="183.3" r="0.85" fill="#bdbdbd"/>
<circle cx="454.5" cy="183.4" r="0.85" fill="#bdbdbd"/>
<circle cx="458.3" cy="183.4" r="0.85" fill="#bdbdbd"/>
<circle cx="465.6" cy="177.0" r="0.85" fill="#bdbdbd"/>
<circle cx="447.0" cy="169.2" r="0.85" fill="#bdbdbd"/>
<circle cx="467.3" cy="181.4" r="0.85" fill="#bdbdbd"/>
<circle cx="441.6" cy="169.6" r="0.85" fill="#bdbdbd"/>
<circle cx="475.4" cy="165.2" r="0.85" fill="#bdbdbd"/>
<circle cx="468.9" cy="172.8" r="0.85" fill="#bdbdbd"/>
<circle cx="448.3" cy="170.6" r="0.85" fill="#bdbdbd"/>
<circle cx="471.2" cy="171.3" r="0.85" fill="#bdbdbd"/>
<circle cx="469.3" cy="179.2" r="0.85" fill="#bdbdbd"/>
<circle cx="441.4" cy="166.6" r="0.85" fill="#bdbdbd"/>
<circle cx="457.7" cy="183.4" r="0.85" fill="#bdbdbd"/>
<circle cx="468.8" cy="182.5" r="0.85" fill="#bdbdbd"/>
<circle cx="473.1" cy="167.8" r="0.85" fill="#bdbdbd"/>
<circle cx="445.0" cy="172.3" r="0.85" fill="#bdbdbd"/>
<circle cx="475.0" cy="166.5" r="0.85" fill="#bdbdbd"/>
<circle cx="453.7" cy="176.8" r="0.85" fill="#bdbdbd"/>
<circle cx="462.6" cy="183.4" r="0.85" fill="#bdbdbd"/>
<circle cx="444.1" cy="167.6" r="0.85" fill="#bdbdbd"/>
<circle cx="472.3" cy="172.0" r="0.85" fill="#bdbdbd"/>
<circle cx="465.0" cy="181.1" r="0.85" fill="#bdbdbd"/>
<circle cx="455.9" cy="183.4" r="0.85" fill="#bdbdbd"/>
<circle cx="478.6" cy="165.4" r="0.85" fill="#bdbdbd"/>
<circle cx="471.7" cy="171.9" r="0.85" fill="#bdbdbd"/>
<circle cx="452.1" cy="181.9" r="0.85" fill="#bdbdbd"/>
<circle cx="464.0" cy="183.4" r="0.85" fill="#bdbdbd"/>
<circle cx="463.8" cy="179.3" r="0.85" fill="#bdbdbd"/>
<circle cx="451.1" cy="181.1" r="0.85" fill="#bdbdbd"/>
<circle cx="454.1" cy="180.7" r="0.85" fill="#bdbdbd"/>
<circle cx="467.4" cy="180.7" r="0.85" fill="#bdbdbd"/>
<circle cx="472.7" cy="172.8" r="0.85" fill="#bdbdbd"/>
<circle cx="450.0" cy="175.5" r="0.85" fill="#bdbdbd"/>
<circle cx="456.1" cy="179.5" r="0.85" fill="#bdbdbd"/>
<circle cx="463.1" cy="182.3" r="0.85" fill="#bdbdbd"/>
<circle cx="439.6" cy="167.7" r="0.85" fill="#bdbdbd"/>
<circle cx="473.8" cy="169.5" r="0.85" fill="#bdbdbd"/>
<circle cx="462.5" cy="183.4" r="0.85" fill="#bdbdbd"/>
<circle cx="449.6" cy="176.1" r="0.85" fill="#bdbdbd"/>
<circle cx="467.4" cy="179.7" r="0.85" fill="#bdbdbd"/>
<circle cx="461.7" cy="182.0" r="0.85" fill="#bdbdbd"/>
<circle cx="472.3" cy="170.3" r="0.85" fill="#bdbdbd"/>
<circle cx="478.1" cy="167.7" r="0.85" fill="#bdbdbd"/>
<circle cx="447.9" cy="174.5" r="0.85" fill="#bdbdbd"/>
<circle cx="457.9" cy="183.4" r="0.85" fill="#bdbdbd"/>
<circle cx="446.7" cy="168.7" r="0.85" fill="#bdbdbd"/>
<circle cx="472.0" cy="175.1" r="0.85" fill="#bdbdbd"/>
<circle cx="457.7" cy="183.4" r="0.85" fill="#bdbdbd"/>
<circle cx="471.2" cy="173.3" r="0.85" fill="#bdbdbd"/>
<circle cx="447.9" cy="177.2" r="0.85" fill="#bdbdbd"/>
<circle cx="476.0" cy="167.9" r="0.85" fill="#bdbdbd"/>
<circle cx="460.3" cy="183.4" r="0.85" fill="#bdbdbd"/>
<circle cx="446.0" cy="168.4" r="0.85" fill="#bdbdbd"/>
<circle cx="446.1" cy="170.4" r="0.85" fill="#bdbdbd"/>
<circle cx="453.5" cy="181.9" r="0.85" fill="#bdbdbd"/>
<circle cx="462.2" cy="183.4" r="0.85" fill="#bdbdbd"/>
<circle cx="444.2" cy="168.3" r="0.85" fill="#bdbdbd"/>
<circle cx="465.1" cy="177.2" r="0.85" fill="#bdbdbd"/>
<circle cx="463.6" cy="180.7" r="0.85" fill="#bdbdbd"/>
<circle cx="452.7" cy="176.3" r="0.85" fill="#bdbdbd"/>
<circle cx="462.3" cy="183.4" r="0.85" fill="#bdbdbd"/>
<circle cx="449.1" cy="172.1" r="0.85" fill="#bdbdbd"/>
<circle cx="478.7" cy="164.8" r="0.85" fill="#bdbdbd"/>
<circle cx="471.0" cy="174.1" r="0.85" fill="#bdbdbd"/>
<circle cx="448.8" cy="180.0" r="0.85" fill="#bdbdbd"/>
<circle cx="440.0" cy="168.0" r="0.85" fill="#bdbdbd"/>
<circle cx="457.6" cy="183.4" r="0.85" fill="#bdbdbd"/>
<circle cx="463.6" cy="179.2" r="0.85" fill="#bdbdbd"/>
<circle cx="455.0" cy="183.4" r="0.85" fill="#bdbdbd"/>
<circle cx="448.9" cy="177.9" r="0.85" fill="#bdbdbd"/>
<circle cx="462.2" cy="183.4" r="0.85" fill="#bdbdbd"/>
<circle cx="466.7" cy="182.4" r="0.85" fill="#bdbdbd"/>
<circle cx="454.8" cy="180.2" r="0.85" fill="#bdbdbd"/>
<circle cx="448.8" cy="172.1" r="0.85" fill="#bdbdbd"/>
<circle cx="453.0" cy="182.8" r="0.85" fill="#bdbdbd"/>
<circle cx="474.0" cy="171.2" r="0.85" fill="#bdbdbd"/>
<circle cx="465.7" cy="181.9" r="0.85" fill="#bdbdbd"/>
<circle cx="470.4" cy="171.2" r="0.85" fill="#bdbdbd"/>
<circle cx="463.4" cy="181.7" r="0.85" fill="#bdbdbd"/>
<circle cx="470.5" cy="173.0" r="0.85" fill="#bdbdbd"/>
<circle cx="448.9" cy="173.2" r="0.85" fill="#bdbdbd"/>
<circle cx="443.2" cy="166.7" r="0.85" fill="#bdbdbd"/>
<circle cx="448.1" cy="170.4" r="0.85" fill="#bdbdbd"/>
<circle cx="444.0" cy="165.6" r="0.85" fill="#bdbdbd"/>
<circle cx="468.8" cy="172.9" r="0.85" fill="#bdbdbd"/>
<circle cx="446.2" cy="176.7" r="0.85" fill="#bdbdbd"/>
<circle cx="447.3" cy="171.2" r="0.85" fill="#bdbdbd"/>
<circle cx="478.2" cy="166.9" r="0.85" fill="#bdbdbd"/>
<circle cx="443.8" cy="171.2" r="0.85" fill="#bdbdbd"/>
<circle cx="457.1" cy="183.4" r="0.85" fill="#bdbdbd"/>
<circle cx="474.2" cy="171.2" r="0.85" fill="#bdbdbd"/>
<circle cx="464.9" cy="180.3" r="0.85" fill="#bdbdbd"/>
<circle cx="473.4" cy="168.1" r="0.85" fill="#bdbdbd"/>
<circle cx="458.4" cy="183.4" r="0.85" fill="#bdbdbd"/>
<circle cx="447.4" cy="170.9" r="0.85" fill="#bdbdbd"/>
<circle cx="444.0" cy="170.2" r="0.85" fill="#bdbdbd"/>
<circle cx="475.4" cy="165.0" r="0.85" fill="#bdbdbd"/>
<circle cx="444.5" cy="169.9" r="0.85" fill="#bdbdbd"/>
<circle cx="449.5" cy="173.7" r="0.85" fill="#bdbdbd"/>
<circle cx="445.0" cy="169.5" r="0.85" fill="#bdbdbd"/>
<circle cx="459.0" cy="183.4" r="0.85" fill="#bdbdbd"/>
<circle cx="442.7" cy="171.5" r="0.85" fill="#bdbdbd"/>
<circle cx="480.1" cy="166.9" r="0.85" fill="#bdbdbd"/>
<circle cx="466.7" cy="177.8" r="0.85" fill="#bdbdbd"/>
<circle cx="446.9" cy="171.9" r="0.85" fill="#bdbdbd"/>
<circle cx="448.9" cy="171.6" r="0.85" fill="#bdbdbd"/>
<circle cx="446.5" cy="176.2" r="0.85" fill="#bdbdbd"/>
<circle cx="480.9" cy="167.2" r="0.85" fill="#bdbdbd"/>
<circle cx="476.5" cy="165.2" r="0.85" fill="#bdbdbd"/>
<circle cx="443.8" cy="168.5" r="0.85" fill="#bdbdbd"/>
<circle cx="445.8" cy="171.6" r="0.85" fill="#bdbdbd"/>
<circle cx="456.6" cy="182.4" r="0.85" fill="#bdbdbd"/>
<circle cx="462.5" cy="181.2" r="0.85" fill="#bdbdbd"/>
<circle cx="443.8" cy="167.9" r="0.85" fill="#bdbdbd"/>
<circle cx="468.5" cy="178.7" r="0.85" fill="#bdbdbd"/>
<circle cx="446.3" cy="169.5" r="0.85" fill="#bdbdbd"/>
<circle cx="464.1" cy="178.7" r="0.85" fill="#bdbdbd"/>
<circle cx="459.2" cy="183.4" r="0.85" fill="#bdbdbd"/>
<circle cx="464.3" cy="180.3" r="0.85" fill="#bdbdbd"/>
<circle cx="468.4" cy="174.8" r="0.85" fill="#bdbdbd"/>
<circle cx="446.5" cy="173.1" r="0.85" fill="#bdbdbd"/>
<circle cx="469.0" cy="176.1" r="0.85" fill="#bdbdbd"/>
<circle cx="474.2" cy="169.3" r="0.85" fill="#bdbdbd"/>
<circle cx="475.2" cy="165.6" r="0.85" fill="#bdbdbd"/>
<circle cx="458.4" cy="183.4" r="0.85" fill="#bdbdbd"/>
<circle cx="445.8" cy="169.7" r="0.85" fill="#bdbdbd"/>
<circle cx="473.7" cy="168.2" r="0.85" fill="#bdbdbd"/>
<circle cx="453.8" cy="178.6" r="0.85" fill="#bdbdbd"/>
<circle cx="463.5" cy="183.3" r="0.85" fill="#bdbdbd"/>
<circle cx="457.1" cy="180.8" r="0.85" fill="#bdbdbd"/>
<circle cx="460.1" cy="183.4" r="0.85" fill="#bdbdbd"/>
<circle cx="473.1" cy="171.6" r="0.85" fill="#bdbdbd"/>
<circle cx="475.2" cy="167.5" r="0.85" fill="#bdbdbd"/>
<circle cx="454.3" cy="182.9" r="0.85" fill="#bdbdbd"/>
<circle cx="470.3" cy="178.0" r="0.85" fill="#bdbdbd"/>
<circle cx="459.2" cy="183.4" r="0.85" fill="#bdbdbd"/>
<circle cx="461.0" cy="181.9" r="0.85" fill="#bdbdbd"/>
<circle cx="445.7" cy="167.9" r="0.85" fill="#bdbdbd"/>
<circle cx="439.1" cy="166.8" r="0.85" fill="#bdbdbd"/>
<circle cx="463.7" cy="182.6" r="0.85" fill="#bdbdbd"/>
<circle cx="468.2" cy="175.3" r="0.85" fill="#bdbdbd"/>
<circle cx="442.2" cy="167.5" r="0.85" fill="#bdbdbd"/>
<circle cx="439.7" cy="164.9" r="0.85" fill="#bdbdbd"/>
<circle cx="443.1" cy="168.9" r="0.85" fill="#bdbdbd"/>
<circle cx="449.9" cy="172.4" r="0.85" fill="#bdbdbd"/>
<circle cx="443.1" cy="166.0" r="0.85" fill="#bdbdbd"/>
<circle cx="463.4" cy="179.9" r="0.85" fill="#bdbdbd"/>
<circle cx="475.0" cy="168.2" r="0.85" fill="#bdbdbd"/>
<circle cx="470.1" cy="175.0" r="0.85" fill="#bdbdbd"/>
<circle cx="444.9" cy="170.6" r="0.85" fill="#bdbdbd"/>
<circle cx="454.6" cy="183.4" r="0.85" fill="#bdbdbd"/>
<circle cx="456.0" cy="181.9" r="0.85" fill="#bdbdbd"/>
<circle cx="454.9" cy="182.1" r="0.85" fill="#bdbdbd"/>
<circle cx="448.2" cy="173.7" r="0.85" fill="#bdbdbd"/>
<circle cx="452.3" cy="183.4" r="0.85" fill="#bdbdbd"/>
<circle cx="472.6" cy="172.3" r="0.85" fill="#bdbdbd"/>
<circle cx="477.2" cy="165.5" r="0.85" fill="#bdbdbd"/>
<circle cx="440.1" cy="167.7" r="0.85" fill="#bdbdbd"/>
<circle cx="460.2" cy="183.4" r="0.85" fill="#bdbdbd"/>
<circle cx="448.6" cy="173.1" r="0.85" fill="#bdbdbd"/>
<circle cx="456.0" cy="182.0" r="0.85" fill="#bdbdbd"/>
<circle cx="460.7" cy="183.4" r="0.85" fill="#bdbdbd"/>
<circle cx="440.8" cy="165.8" r="0.85" fill="#bdbdbd"/>
<circle cx="443.8" cy="171.8" r="0.85" fill="#bdbdbd"/>
<circle cx="465.2" cy="179.6" r="0.85" fill="#bdbdbd"/>
<circle cx="476.0" cy="171.5" r="0.85" fill="#bdbdbd"/>
<circle cx="467.1" cy="176.7" r="0.85" fill="#bdbdbd"/>
<circle cx="449.6" cy="180.5" r="0.85" fill="#bdbdbd"/>
<circle cx="464.6" cy="179.6" r="0.85" fill="#bdbdbd"/>
<circle cx="448.6" cy="174.9" r="0.85" fill="#bdbdbd"/>
<circle cx="450.2" cy="174.6" r="0.85" fill="#bdbdbd"/>
<circle cx="443.0" cy="169.5" r="0.85" fill="#bdbdbd"/>
<circle cx="463.5" cy="183.1" r="0.85" fill="#bdbdbd"/>
<circle cx="449.4" cy="172.9" r="0.85" fill="#bdbdbd"/>
<circle cx="457.9" cy="183.4" r="0.85" fill="#bdbdbd"/>
<circle cx="443.1" cy="164.8" r="0.85" fill="#bdbdbd"/>
<circle cx="443.5" cy="165.8" r="0.85" fill="#bdbdbd"/>
<circle cx="450.2" cy="176.5" r="0.85" fill="#bdbdbd"/>
<circle cx="448.3" cy="174.6" r="0.85" fill="#bdbdbd"/>
<circle cx="474.1" cy="168.7" r="0.85" fill="#bdbdbd"/>
<circle cx="464.2" cy="182.9" r="0.85" fill="#bdbdbd"/>
<circle cx="446.5" cy="170.7" r="0.85" fill="#bdbdbd"/>
<circle cx="468.5" cy="177.5" r="0.85" fill="#bdbdbd"/>
<circle cx="464.3" cy="178.9" r="0.85" fill="#bdbdbd"/>
<circle cx="458.1" cy="182.9" r="0.85" fill="#bdbdbd"/>
<circle cx="447.4" cy="172.0" r="0.85" fill="#bdbdbd"/>
<circle cx="459.9" cy="183.4" r="0.85" fill="#bdbdbd"/>
<circle cx="453.0" cy="177.8" r="0.85" fill="#bdbdbd"/>
<circle cx="461.8" cy="182.7" r="0.85" fill="#bdbdbd"/>
<circle cx="459.0" cy="183.4" r="0.85" fill="#bdbdbd"/>
<circle cx="450.6" cy="183.4" r="0.85" fill="#bdbdbd"/>
<circle cx="471.2" cy="170.4" r="0.85" fill="#bdbdbd"/>
<circle cx="475.4" cy="165.8" r="0.85" fill="#bdbdbd"/>
<circle cx="456.8" cy="183.4" r="0.85" fill="#bdbdbd"/>
<circle cx="456.8" cy="181.8" r="0.85" fill="#bdbdbd"/>
<circle cx="469.6" cy="173.6" r="0.85" fill="#bdbdbd"/>
<circle cx="469.7" cy="173.3" r="0.85" fill="#bdbdbd"/>
<circle cx="453.0" cy="178.8" r="0.85" fill="#bdbdbd"/>
<circle cx="467.0" cy="180.2" r="0.85" fill="#bdbdbd"/>
<circle cx="473.3" cy="172.2" r="0.85" fill="#bdbdbd"/>
<circle cx="460.2" cy="183.0" r="0.85" fill="#bdbdbd"/>
<circle cx="470.6" cy="176.7" r="0.85" fill="#bdbdbd"/>
<circle cx="458.3" cy="183.4" r="0.85" fill="#bdbdbd"/>
<circle cx="477.3" cy="168.4" r="0.85" fill="#bdbdbd"/>
<circle cx="443.3" cy="164.8" r="0.85" fill="#bdbdbd"/>
<circle cx="470.9" cy="170.2" r="0.85" fill="#bdbdbd"/>
<circle cx="463.1" cy="183.4" r="0.85" fill="#bdbdbd"/>
<circle cx="462.5" cy="179.9" r="0.85" fill="#bdbdbd"/>
<circle cx="455.9" cy="180.9" r="0.85" fill="#bdbdbd"/>
<circle cx="464.0" cy="183.4" r="0.85" fill="#bdbdbd"/>
<circle cx="454.2" cy="181.4" r="0.85" fill="#bdbdbd"/>
<circle cx="469.0" cy="173.4" r="0.85" fill="#bdbdbd"/>
<circle cx="450.4" cy="176.7" r="0.85" fill="#bdbdbd"/>
<circle cx="454.4" cy="180.7" r="0.85" fill="#bdbdbd"/>
<circle cx="451.7" cy="176.1" r="0.85" fill="#bdbdbd"/>
<circle cx="459.4" cy="183.4" r="0.85" fill="#bdbdbd"/>
<circle cx="457.0" cy="181.9" r="0.85" fill="#bdbdbd"/>
<circle cx="444.1" cy="168.4" r="0.85" fill="#bdbdbd"/>
<circle cx="462.7" cy="181.0" r="0.85" fill="#bdbdbd"/>
<circle cx="451.8" cy="178.6" r="0.85" fill="#bdbdbd"/>
<circle cx="479.2" cy="166.3" r="0.85" fill="#bdbdbd"/>
<circle cx="446.6" cy="176.1" r="0.85" fill="#bdbdbd"/>
<circle cx="471.2" cy="183.1" r="0.85" fill="#bdbdbd"/>
<circle cx="460.2" cy="183.4" r="0.85" fill="#bdbdbd"/>
<circle cx="460.1" cy="183.4" r="0.85" fill="#bdbdbd"/>
<circle cx="453.2" cy="179.7" r="0.85" fill="#bdbdbd"/>
<circle cx="463.5" cy="183.4" r="0.85" fill="#bdbdbd"/>
<circle cx="467.0" cy="182.1" r="0.85" fill="#bdbdbd"/>
<circle cx="460.5" cy="183.4" r="0.85" fill="#bdbdbd"/>
<circle cx="455.1" cy="180.6" r="0.85" fill="#bdbdbd"/>
<circle cx="462.1" cy="183.4" r="0.85" fill="#bdbdbd"/>
<circle cx="458.8" cy="183.4" r="0.85" fill="#bdbdbd"/>
<circle cx="452.6" cy="182.5" r="0.85" fill="#bdbdbd"/>
<circle cx="445.2" cy="168.1" r="0.85" fill="#bdbdbd"/>
<circle cx="451.5" cy="181.4" r="0.85" fill="#bdbdbd"/>
<circle cx="459.9" cy="183.4" r="0.85" fill="#bdbdbd"/>
<circle cx="442.6" cy="168.4" r="0.85" fill="#bdbdbd"/>
<circle cx="473.3" cy="170.8" r="0.85" fill="#bdbdbd"/>
<circle cx="444.5" cy="168.6" r="0.85" fill="#bdbdbd"/>
<circle cx="450.3" cy="177.4" r="0.85" fill="#bdbdbd"/>
<circle cx="445.9" cy="167.9" r="0.85" fill="#bdbdbd"/>
<circle cx="445.7" cy="170.9" r="0.85" fill="#bdbdbd"/>
<circle cx="453.1" cy="179.8" r="0.85" fill="#bdbdbd"/>
<circle cx="455.6" cy="179.8" r="0.85" fill="#bdbdbd"/>
<circle cx="471.8" cy="170.9" r="0.85" fill="#bdbdbd"/>
<circle cx="450.9" cy="176.3" r="0.85" fill="#bdbdbd"/>
<circle cx="466.7" cy="179.2" r="0.85" fill="#bdbdbd"/>
<circle cx="446.3" cy="173.0" r="0.85" fill="#bdbdbd"/>
<circle cx="449.3" cy="171.6" r="0.85" fill="#bdbdbd"/>
<circle cx="465.7" cy="183.4" r="0.85" fill="#bdbdbd"/>
<circle cx="462.6" cy="182.2" r="0.85" fill="#bdbdbd"/>
<circle cx="455.6" cy="180.5" r="0.85" fill="#bdbdbd"/>
<circle cx="470.6" cy="171.8" r="0.85" fill="#bdbdbd"/>
<circle cx="442.4" cy="165.4" r="0.85" fill="#bdbdbd"/>
<circle cx="460.4" cy="183.4" r="0.85" fill="#bdbdbd"/>
<circle cx="473.4" cy="172.4" r="0.85" fill="#bdbdbd"/>
<circle cx="440.5" cy="165.8" r="0.85" fill="#bdbdbd"/>
<circle cx="468.7" cy="175.9" r="0.85" fill="#bdbdbd"/>
<circle cx="453.1" cy="177.5" r="0.85" fill="#bdbdbd"/>
<circle cx="442.1" cy="165.8" r="0.85" fill="#bdbdbd"/>
<circle cx="476.9" cy="166.1" r="0.85" fill="#bdbdbd"/>
<circle cx="457.2" cy="182.6" r="0.85" fill="#bdbdbd"/>
<circle cx="454.5" cy="183.4" r="0.85" fill="#bdbdbd"/>
<circle cx="463.0" cy="182.0" r="0.85" fill="#bdbdbd"/>
<circle cx="479.3" cy="165.1" r="0.85" fill="#bdbdbd"/>
<circle cx="448.6" cy="172.7" r="0.85" fill="#bdbdbd"/>
<circle cx="439.7" cy="167.2" r="0.85" fill="#bdbdbd"/>
<circle cx="451.4" cy="177.2" r="0.85" fill="#bdbdbd"/>
<circle cx="463.8" cy="181.2" r="0.85" fill="#bdbdbd"/>
<circle cx="479.3" cy="169.6" r="0.85" fill="#bdbdbd"/>
<circle cx="448.3" cy="170.6" r="0.85" fill="#bdbdbd"/>
<circle cx="454.6" cy="178.4" r="0.85" fill="#bdbdbd"/>
<circle cx="451.2" cy="176.4" r="0.85" fill="#bdbdbd"/>
<circle cx="475.6" cy="171.3" r="0.85" fill="#bdbdbd"/>
<circle cx="448.3" cy="171.1" r="0.85" fill="#bdbdbd"/>
<circle cx="445.3" cy="168.4" r="0.85" fill="#bdbdbd"/>
<circle cx="450.4" cy="174.6" r="0.85" fill="#bdbdbd"/>
<circle cx="460.9" cy="182.4" r="0.85" fill="#bdbdbd"/>
<circle cx="454.5" cy="178.8" r="0.85" fill="#bdbdbd"/>
<circle cx="443.1" cy="165.1" r="0.85" fill="#bdbdbd"/>
<circle cx="473.5" cy="168.6" r="0.85" fill="#bdbdbd"/>
<circle cx="446.1" cy="170.1" r="0.85" fill="#bdbdbd"/>
<circle cx="450.0" cy="172.5" r="0.85" fill="#bdbdbd"/>
<circle cx="466.5" cy="176.1" r="0.85" fill="#bdbdbd"/>
<circle cx="452.5" cy="178.8" r="0.85" fill="#bdbdbd"/>
<circle cx="441.8" cy="167.8" r="0.85" fill="#bdbdbd"/>
<circle cx="449.4" cy="172.8" r="0.85" fill="#bdbdbd"/>
<circle cx="456.9" cy="182.3" r="0.85" fill="#bdbdbd"/>
<circle cx="473.9" cy="167.1" r="0.85" fill="#bdbdbd"/>
<circle cx="453.0" cy="178.1" r="0.85" fill="#bdbdbd"/>
<circle cx="469.0" cy="179.2" r="0.85" fill="#bdbdbd"/>
<circle cx="446.8" cy="175.5" r="0.85" fill="#bdbdbd"/>
<circle cx="457.4" cy="181.1" r="0.85" fill="#bdbdbd"/>
<circle cx="443.4" cy="165.5" r="0.85" fill="#bdbdbd"/>
<circle cx="476.7" cy="166.1" r="0.85" fill="#bdbdbd"/>
<circle cx="463.2" cy="180.9" r="0.85" fill="#bdbdbd"/>
<circle cx="464.1" cy="180.1" r="0.85" fill="#bdbdbd"/>
<circle cx="447.0" cy="170.2" r="0.85" fill="#bdbdbd"/>
<circle cx="460.0" cy="183.4" r="0.85" fill="#bdbdbd"/>
<circle cx="461.2" cy="182.1" r="0.85" fill="#bdbdbd"/>
<circle cx="454.4" cy="183.4" r="0.85" fill="#bdbdbd"/>
<circle cx="466.2" cy="178.5" r="0.85" fill="#bdbdbd"/>
<circle cx="454.6" cy="179.2" r="0.85" fill="#bdbdbd"/>
<circle cx="441.5" cy="165.8" r="0.85" fill="#bdbdbd"/>
<circle cx="451.7" cy="181.2" r="0.85" fill="#bdbdbd"/>
<circle cx="466.4" cy="179.0" r="0.85" fill="#bdbdbd"/>
<circle cx="453.4" cy="179.6" r="0.85" fill="#bdbdbd"/>
<circle cx="459.4" cy="183.4" r="0.85" fill="#bdbdbd"/>
<circle cx="451.2" cy="175.2" r="0.85" fill="#bdbdbd"/>
<circle cx="447.6" cy="173.9" r="0.85" fill="#bdbdbd"/>
<circle cx="450.0" cy="176.8" r="0.85" fill="#bdbdbd"/>
<circle cx="455.2" cy="183.4" r="0.85" fill="#bdbdbd"/>
<circle cx="475.9" cy="167.6" r="0.85" fill="#bdbdbd"/>
<circle cx="475.0" cy="167.2" r="0.85" fill="#bdbdbd"/>
<circle cx="467.2" cy="176.2" r="0.85" fill="#bdbdbd"/>
<circle cx="455.6" cy="182.1" r="0.85" fill="#bdbdbd"/>
<circle cx="466.3" cy="176.3" r="0.85" fill="#bdbdbd"/>
<circle cx="474.4" cy="168.6" r="0.85" fill="#bdbdbd"/>
<circle cx="453.0" cy="177.6" r="0.85" fill="#bdbdbd"/>
<circle cx="442.8" cy="165.7" r="0.85" fill="#bdbdbd"/>
<circle cx="439.5" cy="166.2" r="0.85" fill="#bdbdbd"/>
<circle cx="450.9" cy="175.6" r="0.85" fill="#bdbdbd"/>
<circle cx="454.2" cy="180.6" r="0.85" fill="#bdbdbd"/>
<circle cx="465.4" cy="177.2" r="0.85" fill="#bdbdbd"/>
<circle cx="445.6" cy="169.9" r="0.85" fill="#bdbdbd"/>
<circle cx="468.8" cy="176.7" r="0.85" fill="#bdbdbd"/>
<circle cx="448.8" cy="176.4" r="0.85" fill="#bdbdbd"/>
<circle cx="452.9" cy="178.1" r="0.85" fill="#bdbdbd"/>
<circle cx="450.2" cy="178.4" r="0.85" fill="#bdbdbd"/>
<circle cx="448.4" cy="175.7" r="0.85" fill="#bdbdbd"/>
<circle cx="446.9" cy="173.2" r="0.85" fill="#bdbdbd"/>
<circle cx="467.8" cy="175.2" r="0.85" fill="#bdbdbd"/>
<circle cx="454.8" cy="178.1" r="0.85" fill="#bdbdbd"/>
<circle cx="449.9" cy="179.6" r="0.85" fill="#bdbdbd"/>
<circle cx="441.7" cy="166.5" r="0.85" fill="#bdbdbd"/>
<circle cx="467.7" cy="174.2" r="0.85" fill="#bdbdbd"/>
<circle cx="464.9" cy="183.4" r="0.85" fill="#bdbdbd"/>
<circle cx="457.4" cy="183.4" r="0.85" fill="#bdbdbd"/>
<circle cx="456.3" cy="181.8" r="0.85" fill="#bdbdbd"/>
<circle cx="459.9" cy="183.4" r="0.85" fill="#bdbdbd"/>
<circle cx="470.7" cy="171.0" r="0.85" fill="#bdbdbd"/>
<circle cx="449.1" cy="178.1" r="0.85" fill="#bdbdbd"/>
<circle cx="461.4" cy="183.4" r="0.85" fill="#bdbdbd"/>
<circle cx="461.3" cy="182.2" r="0.85" fill="#bdbdbd"/>
<circle cx="448.6" cy="174.1" r="0.85" fill="#bdbdbd"/>
<circle cx="455.6" cy="180.3" r="0.85" fill="#bdbdbd"/>
<circle cx="446.5" cy="169.0" r="0.85" fill="#bdbdbd"/>
<circle cx="468.3" cy="174.9" r="0.85" fill="#bdbdbd"/>
<circle cx="466.8" cy="175.0" r="0.85" fill="#bdbdbd"/>
<circle cx="460.1" cy="183.4" r="0.85" fill="#bdbdbd"/>
<circle cx="457.0" cy="183.4" r="0.85" fill="#bdbdbd"/>
<circle cx="450.7" cy="174.7" r="0.85" fill="#bdbdbd"/>
<circle cx="476.0" cy="167.1" r="0.85" fill="#bdbdbd"/>
<circle cx="452.2" cy="178.9" r="0.85" fill="#bdbdbd"/>
<circle cx="473.0" cy="173.7" r="0.85" fill="#bdbdbd"/>
<circle cx="445.1" cy="168.6" r="0.85" fill="#bdbdbd"/>
<circle cx="466.6" cy="178.5" r="0.85" fill="#bdbdbd"/>
<circle cx="470.9" cy="172.4" r="0.85" fill="#bdbdbd"/>
<circle cx="473.7" cy="169.0" r="0.85" fill="#bdbdbd"/>
<circle cx="453.4" cy="178.5" r="0.85" fill="#bdbdbd"/>
<circle cx="446.7" cy="171.5" r="0.85" fill="#bdbdbd"/>
<circle cx="446.3" cy="169.2" r="0.85" fill="#bdbdbd"/>
<circle cx="468.1" cy="175.0" r="0.85" fill="#bdbdbd"/>
<circle cx="451.8" cy="175.1" r="0.85" fill="#bdbdbd"/>
<circle cx="458.0" cy="183.4" r="0.85" fill="#bdbdbd"/>
<circle cx="438.3" cy="165.1" r="0.85" fill="#bdbdbd"/>
<circle cx="468.8" cy="177.4" r="0.85" fill="#bdbdbd"/>
<circle cx="458.9" cy="183.4" r="0.85" fill="#bdbdbd"/>
<circle cx="461.3" cy="182.2" r="0.85" fill="#bdbdbd"/>
<circle cx="464.9" cy="179.6" r="0.85" fill="#bdbdbd"/>
<circle cx="448.4" cy="173.0" r="0.85" fill="#bdbdbd"/>
<circle cx="443.8" cy="171.7" r="0.85" fill="#bdbdbd"/>
<circle cx="474.1" cy="167.3" r="0.85" fill="#bdbdbd"/>
<circle cx="450.6" cy="175.3" r="0.85" fill="#bdbdbd"/>
<circle cx="474.3" cy="171.0" r="0.85" fill="#bdbdbd"/>
<circle cx="477.8" cy="165.1" r="0.85" fill="#bdbdbd"/>
<circle cx="473.7" cy="172.6" r="0.85" fill="#bdbdbd"/>
<circle cx="469.9" cy="172.3" r="0.85" fill="#bdbdbd"/>
<circle cx="473.5" cy="169.1" r="0.85" fill="#bdbdbd"/>
<circle cx="451.6" cy="177.6" r="0.85" fill="#bdbdbd"/>
<circle cx="453.7" cy="180.4" r="0.85" fill="#bdbdbd"/>
<circle cx="473.7" cy="166.7" r="0.85" fill="#bdbdbd"/>
<circle cx="462.3" cy="181.1" r="0.85" fill="#bdbdbd"/>
<circle cx="464.9" cy="179.5" r="0.85" fill="#bdbdbd"/>
<circle cx="476.9" cy="168.4" r="0.85" fill="#bdbdbd"/>
<circle cx="478.6" cy="165.4" r="0.85" fill="#bdbdbd"/>
<circle cx="444.6" cy="166.2" r="0.85" fill="#bdbdbd"/>
<circle cx="450.7" cy="174.6" r="0.85" fill="#bdbdbd"/>
<circle cx="467.5" cy="174.6" r="0.85" fill="#bdbdbd"/>
<circle cx="444.9" cy="176.0" r="0.85" fill="#bdbdbd"/>
<circle cx="441.7" cy="166.2" r="0.85" fill="#bdbdbd"/>
<circle cx="469.0" cy="173.0" r="0.85" fill="#bdbdbd"/>
<circle cx="471.8" cy="175.3" r="0.85" fill="#bdbdbd"/>
<circle cx="456.2" cy="180.8" r="0.85" fill="#bdbdbd"/>
<circle cx="460.0" cy="183.4" r="0.85" fill="#bdbdbd"/>
<circle cx="456.0" cy="181.6" r="0.85" fill="#bdbdbd"/>
<circle cx="466.6" cy="178.5" r="0.85" fill="#bdbdbd"/>
<circle cx="473.5" cy="168.8" r="0.85" fill="#bdbdbd"/>
<circle cx="450.6" cy="174.4" r="0.85" fill="#bdbdbd"/>
<circle cx="451.0" cy="174.2" r="0.85" fill="#bdbdbd"/>
<circle cx="436.9" cy="180.8" r="0.85" fill="#bdbdbd"/>
<circle cx="398.0" cy="181.5" r="0.85" fill="#bdbdbd"/>
<circle cx="453.6" cy="167.1" r="0.85" fill="#bdbdbd"/>
<circle cx="519.8" cy="178.2" r="0.85" fill="#bdbdbd"/>
<circle cx="529.5" cy="179.5" r="0.85" fill="#bdbdbd"/>
<circle cx="477.1" cy="171.7" r="0.85" fill="#bdbdbd"/>
<circle cx="394.3" cy="179.9" r="0.85" fill="#bdbdbd"/>
<circle cx="475.5" cy="179.0" r="0.85" fill="#bdbdbd"/>
<circle cx="469.9" cy="168.3" r="0.85" fill="#bdbdbd"/>
<circle cx="456.6" cy="172.2" r="0.85" fill="#bdbdbd"/>
<circle cx="429.7" cy="179.3" r="0.85" fill="#bdbdbd"/>
<circle cx="516.3" cy="183.2" r="0.85" fill="#bdbdbd"/>
<circle cx="413.4" cy="177.4" r="0.85" fill="#bdbdbd"/>
<circle cx="451.6" cy="182.0" r="0.85" fill="#bdbdbd"/>
<circle cx="483.1" cy="178.5" r="0.85" fill="#bdbdbd"/>
<circle cx="471.3" cy="176.9" r="0.85" fill="#bdbdbd"/>
<circle cx="463.8" cy="173.8" r="0.85" fill="#bdbdbd"/>
<circle cx="444.1" cy="181.7" r="0.85" fill="#bdbdbd"/>
<circle cx="412.2" cy="175.7" r="0.85" fill="#bdbdbd"/>
<circle cx="466.5" cy="181.5" r="0.85" fill="#bdbdbd"/>
<circle cx="513.0" cy="181.5" r="0.85" fill="#bdbdbd"/>
<circle cx="399.5" cy="180.2" r="0.85" fill="#bdbdbd"/>
<circle cx="422.7" cy="178.2" r="0.85" fill="#bdbdbd"/>
<circle cx="467.4" cy="179.7" r="0.85" fill="#bdbdbd"/>
<circle cx="470.2" cy="181.6" r="0.85" fill="#bdbdbd"/>
<circle cx="461.3" cy="173.1" r="0.85" fill="#bdbdbd"/>
<circle cx="397.3" cy="181.1" r="0.85" fill="#bdbdbd"/>
<circle cx="396.3" cy="181.0" r="0.85" fill="#bdbdbd"/>
<circle cx="513.1" cy="179.4" r="0.85" fill="#bdbdbd"/>
<circle cx="491.1" cy="174.6" r="0.85" fill="#bdbdbd"/>
<circle cx="402.4" cy="176.8" r="0.85" fill="#bdbdbd"/>
<circle cx="492.2" cy="182.2" r="0.85" fill="#bdbdbd"/>
<circle cx="508.2" cy="180.1" r="0.85" fill="#bdbdbd"/>
<circle cx="410.8" cy="175.4" r="0.85" fill="#bdbdbd"/>
<circle cx="468.7" cy="171.0" r="0.85" fill="#bdbdbd"/>
<circle cx="405.7" cy="177.7" r="0.85" fill="#bdbdbd"/>
<circle cx="394.0" cy="182.2" r="0.85" fill="#bdbdbd"/>
<circle cx="440.5" cy="183.2" r="0.85" fill="#bdbdbd"/>
<circle cx="473.3" cy="180.2" r="0.85" fill="#bdbdbd"/>
<circle cx="429.8" cy="174.9" r="0.85" fill="#bdbdbd"/>
<circle cx="448.5" cy="169.4" r="0.85" fill="#bdbdbd"/>
<circle cx="477.3" cy="170.9" r="0.85" fill="#bdbdbd"/>
<circle cx="468.7" cy="168.7" r="0.85" fill="#bdbdbd"/>
<circle cx="514.2" cy="182.2" r="0.85" fill="#bdbdbd"/>
<circle cx="513.2" cy="174.0" r="0.9" fill="#bdbdbd"/>
<circle cx="507.7" cy="179.1" r="0.9" fill="#bdbdbd"/>
<circle cx="501.9" cy="183.6" r="0.9" fill="#bdbdbd"/>
<circle cx="491.4" cy="183.1" r="0.9" fill="#bdbdbd"/>
<circle cx="516.8" cy="170.0" r="0.9" fill="#bdbdbd"/>
<circle cx="405.0" cy="178.0" r="0.9" fill="#bdbdbd"/>
<circle cx="398.0" cy="182.0" r="0.9" fill="#bdbdbd"/>
<circle cx="418.0" cy="184.0" r="0.9" fill="#bdbdbd"/>
<circle cx="425.0" cy="176.0" r="0.9" fill="#bdbdbd"/>
<polygon points="433.6,88.0 434.5,95.0 436.5,108.0 439.0,120.0 442.0,130.0 445.5,145.0 448.4,160.0 450.0,168.5 443.5,168.5 441.9,160.0 440.4,145.0 438.2,130.0 436.5,120.0 434.3,108.0 432.8,95.0 432.0,88.0" fill="#4aa67c"/>
<circle cx="417.1" cy="11.9" r="1.05" fill="#4aa67c"/>
<circle cx="417.6" cy="18.1" r="1.05" fill="#4aa67c"/>
<circle cx="419.2" cy="21.8" r="1.05" fill="#4aa67c"/>
<circle cx="419.5" cy="28.7" r="1.05" fill="#4aa67c"/>
<circle cx="421.2" cy="29.5" r="1.05" fill="#4aa67c"/>
<circle cx="422.0" cy="31.2" r="1.05" fill="#4aa67c"/>
<circle cx="420.4" cy="34.4" r="1.05" fill="#4aa67c"/>
<circle cx="423.1" cy="47.9" r="1.05" fill="#4aa67c"/>
<circle cx="424.1" cy="49.2" r="1.05" fill="#4aa67c"/>
<circle cx="425.7" cy="53.7" r="1.05" fill="#4aa67c"/>
<circle cx="427.4" cy="61.1" r="1.05" fill="#4aa67c"/>
<circle cx="429.3" cy="76.1" r="1.05" fill="#4aa67c"/>
<circle cx="430.2" cy="79.4" r="1.05" fill="#4aa67c"/>
<circle cx="430.7" cy="83.5" r="1.05" fill="#4aa67c"/>
<circle cx="431.3" cy="86.8" r="1.05" fill="#4aa67c"/>
<circle cx="431.8" cy="90.0" r="1.05" fill="#4aa67c"/>
<circle cx="431.3" cy="93.3" r="1.05" fill="#4aa67c"/>
<circle cx="428.5" cy="70.0" r="1.05" fill="#4aa67c"/>
<circle cx="429.5" cy="73.0" r="1.05" fill="#4aa67c"/>
<circle cx="426.8" cy="105.5" r="1.05" fill="#4aa67c"/>
<circle cx="423.2" cy="157.3" r="1.05" fill="#4aa67c"/>
<circle cx="425.9" cy="153.6" r="1.05" fill="#4aa67c"/>
<circle cx="427.7" cy="160.0" r="1.05" fill="#4aa67c"/>
<circle cx="426.5" cy="164.5" r="1.05" fill="#4aa67c"/>
<circle cx="433.2" cy="166.4" r="1.05" fill="#4aa67c"/>
<circle cx="438.0" cy="160.0" r="1.05" fill="#4aa67c"/>
<circle cx="436.0" cy="150.0" r="1.05" fill="#4aa67c"/>
<circle cx="432.0" cy="140.0" r="1.05" fill="#4aa67c"/>
<circle cx="430.0" cy="125.0" r="1.05" fill="#4aa67c"/>
<circle cx="440.4" cy="148.7" r="1.0" fill="#4aa67c"/>
<circle cx="439.5" cy="143.7" r="1.0" fill="#4aa67c"/>
<circle cx="441.2" cy="154.7" r="1.0" fill="#4aa67c"/>
<circle cx="440.5" cy="148.0" r="1.0" fill="#4aa67c"/>
<circle cx="442.9" cy="164.1" r="1.0" fill="#4aa67c"/>
<circle cx="439.5" cy="137.9" r="1.0" fill="#4aa67c"/>
<circle cx="432.4" cy="99.6" r="1.0" fill="#4aa67c"/>
<circle cx="433.4" cy="100.6" r="1.0" fill="#4aa67c"/>
<circle cx="442.4" cy="162.3" r="1.0" fill="#4aa67c"/>
<circle cx="434.0" cy="106.7" r="1.0" fill="#4aa67c"/>
<circle cx="437.3" cy="126.0" r="1.0" fill="#4aa67c"/>
<circle cx="433.0" cy="100.6" r="1.0" fill="#4aa67c"/>
<circle cx="432.0" cy="93.6" r="1.0" fill="#4aa67c"/>
<circle cx="433.6" cy="106.1" r="1.0" fill="#4aa67c"/>
<circle cx="438.8" cy="134.1" r="1.0" fill="#4aa67c"/>
<circle cx="435.9" cy="120.9" r="1.0" fill="#4aa67c"/>
<circle cx="433.4" cy="103.0" r="1.0" fill="#4aa67c"/>
<circle cx="440.0" cy="144.4" r="1.0" fill="#4aa67c"/>
<circle cx="441.4" cy="153.4" r="1.0" fill="#4aa67c"/>
<circle cx="436.4" cy="118.0" r="1.0" fill="#4aa67c"/>
<circle cx="432.7" cy="103.5" r="1.0" fill="#4aa67c"/>
<circle cx="441.5" cy="152.8" r="1.0" fill="#4aa67c"/>
<circle cx="432.5" cy="94.7" r="1.0" fill="#4aa67c"/>
<circle cx="439.3" cy="143.6" r="1.0" fill="#4aa67c"/>
<circle cx="436.7" cy="121.8" r="1.0" fill="#4aa67c"/>
<circle cx="441.8" cy="156.2" r="1.0" fill="#4aa67c"/>
<circle cx="436.5" cy="121.9" r="1.0" fill="#4aa67c"/>
<circle cx="432.7" cy="97.8" r="1.0" fill="#4aa67c"/>
<circle cx="435.9" cy="117.0" r="1.0" fill="#4aa67c"/>
<circle cx="438.0" cy="136.8" r="1.0" fill="#4aa67c"/>
<circle cx="432.8" cy="95.3" r="1.0" fill="#4aa67c"/>
<circle cx="437.5" cy="127.5" r="1.0" fill="#4aa67c"/>
<circle cx="438.9" cy="135.9" r="1.0" fill="#4aa67c"/>
<circle cx="432.4" cy="92.5" r="1.0" fill="#4aa67c"/>
<circle cx="439.3" cy="136.0" r="1.0" fill="#4aa67c"/>
<circle cx="437.9" cy="126.9" r="1.0" fill="#4aa67c"/>
<circle cx="443.1" cy="167.0" r="1.0" fill="#4aa67c"/>
<circle cx="440.3" cy="143.0" r="1.0" fill="#4aa67c"/>
<circle cx="435.3" cy="112.7" r="1.0" fill="#4aa67c"/>
<circle cx="434.5" cy="111.9" r="1.0" fill="#4aa67c"/>
<polygon points="478.6,131.8 480.5,131.8 482.3,166.5 467.7,166.5" fill="#9b85e8"/>
<circle cx="491.4" cy="97.3" r="1.05" fill="#9b85e8"/>
<circle cx="490.5" cy="106.0" r="1.05" fill="#9b85e8"/>
<circle cx="484.1" cy="103.6" r="1.05" fill="#9b85e8"/>
<circle cx="484.1" cy="114.5" r="1.05" fill="#9b85e8"/>
<circle cx="496.8" cy="115.5" r="1.05" fill="#9b85e8"/>
<circle cx="481.4" cy="119.1" r="1.05" fill="#9b85e8"/>
<circle cx="489.5" cy="120.9" r="1.05" fill="#9b85e8"/>
<circle cx="496.8" cy="120.9" r="1.05" fill="#9b85e8"/>
<circle cx="498.6" cy="125.5" r="1.05" fill="#9b85e8"/>
<circle cx="479.5" cy="126.4" r="1.05" fill="#9b85e8"/>
<circle cx="484.1" cy="128.2" r="1.05" fill="#9b85e8"/>
<circle cx="488.6" cy="129.1" r="1.05" fill="#9b85e8"/>
<circle cx="490.5" cy="132.7" r="1.05" fill="#9b85e8"/>
<circle cx="502.3" cy="132.7" r="1.05" fill="#9b85e8"/>
<circle cx="485.0" cy="135.5" r="1.05" fill="#9b85e8"/>
<circle cx="486.8" cy="139.1" r="1.05" fill="#9b85e8"/>
<circle cx="488.6" cy="141.8" r="1.05" fill="#9b85e8"/>
<circle cx="498.6" cy="142.7" r="1.05" fill="#9b85e8"/>
<circle cx="497.7" cy="145.5" r="1.05" fill="#9b85e8"/>
<circle cx="495.9" cy="150.0" r="1.05" fill="#9b85e8"/>
<circle cx="495.0" cy="153.6" r="1.05" fill="#9b85e8"/>
<circle cx="493.2" cy="159.1" r="1.05" fill="#9b85e8"/>
<circle cx="535.0" cy="138.7" r="1.05" fill="#9b85e8"/>
<circle cx="525.0" cy="157.3" r="1.05" fill="#9b85e8"/>
<circle cx="523.2" cy="161.3" r="1.05" fill="#9b85e8"/>
<circle cx="520.8" cy="165.5" r="1.05" fill="#9b85e8"/>
<circle cx="492.5" cy="69.5" r="1.05" fill="#9b85e8"/>
<circle cx="483.0" cy="145.0" r="1.05" fill="#9b85e8"/>
<circle cx="484.0" cy="152.0" r="1.05" fill="#9b85e8"/>
<circle cx="485.0" cy="160.0" r="1.05" fill="#9b85e8"/>
<circle cx="486.0" cy="165.0" r="1.05" fill="#9b85e8"/>
<circle cx="482.0" cy="138.0" r="1.05" fill="#9b85e8"/>
<circle cx="481.5" cy="124.0" r="1.05" fill="#9b85e8"/>
<circle cx="486.0" cy="151.3" r="1.0" fill="#9b85e8"/>
<circle cx="483.1" cy="165.7" r="1.0" fill="#9b85e8"/>
<circle cx="483.4" cy="133.2" r="1.0" fill="#9b85e8"/>
<circle cx="483.2" cy="161.7" r="1.0" fill="#9b85e8"/>
<circle cx="483.6" cy="158.3" r="1.0" fill="#9b85e8"/>
<circle cx="483.0" cy="144.3" r="1.0" fill="#9b85e8"/>
<circle cx="482.0" cy="141.6" r="1.0" fill="#9b85e8"/>
<circle cx="485.7" cy="163.9" r="1.0" fill="#9b85e8"/>
<circle cx="482.7" cy="155.2" r="1.0" fill="#9b85e8"/>
<circle cx="484.7" cy="157.1" r="1.0" fill="#9b85e8"/>
<circle cx="482.5" cy="149.3" r="1.0" fill="#9b85e8"/>
<circle cx="482.7" cy="150.7" r="1.0" fill="#9b85e8"/>
<circle cx="482.7" cy="145.8" r="1.0" fill="#9b85e8"/>
<circle cx="481.7" cy="143.0" r="1.0" fill="#9b85e8"/>
<circle cx="484.0" cy="165.6" r="1.0" fill="#9b85e8"/>
<circle cx="481.1" cy="140.3" r="1.0" fill="#9b85e8"/>
<circle cx="481.5" cy="140.0" r="1.0" fill="#9b85e8"/>
<circle cx="481.3" cy="132.2" r="1.0" fill="#9b85e8"/>
<circle cx="483.9" cy="161.6" r="1.0" fill="#9b85e8"/>
<circle cx="482.1" cy="151.3" r="1.0" fill="#9b85e8"/>
<circle cx="481.4" cy="142.3" r="1.0" fill="#9b85e8"/>
<circle cx="481.6" cy="142.3" r="1.0" fill="#9b85e8"/>
<circle cx="481.4" cy="142.5" r="1.0" fill="#9b85e8"/>
<circle cx="484.4" cy="163.9" r="1.0" fill="#9b85e8"/>
<circle cx="483.2" cy="143.6" r="1.0" fill="#9b85e8"/>
<circle cx="481.8" cy="134.7" r="1.0" fill="#9b85e8"/>
<circle cx="485.5" cy="138.1" r="1.0" fill="#9b85e8"/>
<circle cx="483.7" cy="144.1" r="1.0" fill="#9b85e8"/>
<circle cx="485.1" cy="158.3" r="1.0" fill="#9b85e8"/>
<circle cx="482.2" cy="134.3" r="1.0" fill="#9b85e8"/>
<circle cx="482.5" cy="148.5" r="1.0" fill="#9b85e8"/>
<circle cx="481.8" cy="140.8" r="1.0" fill="#9b85e8"/>
<circle cx="481.3" cy="132.8" r="1.0" fill="#9b85e8"/>
<circle cx="483.0" cy="155.9" r="1.0" fill="#9b85e8"/>
<circle cx="481.9" cy="139.4" r="1.0" fill="#9b85e8"/>
<circle cx="482.3" cy="152.5" r="1.0" fill="#9b85e8"/>
<circle cx="482.7" cy="161.4" r="1.0" fill="#9b85e8"/>
<circle cx="482.8" cy="157.0" r="1.0" fill="#9b85e8"/>
<circle cx="482.8" cy="164.7" r="1.0" fill="#9b85e8"/>
<circle cx="482.4" cy="159.5" r="1.0" fill="#9b85e8"/>
<circle cx="482.6" cy="161.8" r="1.0" fill="#9b85e8"/>
<circle cx="481.7" cy="138.4" r="1.0" fill="#9b85e8"/>
<circle cx="483.3" cy="150.3" r="1.0" fill="#9b85e8"/>
<circle cx="484.0" cy="163.4" r="1.0" fill="#9b85e8"/>
<circle cx="482.3" cy="139.2" r="1.0" fill="#9b85e8"/>
<circle cx="484.3" cy="154.1" r="1.0" fill="#9b85e8"/>
<circle cx="481.9" cy="145.8" r="1.0" fill="#9b85e8"/>
<circle cx="482.1" cy="134.0" r="1.0" fill="#9b85e8"/>
<circle cx="483.7" cy="146.1" r="1.0" fill="#9b85e8"/>
<circle cx="481.8" cy="143.4" r="1.0" fill="#9b85e8"/>
<line x1="387.7" y1="4" x2="387.7" y2="192" stroke="#a8a8a8" stroke-width="1.2"/>
<line x1="387.4" y1="191.8" x2="543.2" y2="191.8" stroke="#b4b4b4" stroke-width="0.6"/>
<text x="385.90" y="185.20" font-size="4.9" font-weight="bold" text-anchor="end" fill="#333" stroke="#333" stroke-width="0.15" >0.0</text>
<line x1="386.1" y1="183.40" x2="387.1" y2="183.40" stroke="#666" stroke-width="0.4"/>
<text x="385.90" y="144.53" font-size="4.9" font-weight="bold" text-anchor="end" fill="#333" stroke="#333" stroke-width="0.15" >2.5</text>
<line x1="386.1" y1="142.73" x2="387.1" y2="142.73" stroke="#666" stroke-width="0.4"/>
<text x="385.90" y="103.85" font-size="4.9" font-weight="bold" text-anchor="end" fill="#333" stroke="#333" stroke-width="0.15" >5.0</text>
<line x1="386.1" y1="102.05" x2="387.1" y2="102.05" stroke="#666" stroke-width="0.4"/>
<text x="385.90" y="63.18" font-size="4.9" font-weight="bold" text-anchor="end" fill="#333" stroke="#333" stroke-width="0.15" >7.5</text>
<line x1="386.1" y1="61.38" x2="387.1" y2="61.38" stroke="#666" stroke-width="0.4"/>
<text x="385.90" y="22.50" font-size="4.9" font-weight="bold" text-anchor="end" fill="#333" stroke="#333" stroke-width="0.15" >10.0</text>
<line x1="386.1" y1="20.70" x2="387.1" y2="20.70" stroke="#666" stroke-width="0.4"/>
<text x="413.90" y="197.80" font-size="4.9" font-weight="bold" text-anchor="middle" fill="#333" stroke="#333" stroke-width="0.15" >-4</text>
<text x="459.40" y="197.80" font-size="4.9" font-weight="bold" text-anchor="middle" fill="#333" stroke="#333" stroke-width="0.15" >0</text>
<text x="504.90" y="197.80" font-size="4.9" font-weight="bold" text-anchor="middle" fill="#333" stroke="#333" stroke-width="0.15" >4</text>
<text x="460.50" y="201.80" font-size="4.6" font-weight="bold" text-anchor="middle" fill="#222" stroke="#222" stroke-width="0.15" >log2(FC)</text>
<text transform="translate(376.2,92.3) rotate(-90)" font-size="4.9" font-weight="bold" text-anchor="middle" fill="#222" stroke="#222" stroke-width="0.12">-log10(p-value)</text>
<text x="478.00" y="10.70" font-size="7.6" font-weight="bold" text-anchor="middle" fill="#1a1a1a" stroke="#1a1a1a" stroke-width="0.15" >Differentially Expressed Peaks</text>
<text x="478.40" y="18.60" font-size="7.6" font-weight="bold" text-anchor="middle" fill="#1a1a1a" stroke="#1a1a1a" stroke-width="0.15" >Day 00 vs. Day 25</text>
<rect x="447.3" y="31.2" width="25.5" height="25.1" fill="#fbfbfb"/>
<circle cx="453.1" cy="36.7" r="1.1" fill="#4aa67c"/>
<text x="459.00" y="38.00" font-size="3.8" font-weight="normal" text-anchor="start" fill="#333" stroke="#333" stroke-width="0.08" >Down</text>
<circle cx="453.1" cy="43.8" r="1.1" fill="#bdbdbd"/>
<text x="459.00" y="45.10" font-size="3.8" font-weight="normal" text-anchor="start" fill="#333" stroke="#333" stroke-width="0.08" >Not Sig</text>
<circle cx="453.1" cy="50.6" r="1.1" fill="#9b85e8"/>
<text x="459.00" y="51.90" font-size="3.8" font-weight="normal" text-anchor="start" fill="#333" stroke="#333" stroke-width="0.08" >Up</text>
<line x1="434.8" y1="73.2" x2="430.0" y2="80.0" stroke="#222" stroke-width="0.45"/>
<rect x="425.7" y="70.2" width="18.1" height="5.9" rx="0.9" fill="#fff" stroke="#5a5a5a" stroke-width="0.4"/>
<text x="434.75" y="74.70" font-size="4.3" font-weight="normal" text-anchor="middle" fill="#333" stroke="#333" stroke-width="0.1" >ESRP1</text>
<line x1="488.4" y1="75.9" x2="491.0" y2="70.0" stroke="#222" stroke-width="0.45"/>
<rect x="478.9" y="73.1" width="19.0" height="5.6" rx="0.9" fill="#fff" stroke="#5a5a5a" stroke-width="0.4"/>
<text x="488.40" y="77.45" font-size="4.3" font-weight="normal" text-anchor="middle" fill="#333" stroke="#333" stroke-width="0.1" >MKRN3</text>
<line x1="479.9" y1="107.8" x2="488.0" y2="100.0" stroke="#222" stroke-width="0.45"/>
<rect x="474.9" y="104.9" width="9.9" height="5.9" rx="0.9" fill="#fff" stroke="#5a5a5a" stroke-width="0.4"/>
<text x="479.85" y="109.40" font-size="4.3" font-weight="normal" text-anchor="middle" fill="#333" stroke="#333" stroke-width="0.1" >DCT</text>
<line x1="434.2" y1="130.9" x2="438.0" y2="135.0" stroke="#222" stroke-width="0.45"/>
<rect x="426.4" y="127.9" width="15.7" height="5.9" rx="0.9" fill="#fff" stroke="#5a5a5a" stroke-width="0.4"/>
<text x="434.25" y="132.40" font-size="4.3" font-weight="normal" text-anchor="middle" fill="#333" stroke="#333" stroke-width="0.1" >LITO1</text>
<line x1="439.7" y1="141.4" x2="441.0" y2="146.0" stroke="#222" stroke-width="0.45"/>
<rect x="430.7" y="138.4" width="18.0" height="5.9" rx="0.9" fill="#fff" stroke="#5a5a5a" stroke-width="0.4"/>
<text x="439.70" y="142.90" font-size="4.3" font-weight="normal" text-anchor="middle" fill="#333" stroke="#333" stroke-width="0.1" >TDGF1</text>
<line x1="460.6" y1="144.6" x2="444.0" y2="156.0" stroke="#222" stroke-width="0.45"/>
<rect x="450.3" y="141.6" width="20.7" height="5.9" rx="0.9" fill="#fff" stroke="#5a5a5a" stroke-width="0.4"/>
<text x="460.65" y="146.10" font-size="4.3" font-weight="normal" text-anchor="middle" fill="#333" stroke="#333" stroke-width="0.1" >EEF1E1</text>
<line x1="433.4" y1="150.3" x2="441.0" y2="152.0" stroke="#222" stroke-width="0.45"/>
<rect x="426.4" y="147.5" width="14.1" height="5.6" rx="0.9" fill="#fff" stroke="#5a5a5a" stroke-width="0.4"/>
<text x="433.45" y="151.85" font-size="4.3" font-weight="normal" text-anchor="middle" fill="#333" stroke="#333" stroke-width="0.1" >VRTN</text>
<line x1="479.9" y1="149.6" x2="471.0" y2="150.0" stroke="#222" stroke-width="0.45"/>
<rect x="474.3" y="146.6" width="11.1" height="5.9" rx="0.9" fill="#fff" stroke="#5a5a5a" stroke-width="0.4"/>
<text x="479.85" y="151.10" font-size="4.3" font-weight="normal" text-anchor="middle" fill="#333" stroke="#333" stroke-width="0.1" >SIX2</text>
<line x1="455.7" y1="153.8" x2="443.0" y2="160.0" stroke="#222" stroke-width="0.45"/>
<rect x="448.0" y="150.8" width="15.4" height="5.9" rx="0.9" fill="#fff" stroke="#5a5a5a" stroke-width="0.4"/>
<text x="455.70" y="155.30" font-size="4.3" font-weight="normal" text-anchor="middle" fill="#333" stroke="#333" stroke-width="0.1" >DPPA4</text>
<line x1="436.4" y1="159.2" x2="444.0" y2="162.0" stroke="#222" stroke-width="0.45"/>
<rect x="429.0" y="156.4" width="14.8" height="5.6" rx="0.9" fill="#fff" stroke="#5a5a5a" stroke-width="0.4"/>
<text x="436.40" y="160.75" font-size="4.3" font-weight="normal" text-anchor="middle" fill="#333" stroke="#333" stroke-width="0.1" >CER1</text>
<line x1="480.3" y1="159.2" x2="470.0" y2="160.0" stroke="#222" stroke-width="0.45"/>
<rect x="472.6" y="156.4" width="15.4" height="5.6" rx="0.9" fill="#fff" stroke="#5a5a5a" stroke-width="0.4"/>
<text x="480.30" y="160.75" font-size="4.3" font-weight="normal" text-anchor="middle" fill="#333" stroke="#333" stroke-width="0.1" >BICD1</text>
<line x1="451.5" y1="167.9" x2="445.0" y2="166.0" stroke="#222" stroke-width="0.45"/>
<rect x="442.8" y="164.9" width="17.4" height="5.9" rx="0.9" fill="#fff" stroke="#5a5a5a" stroke-width="0.4"/>
<text x="451.50" y="169.40" font-size="4.3" font-weight="normal" text-anchor="middle" fill="#333" stroke="#333" stroke-width="0.1" >CLDN1</text>
<line x1="474.2" y1="168.3" x2="469.0" y2="168.0" stroke="#222" stroke-width="0.45"/>
<rect x="467.7" y="165.6" width="13.1" height="5.5" rx="0.9" fill="#fff" stroke="#5a5a5a" stroke-width="0.4"/>
<text x="474.25" y="169.90" font-size="4.3" font-weight="normal" text-anchor="middle" fill="#333" stroke="#333" stroke-width="0.1" >HES5</text>
<text x="3.20" y="215.00" font-size="13.6" font-weight="bold" text-anchor="start" fill="#1a1a1a" stroke="#1a1a1a" stroke-width="0.35">C</text>
<text x="114.75" y="213.10" font-size="8.75" font-weight="bold" text-anchor="middle" fill="#1a1a1a" stroke="#1a1a1a" stroke-width="0.15" >Day 00 Top Ranked Motifs</text>
<rect x="6.6" y="221.6" width="217.10" height="143.50" fill="#fff" stroke="#8a8a8a" stroke-width="1"/>
<line x1="17.80" y1="221.6" x2="17.80" y2="365.10" stroke="#c4c4c4" stroke-width="0.6"/>
<line x1="135.60" y1="221.6" x2="135.60" y2="365.10" stroke="#8a8a8a" stroke-width="0.9"/>
<line x1="177.80" y1="221.6" x2="177.80" y2="365.10" stroke="#8a8a8a" stroke-width="0.9"/>
<line x1="199.60" y1="221.6" x2="199.60" y2="365.10" stroke="#8a8a8a" stroke-width="0.9"/>
<line x1="6.6" y1="234.90" x2="223.7" y2="234.90" stroke="#8a8a8a" stroke-width="0.9"/>
<line x1="6.6" y1="247.92" x2="223.7" y2="247.92" stroke="#8a8a8a" stroke-width="0.9"/>
<line x1="6.6" y1="260.94" x2="223.7" y2="260.94" stroke="#8a8a8a" stroke-width="0.9"/>
<line x1="6.6" y1="273.96" x2="223.7" y2="273.96" stroke="#8a8a8a" stroke-width="0.9"/>
<line x1="6.6" y1="286.98" x2="223.7" y2="286.98" stroke="#8a8a8a" stroke-width="0.9"/>
<line x1="6.6" y1="300.00" x2="223.7" y2="300.00" stroke="#8a8a8a" stroke-width="0.9"/>
<line x1="6.6" y1="313.02" x2="223.7" y2="313.02" stroke="#8a8a8a" stroke-width="0.9"/>
<line x1="6.6" y1="326.04" x2="223.7" y2="326.04" stroke="#8a8a8a" stroke-width="0.9"/>
<line x1="6.6" y1="339.06" x2="223.7" y2="339.06" stroke="#8a8a8a" stroke-width="0.9"/>
<line x1="6.6" y1="352.08" x2="223.7" y2="352.08" stroke="#8a8a8a" stroke-width="0.9"/>
<text x="12.20" y="229.55" font-size="3.6" font-weight="bold" text-anchor="middle" fill="#2a2a2a" stroke="#2a2a2a" stroke-width="0.12" >Rank</text>
<text x="76.70" y="229.55" font-size="3.5" font-weight="bold" text-anchor="middle" fill="#2a2a2a" stroke="#2a2a2a" stroke-width="0.12" >Motif</text>
<text x="156.70" y="229.55" font-size="3.6" font-weight="bold" text-anchor="middle" fill="#2a2a2a" stroke="#2a2a2a" stroke-width="0.12" >Name</text>
<text x="188.70" y="227.75" font-size="3.4" font-weight="bold" text-anchor="middle" fill="#2a2a2a" stroke="#2a2a2a" stroke-width="0.12" >log10</text>
<text x="188.70" y="231.35" font-size="3.4" font-weight="bold" text-anchor="middle" fill="#2a2a2a" stroke="#2a2a2a" stroke-width="0.12" >(p-value)</text>
<text x="211.65" y="225.95" font-size="3.1" font-weight="bold" text-anchor="middle" fill="#2a2a2a" stroke="#2a2a2a" stroke-width="0.12" >% of Target</text>
<text x="211.65" y="229.35" font-size="3.1" font-weight="bold" text-anchor="middle" fill="#2a2a2a" stroke="#2a2a2a" stroke-width="0.12" >Sequences</text>
<text x="211.65" y="232.75" font-size="3.1" font-weight="bold" text-anchor="middle" fill="#2a2a2a" stroke="#2a2a2a" stroke-width="0.12" >with Motif</text>
<text x="12.20" y="242.66" font-size="3.6" font-weight="bold" text-anchor="middle" fill="#2a2a2a" stroke="#2a2a2a" stroke-width="0.12" >1</text>
<text transform="translate(19.06,247.17) scale(0.0649,0.0147) translate(0,-1)" font-size="100" font-weight="bold" fill="#f5a31a" stroke="#f5a31a" stroke-width="6.0" stroke-linejoin="round">G</text>
<text transform="translate(19.06,245.94) scale(0.0703,0.0445) translate(0,-1)" font-size="100" font-weight="bold" fill="#1a1ae6" stroke="#1a1ae6" stroke-width="5.5" stroke-linejoin="round">C</text>
<text transform="translate(19.06,242.42) scale(0.0703,0.0761) translate(0,0)" font-size="100" font-weight="bold" fill="#2aa832" stroke="#2aa832" stroke-width="5.5" stroke-linejoin="round">A</text>
<text transform="translate(24.84,247.13) scale(0.0703,0.0305) translate(0,0)" font-size="100" font-weight="bold" fill="#2aa832" stroke="#2aa832" stroke-width="5.5" stroke-linejoin="round">A</text>
<text transform="translate(24.84,244.80) scale(0.0703,0.0445) translate(0,-1)" font-size="100" font-weight="bold" fill="#1a1ae6" stroke="#1a1ae6" stroke-width="5.5" stroke-linejoin="round">C</text>
<text transform="translate(24.84,241.36) scale(0.0830,0.0617) translate(0,0)" font-size="100" font-weight="bold" fill="#e8202a" stroke="#e8202a" stroke-width="4.7" stroke-linejoin="round">T</text>
<text transform="translate(30.62,247.13) scale(0.0703,0.0297) translate(0,-1)" font-size="100" font-weight="bold" fill="#1a1ae6" stroke="#1a1ae6" stroke-width="5.5" stroke-linejoin="round">C</text>
<text transform="translate(30.62,244.79) scale(0.0649,0.0442) translate(0,-1)" font-size="100" font-weight="bold" fill="#f5a31a" stroke="#f5a31a" stroke-width="6.0" stroke-linejoin="round">G</text>
<text transform="translate(30.62,241.28) scale(0.0703,0.0761) translate(0,0)" font-size="100" font-weight="bold" fill="#2aa832" stroke="#2aa832" stroke-width="5.5" stroke-linejoin="round">A</text>
<text transform="translate(36.40,247.04) scale(0.0703,0.0593) translate(0,-1)" font-size="100" font-weight="bold" fill="#1a1ae6" stroke="#1a1ae6" stroke-width="5.5" stroke-linejoin="round">C</text>
<text transform="translate(36.40,242.46) scale(0.0649,0.0589) translate(0,-1)" font-size="100" font-weight="bold" fill="#f5a31a" stroke="#f5a31a" stroke-width="6.0" stroke-linejoin="round">G</text>
<text transform="translate(42.18,247.09) scale(0.0703,0.0445) translate(0,-1)" font-size="100" font-weight="bold" fill="#1a1ae6" stroke="#1a1ae6" stroke-width="5.5" stroke-linejoin="round">C</text>
<text transform="translate(42.18,243.60) scale(0.0830,0.0771) translate(0,0)" font-size="100" font-weight="bold" fill="#e8202a" stroke="#e8202a" stroke-width="4.7" stroke-linejoin="round">T</text>
<text transform="translate(47.96,246.74) scale(0.0649,0.1473) translate(0,-1)" font-size="100" font-weight="bold" fill="#f5a31a" stroke="#f5a31a" stroke-width="6.0" stroke-linejoin="round">G</text>
<text transform="translate(53.74,246.78) scale(0.0703,0.1483) translate(0,-1)" font-size="100" font-weight="bold" fill="#1a1ae6" stroke="#1a1ae6" stroke-width="5.5" stroke-linejoin="round">C</text>
<text transform="translate(59.52,246.78) scale(0.0703,0.1483) translate(0,-1)" font-size="100" font-weight="bold" fill="#1a1ae6" stroke="#1a1ae6" stroke-width="5.5" stroke-linejoin="round">C</text>
<text transform="translate(65.30,247.09) scale(0.0703,0.0445) translate(0,-1)" font-size="100" font-weight="bold" fill="#1a1ae6" stroke="#1a1ae6" stroke-width="5.5" stroke-linejoin="round">C</text>
<text transform="translate(65.30,243.57) scale(0.0703,0.0761) translate(0,0)" font-size="100" font-weight="bold" fill="#2aa832" stroke="#2aa832" stroke-width="5.5" stroke-linejoin="round">A</text>
<text transform="translate(71.08,247.07) scale(0.0830,0.0617) translate(0,0)" font-size="100" font-weight="bold" fill="#e8202a" stroke="#e8202a" stroke-width="4.7" stroke-linejoin="round">T</text>
<text transform="translate(71.08,242.43) scale(0.0703,0.0742) translate(0,-1)" font-size="100" font-weight="bold" fill="#1a1ae6" stroke="#1a1ae6" stroke-width="5.5" stroke-linejoin="round">C</text>
<text transform="translate(76.86,246.78) scale(0.0703,0.1483) translate(0,-1)" font-size="100" font-weight="bold" fill="#1a1ae6" stroke="#1a1ae6" stroke-width="5.5" stroke-linejoin="round">C</text>
<text transform="translate(82.64,246.83) scale(0.0830,0.1543) translate(0,0)" font-size="100" font-weight="bold" fill="#e8202a" stroke="#e8202a" stroke-width="4.7" stroke-linejoin="round">T</text>
<text transform="translate(88.42,247.13) scale(0.0703,0.0297) translate(0,-1)" font-size="100" font-weight="bold" fill="#1a1ae6" stroke="#1a1ae6" stroke-width="5.5" stroke-linejoin="round">C</text>
<text transform="translate(88.42,244.80) scale(0.0703,0.0457) translate(0,0)" font-size="100" font-weight="bold" fill="#2aa832" stroke="#2aa832" stroke-width="5.5" stroke-linejoin="round">A</text>
<text transform="translate(88.42,241.32) scale(0.0649,0.0589) translate(0,-1)" font-size="100" font-weight="bold" fill="#f5a31a" stroke="#f5a31a" stroke-width="6.0" stroke-linejoin="round">G</text>
<text transform="translate(94.20,247.09) scale(0.0703,0.0445) translate(0,-1)" font-size="100" font-weight="bold" fill="#1a1ae6" stroke="#1a1ae6" stroke-width="5.5" stroke-linejoin="round">C</text>
<text transform="translate(94.20,243.55) scale(0.0649,0.0737) translate(0,-1)" font-size="100" font-weight="bold" fill="#f5a31a" stroke="#f5a31a" stroke-width="6.0" stroke-linejoin="round">G</text>
<text transform="translate(99.98,246.83) scale(0.0830,0.1543) translate(0,0)" font-size="100" font-weight="bold" fill="#e8202a" stroke="#e8202a" stroke-width="4.7" stroke-linejoin="round">T</text>
<text transform="translate(105.76,246.74) scale(0.0649,0.1473) translate(0,-1)" font-size="100" font-weight="bold" fill="#f5a31a" stroke="#f5a31a" stroke-width="6.0" stroke-linejoin="round">G</text>
<text transform="translate(111.54,246.74) scale(0.0649,0.1473) translate(0,-1)" font-size="100" font-weight="bold" fill="#f5a31a" stroke="#f5a31a" stroke-width="6.0" stroke-linejoin="round">G</text>
<text transform="translate(117.32,247.13) scale(0.0703,0.0305) translate(0,0)" font-size="100" font-weight="bold" fill="#2aa832" stroke="#2aa832" stroke-width="5.5" stroke-linejoin="round">A</text>
<text transform="translate(117.32,244.82) scale(0.0830,0.0463) translate(0,0)" font-size="100" font-weight="bold" fill="#e8202a" stroke="#e8202a" stroke-width="4.7" stroke-linejoin="round">T</text>
<text transform="translate(117.32,241.33) scale(0.0703,0.0593) translate(0,-1)" font-size="100" font-weight="bold" fill="#1a1ae6" stroke="#1a1ae6" stroke-width="5.5" stroke-linejoin="round">C</text>
<text transform="translate(123.10,247.14) scale(0.0830,0.0309) translate(0,0)" font-size="100" font-weight="bold" fill="#e8202a" stroke="#e8202a" stroke-width="4.7" stroke-linejoin="round">T</text>
<text transform="translate(123.10,244.80) scale(0.0703,0.0457) translate(0,0)" font-size="100" font-weight="bold" fill="#2aa832" stroke="#2aa832" stroke-width="5.5" stroke-linejoin="round">A</text>
<text transform="translate(123.10,241.33) scale(0.0703,0.0593) translate(0,-1)" font-size="100" font-weight="bold" fill="#1a1ae6" stroke="#1a1ae6" stroke-width="5.5" stroke-linejoin="round">C</text>
<text transform="translate(128.88,247.18) scale(0.0830,0.0154) translate(0,0)" font-size="100" font-weight="bold" fill="#e8202a" stroke="#e8202a" stroke-width="4.7" stroke-linejoin="round">T</text>
<text transform="translate(128.88,245.93) scale(0.0649,0.0442) translate(0,-1)" font-size="100" font-weight="bold" fill="#f5a31a" stroke="#f5a31a" stroke-width="6.0" stroke-linejoin="round">G</text>
<text transform="translate(128.88,242.42) scale(0.0703,0.0761) translate(0,0)" font-size="100" font-weight="bold" fill="#2aa832" stroke="#2aa832" stroke-width="5.5" stroke-linejoin="round">A</text>
<text x="156.70" y="242.66" font-size="3.6" font-weight="bold" text-anchor="middle" fill="#2a2a2a" stroke="#2a2a2a" stroke-width="0.08" >CTCF(Zf)</text>
<text x="188.70" y="242.66" font-size="3.65" font-weight="bold" text-anchor="middle" fill="#2a2a2a" stroke="#2a2a2a" stroke-width="0.08" >-1.887e4</text>
<text x="211.65" y="242.66" font-size="3.75" font-weight="bold" text-anchor="middle" fill="#2a2a2a" stroke="#2a2a2a" stroke-width="0.08" >13.74%</text>
<text x="12.20" y="255.68" font-size="3.6" font-weight="bold" text-anchor="middle" fill="#2a2a2a" stroke="#2a2a2a" stroke-width="0.12" >2</text>
<text transform="translate(19.06,260.10) scale(0.0694,0.0456) translate(0,0)" font-size="100" font-weight="bold" fill="#2aa832" stroke="#2aa832" stroke-width="5.6" stroke-linejoin="round">A</text>
<text transform="translate(19.06,256.67) scale(0.0641,0.0441) translate(0,-1)" font-size="100" font-weight="bold" fill="#f5a31a" stroke="#f5a31a" stroke-width="6.0" stroke-linejoin="round">G</text>
<text transform="translate(19.06,253.25) scale(0.0694,0.0445) translate(0,-1)" font-size="100" font-weight="bold" fill="#1a1ae6" stroke="#1a1ae6" stroke-width="5.6" stroke-linejoin="round">C</text>
<text transform="translate(24.78,260.10) scale(0.0694,0.0456) translate(0,0)" font-size="100" font-weight="bold" fill="#2aa832" stroke="#2aa832" stroke-width="5.6" stroke-linejoin="round">A</text>
<text transform="translate(24.78,256.70) scale(0.0820,0.0463) translate(0,0)" font-size="100" font-weight="bold" fill="#e8202a" stroke="#e8202a" stroke-width="4.7" stroke-linejoin="round">T</text>
<text transform="translate(24.78,253.25) scale(0.0694,0.0445) translate(0,-1)" font-size="100" font-weight="bold" fill="#1a1ae6" stroke="#1a1ae6" stroke-width="5.6" stroke-linejoin="round">C</text>
<text transform="translate(30.50,260.09) scale(0.0641,0.0441) translate(0,-1)" font-size="100" font-weight="bold" fill="#f5a31a" stroke="#f5a31a" stroke-width="6.0" stroke-linejoin="round">G</text>
<text transform="translate(30.50,256.68) scale(0.0694,0.0456) translate(0,0)" font-size="100" font-weight="bold" fill="#2aa832" stroke="#2aa832" stroke-width="5.6" stroke-linejoin="round">A</text>
<text transform="translate(30.50,253.25) scale(0.0694,0.0445) translate(0,-1)" font-size="100" font-weight="bold" fill="#1a1ae6" stroke="#1a1ae6" stroke-width="5.6" stroke-linejoin="round">C</text>
<text transform="translate(36.22,260.09) scale(0.0641,0.0441) translate(0,-1)" font-size="100" font-weight="bold" fill="#f5a31a" stroke="#f5a31a" stroke-width="6.0" stroke-linejoin="round">G</text>
<text transform="translate(36.22,256.70) scale(0.0820,0.0463) translate(0,0)" font-size="100" font-weight="bold" fill="#e8202a" stroke="#e8202a" stroke-width="4.7" stroke-linejoin="round">T</text>
<text transform="translate(36.22,253.25) scale(0.0694,0.0445) translate(0,-1)" font-size="100" font-weight="bold" fill="#1a1ae6" stroke="#1a1ae6" stroke-width="5.6" stroke-linejoin="round">C</text>
<text transform="translate(41.94,260.16) scale(0.0820,0.0308) translate(0,0)" font-size="100" font-weight="bold" fill="#e8202a" stroke="#e8202a" stroke-width="4.7" stroke-linejoin="round">T</text>
<text transform="translate(41.94,257.82) scale(0.0694,0.0456) translate(0,0)" font-size="100" font-weight="bold" fill="#2aa832" stroke="#2aa832" stroke-width="5.6" stroke-linejoin="round">A</text>
<text transform="translate(41.94,254.36) scale(0.0641,0.0515) translate(0,-1)" font-size="100" font-weight="bold" fill="#f5a31a" stroke="#f5a31a" stroke-width="6.0" stroke-linejoin="round">G</text>
<text transform="translate(47.66,260.16) scale(0.0820,0.0308) translate(0,0)" font-size="100" font-weight="bold" fill="#e8202a" stroke="#e8202a" stroke-width="4.7" stroke-linejoin="round">T</text>
<text transform="translate(47.66,257.82) scale(0.0694,0.0445) translate(0,-1)" font-size="100" font-weight="bold" fill="#1a1ae6" stroke="#1a1ae6" stroke-width="5.6" stroke-linejoin="round">C</text>
<text transform="translate(47.66,254.36) scale(0.0641,0.0515) translate(0,-1)" font-size="100" font-weight="bold" fill="#f5a31a" stroke="#f5a31a" stroke-width="6.0" stroke-linejoin="round">G</text>
<text transform="translate(53.38,260.12) scale(0.0820,0.0463) translate(0,0)" font-size="100" font-weight="bold" fill="#e8202a" stroke="#e8202a" stroke-width="4.7" stroke-linejoin="round">T</text>
<text transform="translate(53.38,256.54) scale(0.0694,0.0889) translate(0,-1)" font-size="100" font-weight="bold" fill="#1a1ae6" stroke="#1a1ae6" stroke-width="5.6" stroke-linejoin="round">C</text>
<text transform="translate(59.10,259.75) scale(0.0641,0.1472) translate(0,-1)" font-size="100" font-weight="bold" fill="#f5a31a" stroke="#f5a31a" stroke-width="6.0" stroke-linejoin="round">G</text>
<text transform="translate(64.82,259.79) scale(0.0694,0.1482) translate(0,-1)" font-size="100" font-weight="bold" fill="#1a1ae6" stroke="#1a1ae6" stroke-width="5.6" stroke-linejoin="round">C</text>
<text transform="translate(70.54,259.79) scale(0.0694,0.1482) translate(0,-1)" font-size="100" font-weight="bold" fill="#1a1ae6" stroke="#1a1ae6" stroke-width="5.6" stroke-linejoin="round">C</text>
<text transform="translate(76.26,260.20) scale(0.0820,0.0154) translate(0,0)" font-size="100" font-weight="bold" fill="#e8202a" stroke="#e8202a" stroke-width="4.7" stroke-linejoin="round">T</text>
<text transform="translate(76.26,258.74) scale(0.0694,0.1186) translate(0,-1)" font-size="100" font-weight="bold" fill="#1a1ae6" stroke="#1a1ae6" stroke-width="5.6" stroke-linejoin="round">C</text>
<text transform="translate(81.98,260.10) scale(0.0694,0.0456) translate(0,0)" font-size="100" font-weight="bold" fill="#2aa832" stroke="#2aa832" stroke-width="5.6" stroke-linejoin="round">A</text>
<text transform="translate(81.98,256.54) scale(0.0694,0.0889) translate(0,-1)" font-size="100" font-weight="bold" fill="#1a1ae6" stroke="#1a1ae6" stroke-width="5.6" stroke-linejoin="round">C</text>
<text transform="translate(87.70,259.79) scale(0.0694,0.1482) translate(0,-1)" font-size="100" font-weight="bold" fill="#1a1ae6" stroke="#1a1ae6" stroke-width="5.6" stroke-linejoin="round">C</text>
<text transform="translate(93.42,259.85) scale(0.0820,0.1542) translate(0,0)" font-size="100" font-weight="bold" fill="#e8202a" stroke="#e8202a" stroke-width="4.7" stroke-linejoin="round">T</text>
<text transform="translate(99.14,260.15) scale(0.0694,0.0296) translate(0,-1)" font-size="100" font-weight="bold" fill="#1a1ae6" stroke="#1a1ae6" stroke-width="5.6" stroke-linejoin="round">C</text>
<text transform="translate(99.14,257.82) scale(0.0694,0.0456) translate(0,0)" font-size="100" font-weight="bold" fill="#2aa832" stroke="#2aa832" stroke-width="5.6" stroke-linejoin="round">A</text>
<text transform="translate(99.14,254.34) scale(0.0641,0.0589) translate(0,-1)" font-size="100" font-weight="bold" fill="#f5a31a" stroke="#f5a31a" stroke-width="6.0" stroke-linejoin="round">G</text>
<text transform="translate(104.86,260.11) scale(0.0694,0.0445) translate(0,-1)" font-size="100" font-weight="bold" fill="#1a1ae6" stroke="#1a1ae6" stroke-width="5.6" stroke-linejoin="round">C</text>
<text transform="translate(104.86,256.62) scale(0.0641,0.0589) translate(0,-1)" font-size="100" font-weight="bold" fill="#f5a31a" stroke="#f5a31a" stroke-width="6.0" stroke-linejoin="round">G</text>
<text transform="translate(110.58,259.85) scale(0.0820,0.1542) translate(0,0)" font-size="100" font-weight="bold" fill="#e8202a" stroke="#e8202a" stroke-width="4.7" stroke-linejoin="round">T</text>
<text transform="translate(116.30,259.75) scale(0.0641,0.1472) translate(0,-1)" font-size="100" font-weight="bold" fill="#f5a31a" stroke="#f5a31a" stroke-width="6.0" stroke-linejoin="round">G</text>
<text transform="translate(122.02,259.75) scale(0.0641,0.1472) translate(0,-1)" font-size="100" font-weight="bold" fill="#f5a31a" stroke="#f5a31a" stroke-width="6.0" stroke-linejoin="round">G</text>
<text transform="translate(127.74,260.15) scale(0.0694,0.0304) translate(0,0)" font-size="100" font-weight="bold" fill="#2aa832" stroke="#2aa832" stroke-width="5.6" stroke-linejoin="round">A</text>
<text transform="translate(127.74,257.88) scale(0.0820,0.0308) translate(0,0)" font-size="100" font-weight="bold" fill="#e8202a" stroke="#e8202a" stroke-width="4.7" stroke-linejoin="round">T</text>
<text transform="translate(127.74,255.45) scale(0.0694,0.0741) translate(0,-1)" font-size="100" font-weight="bold" fill="#1a1ae6" stroke="#1a1ae6" stroke-width="5.6" stroke-linejoin="round">C</text>
<text x="156.70" y="255.68" font-size="3.6" font-weight="bold" text-anchor="middle" fill="#2a2a2a" stroke="#2a2a2a" stroke-width="0.08" >BORIS(Zf)</text>
<text x="188.70" y="255.68" font-size="3.65" font-weight="bold" text-anchor="middle" fill="#2a2a2a" stroke="#2a2a2a" stroke-width="0.08" >-1.213e4</text>
<text x="211.65" y="255.68" font-size="3.75" font-weight="bold" text-anchor="middle" fill="#2a2a2a" stroke="#2a2a2a" stroke-width="0.08" >16.68%</text>
<text x="12.20" y="268.70" font-size="3.6" font-weight="bold" text-anchor="middle" fill="#2a2a2a" stroke="#2a2a2a" stroke-width="0.12" >3</text>
<text transform="translate(19.06,272.82) scale(0.0738,0.1528) translate(0,0)" font-size="100" font-weight="bold" fill="#2aa832" stroke="#2aa832" stroke-width="5.3" stroke-linejoin="round">A</text>
<text transform="translate(25.09,272.89) scale(0.0870,0.1548) translate(0,0)" font-size="100" font-weight="bold" fill="#e8202a" stroke="#e8202a" stroke-width="4.5" stroke-linejoin="round">T</text>
<text transform="translate(31.12,272.89) scale(0.0870,0.1548) translate(0,0)" font-size="100" font-weight="bold" fill="#e8202a" stroke="#e8202a" stroke-width="4.5" stroke-linejoin="round">T</text>
<text transform="translate(37.15,273.20) scale(0.0738,0.0223) translate(0,-1)" font-size="100" font-weight="bold" fill="#1a1ae6" stroke="#1a1ae6" stroke-width="5.3" stroke-linejoin="round">C</text>
<text transform="translate(37.15,271.27) scale(0.0870,0.1161) translate(0,0)" font-size="100" font-weight="bold" fill="#e8202a" stroke="#e8202a" stroke-width="4.5" stroke-linejoin="round">T</text>
<text transform="translate(43.18,273.22) scale(0.0738,0.0149) translate(0,-1)" font-size="100" font-weight="bold" fill="#1a1ae6" stroke="#1a1ae6" stroke-width="5.3" stroke-linejoin="round">C</text>
<text transform="translate(43.18,272.04) scale(0.0870,0.0310) translate(0,0)" font-size="100" font-weight="bold" fill="#e8202a" stroke="#e8202a" stroke-width="4.5" stroke-linejoin="round">T</text>
<text transform="translate(43.18,269.56) scale(0.0681,0.0887) translate(0,-1)" font-size="100" font-weight="bold" fill="#f5a31a" stroke="#f5a31a" stroke-width="5.7" stroke-linejoin="round">G</text>
<text transform="translate(49.21,272.84) scale(0.0738,0.1489) translate(0,-1)" font-size="100" font-weight="bold" fill="#1a1ae6" stroke="#1a1ae6" stroke-width="5.3" stroke-linejoin="round">C</text>
<text transform="translate(55.24,272.82) scale(0.0738,0.1528) translate(0,0)" font-size="100" font-weight="bold" fill="#2aa832" stroke="#2aa832" stroke-width="5.3" stroke-linejoin="round">A</text>
<text transform="translate(61.27,272.89) scale(0.0870,0.1548) translate(0,0)" font-size="100" font-weight="bold" fill="#e8202a" stroke="#e8202a" stroke-width="4.5" stroke-linejoin="round">T</text>
<text transform="translate(67.30,273.22) scale(0.0738,0.0149) translate(0,-1)" font-size="100" font-weight="bold" fill="#1a1ae6" stroke="#1a1ae6" stroke-width="5.3" stroke-linejoin="round">C</text>
<text transform="translate(67.30,272.04) scale(0.0870,0.0310) translate(0,0)" font-size="100" font-weight="bold" fill="#e8202a" stroke="#e8202a" stroke-width="4.5" stroke-linejoin="round">T</text>
<text transform="translate(67.30,269.74) scale(0.0681,0.0296) translate(0,-1)" font-size="100" font-weight="bold" fill="#f5a31a" stroke="#f5a31a" stroke-width="5.7" stroke-linejoin="round">G</text>
<text transform="translate(67.30,267.33) scale(0.0738,0.0764) translate(0,0)" font-size="100" font-weight="bold" fill="#2aa832" stroke="#2aa832" stroke-width="5.3" stroke-linejoin="round">A</text>
<text transform="translate(73.33,273.19) scale(0.0870,0.0310) translate(0,0)" font-size="100" font-weight="bold" fill="#e8202a" stroke="#e8202a" stroke-width="4.5" stroke-linejoin="round">T</text>
<text transform="translate(73.33,270.89) scale(0.0738,0.0298) translate(0,-1)" font-size="100" font-weight="bold" fill="#1a1ae6" stroke="#1a1ae6" stroke-width="5.3" stroke-linejoin="round">C</text>
<text transform="translate(73.33,268.47) scale(0.0738,0.0764) translate(0,0)" font-size="100" font-weight="bold" fill="#2aa832" stroke="#2aa832" stroke-width="5.3" stroke-linejoin="round">A</text>
<text transform="translate(79.36,273.21) scale(0.0681,0.0148) translate(0,-1)" font-size="100" font-weight="bold" fill="#f5a31a" stroke="#f5a31a" stroke-width="5.7" stroke-linejoin="round">G</text>
<text transform="translate(79.36,272.08) scale(0.0870,0.0155) translate(0,0)" font-size="100" font-weight="bold" fill="#e8202a" stroke="#e8202a" stroke-width="4.5" stroke-linejoin="round">T</text>
<text transform="translate(79.36,270.89) scale(0.0738,0.0306) translate(0,0)" font-size="100" font-weight="bold" fill="#2aa832" stroke="#2aa832" stroke-width="5.3" stroke-linejoin="round">A</text>
<text transform="translate(79.36,268.46) scale(0.0738,0.0819) translate(0,-1)" font-size="100" font-weight="bold" fill="#1a1ae6" stroke="#1a1ae6" stroke-width="5.3" stroke-linejoin="round">C</text>
<text transform="translate(85.39,272.82) scale(0.0738,0.1528) translate(0,0)" font-size="100" font-weight="bold" fill="#2aa832" stroke="#2aa832" stroke-width="5.3" stroke-linejoin="round">A</text>
<text transform="translate(91.42,272.82) scale(0.0738,0.1528) translate(0,0)" font-size="100" font-weight="bold" fill="#2aa832" stroke="#2aa832" stroke-width="5.3" stroke-linejoin="round">A</text>
<text transform="translate(97.45,273.17) scale(0.0681,0.0296) translate(0,-1)" font-size="100" font-weight="bold" fill="#f5a31a" stroke="#f5a31a" stroke-width="5.7" stroke-linejoin="round">G</text>
<text transform="translate(97.45,270.84) scale(0.0738,0.0459) translate(0,0)" font-size="100" font-weight="bold" fill="#2aa832" stroke="#2aa832" stroke-width="5.3" stroke-linejoin="round">A</text>
<text transform="translate(97.45,267.40) scale(0.0870,0.0619) translate(0,0)" font-size="100" font-weight="bold" fill="#e8202a" stroke="#e8202a" stroke-width="4.5" stroke-linejoin="round">T</text>
<text transform="translate(103.48,273.17) scale(0.0738,0.0306) translate(0,0)" font-size="100" font-weight="bold" fill="#2aa832" stroke="#2aa832" stroke-width="5.3" stroke-linejoin="round">A</text>
<text transform="translate(103.48,270.70) scale(0.0681,0.0887) translate(0,-1)" font-size="100" font-weight="bold" fill="#f5a31a" stroke="#f5a31a" stroke-width="5.7" stroke-linejoin="round">G</text>
<text x="156.70" y="266.90" font-size="3.35" font-weight="bold" text-anchor="middle" fill="#2a2a2a" stroke="#2a2a2a" stroke-width="0.07" >OCT4-SOX2-TCF-NANOG</text>
<text x="156.70" y="270.60" font-size="3.15" font-weight="bold" text-anchor="middle" fill="#2a2a2a" stroke="#2a2a2a" stroke-width="0.07" >(POU,Homeobox,HMG)</text>
<text x="188.70" y="268.70" font-size="3.65" font-weight="bold" text-anchor="middle" fill="#2a2a2a" stroke="#2a2a2a" stroke-width="0.08" >-2.235e3</text>
<text x="211.65" y="268.70" font-size="3.75" font-weight="bold" text-anchor="middle" fill="#2a2a2a" stroke="#2a2a2a" stroke-width="0.08" >8.62%</text>
<text x="12.20" y="281.72" font-size="3.6" font-weight="bold" text-anchor="middle" fill="#2a2a2a" stroke="#2a2a2a" stroke-width="0.12" >4</text>
<text transform="translate(19.06,286.21) scale(0.0882,0.0310) translate(0,0)" font-size="100" font-weight="bold" fill="#e8202a" stroke="#e8202a" stroke-width="4.4" stroke-linejoin="round">T</text>
<text transform="translate(19.06,283.86) scale(0.0690,0.0444) translate(0,-1)" font-size="100" font-weight="bold" fill="#f5a31a" stroke="#f5a31a" stroke-width="5.6" stroke-linejoin="round">G</text>
<text transform="translate(19.06,280.40) scale(0.0747,0.0612) translate(0,0)" font-size="100" font-weight="bold" fill="#2aa832" stroke="#2aa832" stroke-width="5.2" stroke-linejoin="round">A</text>
<text transform="translate(25.16,286.21) scale(0.0882,0.0310) translate(0,0)" font-size="100" font-weight="bold" fill="#e8202a" stroke="#e8202a" stroke-width="4.4" stroke-linejoin="round">T</text>
<text transform="translate(25.16,283.72) scale(0.0690,0.0888) translate(0,-1)" font-size="100" font-weight="bold" fill="#f5a31a" stroke="#f5a31a" stroke-width="5.6" stroke-linejoin="round">G</text>
<text transform="translate(31.26,286.10) scale(0.0690,0.0592) translate(0,-1)" font-size="100" font-weight="bold" fill="#f5a31a" stroke="#f5a31a" stroke-width="5.6" stroke-linejoin="round">G</text>
<text transform="translate(31.26,281.57) scale(0.0882,0.0620) translate(0,0)" font-size="100" font-weight="bold" fill="#e8202a" stroke="#e8202a" stroke-width="4.4" stroke-linejoin="round">T</text>
<text transform="translate(37.36,285.83) scale(0.0690,0.1480) translate(0,-1)" font-size="100" font-weight="bold" fill="#f5a31a" stroke="#f5a31a" stroke-width="5.6" stroke-linejoin="round">G</text>
<text transform="translate(43.46,285.83) scale(0.0690,0.1480) translate(0,-1)" font-size="100" font-weight="bold" fill="#f5a31a" stroke="#f5a31a" stroke-width="5.6" stroke-linejoin="round">G</text>
<text transform="translate(49.56,285.83) scale(0.0690,0.1480) translate(0,-1)" font-size="100" font-weight="bold" fill="#f5a31a" stroke="#f5a31a" stroke-width="5.6" stroke-linejoin="round">G</text>
<text transform="translate(55.66,285.86) scale(0.0747,0.1490) translate(0,-1)" font-size="100" font-weight="bold" fill="#1a1ae6" stroke="#1a1ae6" stroke-width="5.2" stroke-linejoin="round">C</text>
<text transform="translate(61.76,285.83) scale(0.0690,0.1480) translate(0,-1)" font-size="100" font-weight="bold" fill="#f5a31a" stroke="#f5a31a" stroke-width="5.6" stroke-linejoin="round">G</text>
<text transform="translate(67.86,285.83) scale(0.0690,0.1480) translate(0,-1)" font-size="100" font-weight="bold" fill="#f5a31a" stroke="#f5a31a" stroke-width="5.6" stroke-linejoin="round">G</text>
<text transform="translate(73.96,286.14) scale(0.0690,0.0444) translate(0,-1)" font-size="100" font-weight="bold" fill="#f5a31a" stroke="#f5a31a" stroke-width="5.6" stroke-linejoin="round">G</text>
<text transform="translate(73.96,282.62) scale(0.0747,0.0842) translate(0,0)" font-size="100" font-weight="bold" fill="#2aa832" stroke="#2aa832" stroke-width="5.2" stroke-linejoin="round">A</text>
<text transform="translate(80.06,286.20) scale(0.0747,0.0298) translate(0,-1)" font-size="100" font-weight="bold" fill="#1a1ae6" stroke="#1a1ae6" stroke-width="5.2" stroke-linejoin="round">C</text>
<text transform="translate(80.06,283.68) scale(0.0690,0.1036) translate(0,-1)" font-size="100" font-weight="bold" fill="#f5a31a" stroke="#f5a31a" stroke-width="5.6" stroke-linejoin="round">G</text>
<text transform="translate(86.16,286.21) scale(0.0882,0.0310) translate(0,0)" font-size="100" font-weight="bold" fill="#e8202a" stroke="#e8202a" stroke-width="4.4" stroke-linejoin="round">T</text>
<text transform="translate(86.16,283.70) scale(0.0747,0.1043) translate(0,-1)" font-size="100" font-weight="bold" fill="#1a1ae6" stroke="#1a1ae6" stroke-width="5.2" stroke-linejoin="round">C</text>
<text x="156.70" y="281.72" font-size="3.6" font-weight="bold" text-anchor="middle" fill="#2a2a2a" stroke="#2a2a2a" stroke-width="0.08" >Sp5(Zf)</text>
<text x="188.70" y="281.72" font-size="3.65" font-weight="bold" text-anchor="middle" fill="#2a2a2a" stroke="#2a2a2a" stroke-width="0.08" >-1.621e3</text>
<text x="211.65" y="281.72" font-size="3.75" font-weight="bold" text-anchor="middle" fill="#2a2a2a" stroke="#2a2a2a" stroke-width="0.08" >33.18%</text>
<text x="12.20" y="294.74" font-size="3.6" font-weight="bold" text-anchor="middle" fill="#2a2a2a" stroke="#2a2a2a" stroke-width="0.12" >5</text>
<text transform="translate(19.06,299.22) scale(0.0821,0.0308) translate(0,0)" font-size="100" font-weight="bold" fill="#e8202a" stroke="#e8202a" stroke-width="4.7" stroke-linejoin="round">T</text>
<text transform="translate(19.06,296.75) scale(0.0696,0.0889) translate(0,-1)" font-size="100" font-weight="bold" fill="#1a1ae6" stroke="#1a1ae6" stroke-width="5.6" stroke-linejoin="round">C</text>
<text transform="translate(24.79,299.20) scale(0.0642,0.0294) translate(0,-1)" font-size="100" font-weight="bold" fill="#f5a31a" stroke="#f5a31a" stroke-width="6.0" stroke-linejoin="round">G</text>
<text transform="translate(24.79,296.88) scale(0.0696,0.0445) translate(0,-1)" font-size="100" font-weight="bold" fill="#1a1ae6" stroke="#1a1ae6" stroke-width="5.6" stroke-linejoin="round">C</text>
<text transform="translate(24.79,293.41) scale(0.0696,0.0609) translate(0,0)" font-size="100" font-weight="bold" fill="#2aa832" stroke="#2aa832" stroke-width="5.6" stroke-linejoin="round">A</text>
<text transform="translate(30.52,298.85) scale(0.0696,0.1482) translate(0,-1)" font-size="100" font-weight="bold" fill="#1a1ae6" stroke="#1a1ae6" stroke-width="5.6" stroke-linejoin="round">C</text>
<text transform="translate(36.25,298.84) scale(0.0696,0.1521) translate(0,0)" font-size="100" font-weight="bold" fill="#2aa832" stroke="#2aa832" stroke-width="5.6" stroke-linejoin="round">A</text>
<text transform="translate(41.98,298.81) scale(0.0642,0.1472) translate(0,-1)" font-size="100" font-weight="bold" fill="#f5a31a" stroke="#f5a31a" stroke-width="6.0" stroke-linejoin="round">G</text>
<text transform="translate(47.71,298.85) scale(0.0696,0.1482) translate(0,-1)" font-size="100" font-weight="bold" fill="#1a1ae6" stroke="#1a1ae6" stroke-width="5.6" stroke-linejoin="round">C</text>
<text transform="translate(53.44,298.84) scale(0.0696,0.1521) translate(0,0)" font-size="100" font-weight="bold" fill="#2aa832" stroke="#2aa832" stroke-width="5.6" stroke-linejoin="round">A</text>
<text transform="translate(59.17,298.81) scale(0.0642,0.1472) translate(0,-1)" font-size="100" font-weight="bold" fill="#f5a31a" stroke="#f5a31a" stroke-width="6.0" stroke-linejoin="round">G</text>
<text transform="translate(64.90,298.81) scale(0.0642,0.1472) translate(0,-1)" font-size="100" font-weight="bold" fill="#f5a31a" stroke="#f5a31a" stroke-width="6.0" stroke-linejoin="round">G</text>
<text transform="translate(70.63,299.22) scale(0.0821,0.0308) translate(0,0)" font-size="100" font-weight="bold" fill="#e8202a" stroke="#e8202a" stroke-width="4.7" stroke-linejoin="round">T</text>
<text transform="translate(70.63,296.88) scale(0.0696,0.0456) translate(0,0)" font-size="100" font-weight="bold" fill="#2aa832" stroke="#2aa832" stroke-width="5.6" stroke-linejoin="round">A</text>
<text transform="translate(70.63,293.40) scale(0.0642,0.0589) translate(0,-1)" font-size="100" font-weight="bold" fill="#f5a31a" stroke="#f5a31a" stroke-width="6.0" stroke-linejoin="round">G</text>
<text transform="translate(76.36,299.22) scale(0.0821,0.0308) translate(0,0)" font-size="100" font-weight="bold" fill="#e8202a" stroke="#e8202a" stroke-width="4.7" stroke-linejoin="round">T</text>
<text transform="translate(76.36,296.88) scale(0.0696,0.0456) translate(0,0)" font-size="100" font-weight="bold" fill="#2aa832" stroke="#2aa832" stroke-width="5.6" stroke-linejoin="round">A</text>
<text transform="translate(76.36,293.40) scale(0.0642,0.0589) translate(0,-1)" font-size="100" font-weight="bold" fill="#f5a31a" stroke="#f5a31a" stroke-width="6.0" stroke-linejoin="round">G</text>
<text transform="translate(82.09,299.22) scale(0.0821,0.0308) translate(0,0)" font-size="100" font-weight="bold" fill="#e8202a" stroke="#e8202a" stroke-width="4.7" stroke-linejoin="round">T</text>
<text transform="translate(82.09,296.88) scale(0.0696,0.0456) translate(0,0)" font-size="100" font-weight="bold" fill="#2aa832" stroke="#2aa832" stroke-width="5.6" stroke-linejoin="round">A</text>
<text transform="translate(82.09,293.40) scale(0.0642,0.0589) translate(0,-1)" font-size="100" font-weight="bold" fill="#f5a31a" stroke="#f5a31a" stroke-width="6.0" stroke-linejoin="round">G</text>
<text x="156.70" y="294.74" font-size="3.45" font-weight="bold" text-anchor="middle" fill="#2a2a2a" stroke="#2a2a2a" stroke-width="0.08" >Nanog(Homeobox)</text>
<text x="188.70" y="294.74" font-size="3.65" font-weight="bold" text-anchor="middle" fill="#2a2a2a" stroke="#2a2a2a" stroke-width="0.08" >-1.540e3</text>
<text x="211.65" y="294.74" font-size="3.75" font-weight="bold" text-anchor="middle" fill="#2a2a2a" stroke="#2a2a2a" stroke-width="0.08" >16.29%</text>
<text x="12.20" y="307.76" font-size="3.6" font-weight="bold" text-anchor="middle" fill="#2a2a2a" stroke="#2a2a2a" stroke-width="0.12" >6</text>
<text transform="translate(19.06,312.24) scale(0.0841,0.0309) translate(0,0)" font-size="100" font-weight="bold" fill="#e8202a" stroke="#e8202a" stroke-width="4.6" stroke-linejoin="round">T</text>
<text transform="translate(19.06,309.73) scale(0.0712,0.1040) translate(0,-1)" font-size="100" font-weight="bold" fill="#1a1ae6" stroke="#1a1ae6" stroke-width="5.4" stroke-linejoin="round">C</text>
<text transform="translate(24.91,312.18) scale(0.0712,0.0457) translate(0,0)" font-size="100" font-weight="bold" fill="#2aa832" stroke="#2aa832" stroke-width="5.4" stroke-linejoin="round">A</text>
<text transform="translate(24.91,308.63) scale(0.0712,0.0891) translate(0,-1)" font-size="100" font-weight="bold" fill="#1a1ae6" stroke="#1a1ae6" stroke-width="5.4" stroke-linejoin="round">C</text>
<text transform="translate(30.76,311.94) scale(0.0841,0.1544) translate(0,0)" font-size="100" font-weight="bold" fill="#e8202a" stroke="#e8202a" stroke-width="4.6" stroke-linejoin="round">T</text>
<text transform="translate(36.61,311.94) scale(0.0841,0.1544) translate(0,0)" font-size="100" font-weight="bold" fill="#e8202a" stroke="#e8202a" stroke-width="4.6" stroke-linejoin="round">T</text>
<text transform="translate(42.46,311.94) scale(0.0841,0.1544) translate(0,0)" font-size="100" font-weight="bold" fill="#e8202a" stroke="#e8202a" stroke-width="4.6" stroke-linejoin="round">T</text>
<text transform="translate(48.31,311.94) scale(0.0658,0.1180) translate(0,-1)" font-size="100" font-weight="bold" fill="#f5a31a" stroke="#f5a31a" stroke-width="5.9" stroke-linejoin="round">G</text>
<text transform="translate(54.16,311.94) scale(0.0841,0.1544) translate(0,0)" font-size="100" font-weight="bold" fill="#e8202a" stroke="#e8202a" stroke-width="4.6" stroke-linejoin="round">T</text>
<text transform="translate(60.01,312.19) scale(0.0712,0.0446) translate(0,-1)" font-size="100" font-weight="bold" fill="#1a1ae6" stroke="#1a1ae6" stroke-width="5.4" stroke-linejoin="round">C</text>
<text transform="translate(60.01,308.74) scale(0.0841,0.0618) translate(0,0)" font-size="100" font-weight="bold" fill="#e8202a" stroke="#e8202a" stroke-width="4.6" stroke-linejoin="round">T</text>
<text x="156.70" y="307.76" font-size="3.6" font-weight="bold" text-anchor="middle" fill="#2a2a2a" stroke="#2a2a2a" stroke-width="0.08" >Sox3(HMG)</text>
<text x="188.70" y="307.76" font-size="3.65" font-weight="bold" text-anchor="middle" fill="#2a2a2a" stroke="#2a2a2a" stroke-width="0.08" >-1.356e3</text>
<text x="211.65" y="307.76" font-size="3.75" font-weight="bold" text-anchor="middle" fill="#2a2a2a" stroke="#2a2a2a" stroke-width="0.08" >33.05%</text>
<text x="12.20" y="320.78" font-size="3.6" font-weight="bold" text-anchor="middle" fill="#2a2a2a" stroke="#2a2a2a" stroke-width="0.12" >7</text>
<text transform="translate(19.06,325.25) scale(0.0726,0.0297) translate(0,-1)" font-size="100" font-weight="bold" fill="#1a1ae6" stroke="#1a1ae6" stroke-width="5.4" stroke-linejoin="round">C</text>
<text transform="translate(19.06,322.92) scale(0.0671,0.0443) translate(0,-1)" font-size="100" font-weight="bold" fill="#f5a31a" stroke="#f5a31a" stroke-width="5.8" stroke-linejoin="round">G</text>
<text transform="translate(19.06,319.45) scale(0.0726,0.0611) translate(0,0)" font-size="100" font-weight="bold" fill="#2aa832" stroke="#2aa832" stroke-width="5.4" stroke-linejoin="round">A</text>
<text transform="translate(25.01,325.21) scale(0.0726,0.0446) translate(0,-1)" font-size="100" font-weight="bold" fill="#1a1ae6" stroke="#1a1ae6" stroke-width="5.4" stroke-linejoin="round">C</text>
<text transform="translate(25.01,321.77) scale(0.0671,0.0443) translate(0,-1)" font-size="100" font-weight="bold" fill="#f5a31a" stroke="#f5a31a" stroke-width="5.8" stroke-linejoin="round">G</text>
<text transform="translate(25.01,318.36) scale(0.0726,0.0458) translate(0,0)" font-size="100" font-weight="bold" fill="#2aa832" stroke="#2aa832" stroke-width="5.4" stroke-linejoin="round">A</text>
<text transform="translate(30.96,324.91) scale(0.0726,0.1487) translate(0,-1)" font-size="100" font-weight="bold" fill="#1a1ae6" stroke="#1a1ae6" stroke-width="5.4" stroke-linejoin="round">C</text>
<text transform="translate(36.91,324.90) scale(0.0726,0.1527) translate(0,0)" font-size="100" font-weight="bold" fill="#2aa832" stroke="#2aa832" stroke-width="5.4" stroke-linejoin="round">A</text>
<text transform="translate(42.86,324.87) scale(0.0671,0.1477) translate(0,-1)" font-size="100" font-weight="bold" fill="#f5a31a" stroke="#f5a31a" stroke-width="5.8" stroke-linejoin="round">G</text>
<text transform="translate(48.81,325.25) scale(0.0726,0.0305) translate(0,0)" font-size="100" font-weight="bold" fill="#2aa832" stroke="#2aa832" stroke-width="5.4" stroke-linejoin="round">A</text>
<text transform="translate(48.81,322.75) scale(0.0726,0.1041) translate(0,-1)" font-size="100" font-weight="bold" fill="#1a1ae6" stroke="#1a1ae6" stroke-width="5.4" stroke-linejoin="round">C</text>
<text transform="translate(54.76,324.96) scale(0.0857,0.1546) translate(0,0)" font-size="100" font-weight="bold" fill="#e8202a" stroke="#e8202a" stroke-width="4.5" stroke-linejoin="round">T</text>
<text transform="translate(60.71,324.87) scale(0.0671,0.1477) translate(0,-1)" font-size="100" font-weight="bold" fill="#f5a31a" stroke="#f5a31a" stroke-width="5.8" stroke-linejoin="round">G</text>
<text x="156.70" y="320.78" font-size="3.6" font-weight="bold" text-anchor="middle" fill="#2a2a2a" stroke="#2a2a2a" stroke-width="0.08" >SCL(bHLH)</text>
<text x="188.70" y="320.78" font-size="3.65" font-weight="bold" text-anchor="middle" fill="#2a2a2a" stroke="#2a2a2a" stroke-width="0.08" >-1.292e3</text>
<text x="211.65" y="320.78" font-size="3.75" font-weight="bold" text-anchor="middle" fill="#2a2a2a" stroke="#2a2a2a" stroke-width="0.08" >72.34%</text>
<text x="12.20" y="333.80" font-size="3.6" font-weight="bold" text-anchor="middle" fill="#2a2a2a" stroke="#2a2a2a" stroke-width="0.12" >8</text>
<text transform="translate(19.06,338.27) scale(0.0692,0.0296) translate(0,-1)" font-size="100" font-weight="bold" fill="#1a1ae6" stroke="#1a1ae6" stroke-width="5.6" stroke-linejoin="round">C</text>
<text transform="translate(19.06,335.94) scale(0.0692,0.0456) translate(0,0)" font-size="100" font-weight="bold" fill="#2aa832" stroke="#2aa832" stroke-width="5.6" stroke-linejoin="round">A</text>
<text transform="translate(19.06,332.45) scale(0.0638,0.0588) translate(0,-1)" font-size="100" font-weight="bold" fill="#f5a31a" stroke="#f5a31a" stroke-width="6.1" stroke-linejoin="round">G</text>
<text transform="translate(24.76,338.27) scale(0.0692,0.0304) translate(0,0)" font-size="100" font-weight="bold" fill="#2aa832" stroke="#2aa832" stroke-width="5.6" stroke-linejoin="round">A</text>
<text transform="translate(24.76,335.94) scale(0.0692,0.0444) translate(0,-1)" font-size="100" font-weight="bold" fill="#1a1ae6" stroke="#1a1ae6" stroke-width="5.6" stroke-linejoin="round">C</text>
<text transform="translate(24.76,332.45) scale(0.0638,0.0588) translate(0,-1)" font-size="100" font-weight="bold" fill="#f5a31a" stroke="#f5a31a" stroke-width="6.1" stroke-linejoin="round">G</text>
<text transform="translate(30.46,338.28) scale(0.0816,0.0308) translate(0,0)" font-size="100" font-weight="bold" fill="#e8202a" stroke="#e8202a" stroke-width="4.7" stroke-linejoin="round">T</text>
<text transform="translate(30.46,335.94) scale(0.0692,0.0456) translate(0,0)" font-size="100" font-weight="bold" fill="#2aa832" stroke="#2aa832" stroke-width="5.6" stroke-linejoin="round">A</text>
<text transform="translate(30.46,332.47) scale(0.0692,0.0593) translate(0,-1)" font-size="100" font-weight="bold" fill="#1a1ae6" stroke="#1a1ae6" stroke-width="5.6" stroke-linejoin="round">C</text>
<text transform="translate(36.16,338.24) scale(0.0816,0.0462) translate(0,0)" font-size="100" font-weight="bold" fill="#e8202a" stroke="#e8202a" stroke-width="4.7" stroke-linejoin="round">T</text>
<text transform="translate(36.16,334.71) scale(0.0692,0.0741) translate(0,-1)" font-size="100" font-weight="bold" fill="#1a1ae6" stroke="#1a1ae6" stroke-width="5.6" stroke-linejoin="round">C</text>
<text transform="translate(41.86,338.24) scale(0.0816,0.0462) translate(0,0)" font-size="100" font-weight="bold" fill="#e8202a" stroke="#e8202a" stroke-width="4.7" stroke-linejoin="round">T</text>
<text transform="translate(41.86,334.71) scale(0.0692,0.0741) translate(0,-1)" font-size="100" font-weight="bold" fill="#1a1ae6" stroke="#1a1ae6" stroke-width="5.6" stroke-linejoin="round">C</text>
<text transform="translate(47.56,337.91) scale(0.0692,0.1482) translate(0,-1)" font-size="100" font-weight="bold" fill="#1a1ae6" stroke="#1a1ae6" stroke-width="5.6" stroke-linejoin="round">C</text>
<text transform="translate(53.26,337.91) scale(0.0692,0.1482) translate(0,-1)" font-size="100" font-weight="bold" fill="#1a1ae6" stroke="#1a1ae6" stroke-width="5.6" stroke-linejoin="round">C</text>
<text transform="translate(58.96,338.18) scale(0.0692,0.0593) translate(0,-1)" font-size="100" font-weight="bold" fill="#1a1ae6" stroke="#1a1ae6" stroke-width="5.6" stroke-linejoin="round">C</text>
<text transform="translate(58.96,333.60) scale(0.0816,0.0771) translate(0,0)" font-size="100" font-weight="bold" fill="#e8202a" stroke="#e8202a" stroke-width="4.7" stroke-linejoin="round">T</text>
<text transform="translate(64.66,337.87) scale(0.0638,0.1471) translate(0,-1)" font-size="100" font-weight="bold" fill="#f5a31a" stroke="#f5a31a" stroke-width="6.1" stroke-linejoin="round">G</text>
<text transform="translate(70.36,337.91) scale(0.0692,0.1482) translate(0,-1)" font-size="100" font-weight="bold" fill="#1a1ae6" stroke="#1a1ae6" stroke-width="5.6" stroke-linejoin="round">C</text>
<text transform="translate(76.06,337.97) scale(0.0816,0.1541) translate(0,0)" font-size="100" font-weight="bold" fill="#e8202a" stroke="#e8202a" stroke-width="4.7" stroke-linejoin="round">T</text>
<text transform="translate(81.76,338.24) scale(0.0816,0.0462) translate(0,0)" font-size="100" font-weight="bold" fill="#e8202a" stroke="#e8202a" stroke-width="4.7" stroke-linejoin="round">T</text>
<text transform="translate(81.76,334.64) scale(0.0638,0.0883) translate(0,-1)" font-size="100" font-weight="bold" fill="#f5a31a" stroke="#f5a31a" stroke-width="6.1" stroke-linejoin="round">G</text>
<text transform="translate(87.46,338.28) scale(0.0816,0.0308) translate(0,0)" font-size="100" font-weight="bold" fill="#e8202a" stroke="#e8202a" stroke-width="4.7" stroke-linejoin="round">T</text>
<text transform="translate(87.46,335.93) scale(0.0638,0.0441) translate(0,-1)" font-size="100" font-weight="bold" fill="#f5a31a" stroke="#f5a31a" stroke-width="6.1" stroke-linejoin="round">G</text>
<text transform="translate(87.46,332.51) scale(0.0692,0.0456) translate(0,0)" font-size="100" font-weight="bold" fill="#2aa832" stroke="#2aa832" stroke-width="5.6" stroke-linejoin="round">A</text>
<text transform="translate(93.16,338.27) scale(0.0692,0.0296) translate(0,-1)" font-size="100" font-weight="bold" fill="#1a1ae6" stroke="#1a1ae6" stroke-width="5.6" stroke-linejoin="round">C</text>
<text transform="translate(93.16,335.73) scale(0.0638,0.1030) translate(0,-1)" font-size="100" font-weight="bold" fill="#f5a31a" stroke="#f5a31a" stroke-width="6.1" stroke-linejoin="round">G</text>
<text transform="translate(98.86,338.28) scale(0.0816,0.0308) translate(0,0)" font-size="100" font-weight="bold" fill="#e8202a" stroke="#e8202a" stroke-width="4.7" stroke-linejoin="round">T</text>
<text transform="translate(98.86,335.94) scale(0.0692,0.0456) translate(0,0)" font-size="100" font-weight="bold" fill="#2aa832" stroke="#2aa832" stroke-width="5.6" stroke-linejoin="round">A</text>
<text transform="translate(98.86,332.47) scale(0.0692,0.0593) translate(0,-1)" font-size="100" font-weight="bold" fill="#1a1ae6" stroke="#1a1ae6" stroke-width="5.6" stroke-linejoin="round">C</text>
<text x="156.70" y="333.80" font-size="3.6" font-weight="bold" text-anchor="middle" fill="#2a2a2a" stroke="#2a2a2a" stroke-width="0.08" >Zic3(Zf)</text>
<text x="188.70" y="333.80" font-size="3.65" font-weight="bold" text-anchor="middle" fill="#2a2a2a" stroke="#2a2a2a" stroke-width="0.08" >-1.229e3</text>
<text x="211.65" y="333.80" font-size="3.75" font-weight="bold" text-anchor="middle" fill="#2a2a2a" stroke="#2a2a2a" stroke-width="0.08" >17.95%</text>
<text x="12.20" y="346.82" font-size="3.6" font-weight="bold" text-anchor="middle" fill="#2a2a2a" stroke="#2a2a2a" stroke-width="0.12" >9</text>
<text transform="translate(19.06,351.29) scale(0.0733,0.0306) translate(0,0)" font-size="100" font-weight="bold" fill="#2aa832" stroke="#2aa832" stroke-width="5.3" stroke-linejoin="round">A</text>
<text transform="translate(19.06,348.96) scale(0.0677,0.0443) translate(0,-1)" font-size="100" font-weight="bold" fill="#f5a31a" stroke="#f5a31a" stroke-width="5.7" stroke-linejoin="round">G</text>
<text transform="translate(19.06,345.50) scale(0.0733,0.0595) translate(0,-1)" font-size="100" font-weight="bold" fill="#1a1ae6" stroke="#1a1ae6" stroke-width="5.3" stroke-linejoin="round">C</text>
<text transform="translate(25.06,351.23) scale(0.0866,0.0619) translate(0,0)" font-size="100" font-weight="bold" fill="#e8202a" stroke="#e8202a" stroke-width="4.5" stroke-linejoin="round">T</text>
<text transform="translate(25.06,346.64) scale(0.0733,0.0595) translate(0,-1)" font-size="100" font-weight="bold" fill="#1a1ae6" stroke="#1a1ae6" stroke-width="5.3" stroke-linejoin="round">C</text>
<text transform="translate(31.06,351.20) scale(0.0677,0.0591) translate(0,-1)" font-size="100" font-weight="bold" fill="#f5a31a" stroke="#f5a31a" stroke-width="5.7" stroke-linejoin="round">G</text>
<text transform="translate(31.06,346.61) scale(0.0733,0.0688) translate(0,0)" font-size="100" font-weight="bold" fill="#2aa832" stroke="#2aa832" stroke-width="5.3" stroke-linejoin="round">A</text>
<text transform="translate(37.06,350.95) scale(0.0733,0.1488) translate(0,-1)" font-size="100" font-weight="bold" fill="#1a1ae6" stroke="#1a1ae6" stroke-width="5.3" stroke-linejoin="round">C</text>
<text transform="translate(43.06,350.94) scale(0.0733,0.1528) translate(0,0)" font-size="100" font-weight="bold" fill="#2aa832" stroke="#2aa832" stroke-width="5.3" stroke-linejoin="round">A</text>
<text transform="translate(49.06,351.01) scale(0.0866,0.1547) translate(0,0)" font-size="100" font-weight="bold" fill="#e8202a" stroke="#e8202a" stroke-width="4.5" stroke-linejoin="round">T</text>
<text transform="translate(55.06,351.01) scale(0.0866,0.1547) translate(0,0)" font-size="100" font-weight="bold" fill="#e8202a" stroke="#e8202a" stroke-width="4.5" stroke-linejoin="round">T</text>
<text transform="translate(61.06,350.95) scale(0.0733,0.1488) translate(0,-1)" font-size="100" font-weight="bold" fill="#1a1ae6" stroke="#1a1ae6" stroke-width="5.3" stroke-linejoin="round">C</text>
<text transform="translate(67.06,350.95) scale(0.0733,0.1488) translate(0,-1)" font-size="100" font-weight="bold" fill="#1a1ae6" stroke="#1a1ae6" stroke-width="5.3" stroke-linejoin="round">C</text>
<text transform="translate(73.06,351.25) scale(0.0866,0.0542) translate(0,0)" font-size="100" font-weight="bold" fill="#e8202a" stroke="#e8202a" stroke-width="4.5" stroke-linejoin="round">T</text>
<text transform="translate(73.06,347.14) scale(0.0733,0.0840) translate(0,0)" font-size="100" font-weight="bold" fill="#2aa832" stroke="#2aa832" stroke-width="5.3" stroke-linejoin="round">A</text>
<text x="156.70" y="346.82" font-size="3.6" font-weight="bold" text-anchor="middle" fill="#2a2a2a" stroke="#2a2a2a" stroke-width="0.08" >TEAD4(TEAD)</text>
<text x="188.70" y="346.82" font-size="3.65" font-weight="bold" text-anchor="middle" fill="#2a2a2a" stroke="#2a2a2a" stroke-width="0.08" >-1.162e3</text>
<text x="211.65" y="346.82" font-size="3.75" font-weight="bold" text-anchor="middle" fill="#2a2a2a" stroke="#2a2a2a" stroke-width="0.08" >21.66%</text>
<text x="12.20" y="359.84" font-size="3.6" font-weight="bold" text-anchor="middle" fill="#2a2a2a" stroke="#2a2a2a" stroke-width="0.12" >10</text>
<text transform="translate(19.06,364.31) scale(0.0696,0.0304) translate(0,0)" font-size="100" font-weight="bold" fill="#2aa832" stroke="#2aa832" stroke-width="5.6" stroke-linejoin="round">A</text>
<text transform="translate(19.06,361.98) scale(0.0696,0.0445) translate(0,-1)" font-size="100" font-weight="bold" fill="#1a1ae6" stroke="#1a1ae6" stroke-width="5.6" stroke-linejoin="round">C</text>
<text transform="translate(19.06,358.53) scale(0.0821,0.0617) translate(0,0)" font-size="100" font-weight="bold" fill="#e8202a" stroke="#e8202a" stroke-width="4.7" stroke-linejoin="round">T</text>
<text transform="translate(24.79,363.94) scale(0.0696,0.1521) translate(0,0)" font-size="100" font-weight="bold" fill="#2aa832" stroke="#2aa832" stroke-width="5.6" stroke-linejoin="round">A</text>
<text transform="translate(30.52,364.01) scale(0.0821,0.1542) translate(0,0)" font-size="100" font-weight="bold" fill="#e8202a" stroke="#e8202a" stroke-width="4.7" stroke-linejoin="round">T</text>
<text transform="translate(36.25,363.91) scale(0.0642,0.1472) translate(0,-1)" font-size="100" font-weight="bold" fill="#f5a31a" stroke="#f5a31a" stroke-width="6.0" stroke-linejoin="round">G</text>
<text transform="translate(41.98,364.24) scale(0.0821,0.0617) translate(0,0)" font-size="100" font-weight="bold" fill="#e8202a" stroke="#e8202a" stroke-width="4.7" stroke-linejoin="round">T</text>
<text transform="translate(41.98,359.61) scale(0.0696,0.0741) translate(0,-1)" font-size="100" font-weight="bold" fill="#1a1ae6" stroke="#1a1ae6" stroke-width="5.6" stroke-linejoin="round">C</text>
<text transform="translate(47.71,364.26) scale(0.0821,0.0540) translate(0,0)" font-size="100" font-weight="bold" fill="#e8202a" stroke="#e8202a" stroke-width="4.7" stroke-linejoin="round">T</text>
<text transform="translate(47.71,360.15) scale(0.0696,0.0837) translate(0,0)" font-size="100" font-weight="bold" fill="#2aa832" stroke="#2aa832" stroke-width="5.6" stroke-linejoin="round">A</text>
<text transform="translate(53.44,363.94) scale(0.0696,0.1521) translate(0,0)" font-size="100" font-weight="bold" fill="#2aa832" stroke="#2aa832" stroke-width="5.6" stroke-linejoin="round">A</text>
<text transform="translate(59.17,363.94) scale(0.0696,0.1521) translate(0,0)" font-size="100" font-weight="bold" fill="#2aa832" stroke="#2aa832" stroke-width="5.6" stroke-linejoin="round">A</text>
<text transform="translate(64.90,364.01) scale(0.0821,0.1542) translate(0,0)" font-size="100" font-weight="bold" fill="#e8202a" stroke="#e8202a" stroke-width="4.7" stroke-linejoin="round">T</text>
<text transform="translate(70.63,364.30) scale(0.0642,0.0294) translate(0,-1)" font-size="100" font-weight="bold" fill="#f5a31a" stroke="#f5a31a" stroke-width="6.0" stroke-linejoin="round">G</text>
<text transform="translate(70.63,361.98) scale(0.0696,0.0456) translate(0,0)" font-size="100" font-weight="bold" fill="#2aa832" stroke="#2aa832" stroke-width="5.6" stroke-linejoin="round">A</text>
<text transform="translate(70.63,358.53) scale(0.0821,0.0617) translate(0,0)" font-size="100" font-weight="bold" fill="#e8202a" stroke="#e8202a" stroke-width="4.7" stroke-linejoin="round">T</text>
<text transform="translate(76.36,364.32) scale(0.0821,0.0308) translate(0,0)" font-size="100" font-weight="bold" fill="#e8202a" stroke="#e8202a" stroke-width="4.7" stroke-linejoin="round">T</text>
<text transform="translate(76.36,361.98) scale(0.0696,0.0445) translate(0,-1)" font-size="100" font-weight="bold" fill="#1a1ae6" stroke="#1a1ae6" stroke-width="5.6" stroke-linejoin="round">C</text>
<text transform="translate(76.36,358.51) scale(0.0696,0.0609) translate(0,0)" font-size="100" font-weight="bold" fill="#2aa832" stroke="#2aa832" stroke-width="5.6" stroke-linejoin="round">A</text>
<text transform="translate(82.09,364.32) scale(0.0821,0.0308) translate(0,0)" font-size="100" font-weight="bold" fill="#e8202a" stroke="#e8202a" stroke-width="4.7" stroke-linejoin="round">T</text>
<text transform="translate(82.09,361.98) scale(0.0696,0.0445) translate(0,-1)" font-size="100" font-weight="bold" fill="#1a1ae6" stroke="#1a1ae6" stroke-width="5.6" stroke-linejoin="round">C</text>
<text transform="translate(82.09,358.52) scale(0.0642,0.0515) translate(0,-1)" font-size="100" font-weight="bold" fill="#f5a31a" stroke="#f5a31a" stroke-width="6.0" stroke-linejoin="round">G</text>
<text x="156.70" y="359.84" font-size="3.45" font-weight="bold" text-anchor="middle" fill="#2a2a2a" stroke="#2a2a2a" stroke-width="0.08" >Brn1(POU,Homeobox)</text>
<text x="188.70" y="359.84" font-size="3.65" font-weight="bold" text-anchor="middle" fill="#2a2a2a" stroke="#2a2a2a" stroke-width="0.08" >-1.139e3</text>
<text x="211.65" y="359.84" font-size="3.75" font-weight="bold" text-anchor="middle" fill="#2a2a2a" stroke="#2a2a2a" stroke-width="0.08" >7.78%</text>
<text x="114.75" y="379.20" font-size="8.75" font-weight="bold" text-anchor="middle" fill="#1a1a1a" stroke="#1a1a1a" stroke-width="0.15" >Day 45 Top Ranked Motifs</text>
<rect x="6.6" y="389.4" width="217.10" height="139.30" fill="#fff" stroke="#8a8a8a" stroke-width="1"/>
<line x1="17.20" y1="389.4" x2="17.20" y2="528.70" stroke="#c4c4c4" stroke-width="0.6"/>
<line x1="136.20" y1="389.4" x2="136.20" y2="528.70" stroke="#8a8a8a" stroke-width="0.9"/>
<line x1="171.60" y1="389.4" x2="171.60" y2="528.70" stroke="#8a8a8a" stroke-width="0.9"/>
<line x1="192.60" y1="389.4" x2="192.60" y2="528.70" stroke="#8a8a8a" stroke-width="0.9"/>
<line x1="6.6" y1="403.00" x2="223.7" y2="403.00" stroke="#8a8a8a" stroke-width="0.9"/>
<line x1="6.6" y1="415.57" x2="223.7" y2="415.57" stroke="#8a8a8a" stroke-width="0.9"/>
<line x1="6.6" y1="428.14" x2="223.7" y2="428.14" stroke="#8a8a8a" stroke-width="0.9"/>
<line x1="6.6" y1="440.71" x2="223.7" y2="440.71" stroke="#8a8a8a" stroke-width="0.9"/>
<line x1="6.6" y1="453.28" x2="223.7" y2="453.28" stroke="#8a8a8a" stroke-width="0.9"/>
<line x1="6.6" y1="465.85" x2="223.7" y2="465.85" stroke="#8a8a8a" stroke-width="0.9"/>
<line x1="6.6" y1="478.42" x2="223.7" y2="478.42" stroke="#8a8a8a" stroke-width="0.9"/>
<line x1="6.6" y1="490.99" x2="223.7" y2="490.99" stroke="#8a8a8a" stroke-width="0.9"/>
<line x1="6.6" y1="503.56" x2="223.7" y2="503.56" stroke="#8a8a8a" stroke-width="0.9"/>
<line x1="6.6" y1="516.13" x2="223.7" y2="516.13" stroke="#8a8a8a" stroke-width="0.9"/>
<text x="11.90" y="397.50" font-size="3.6" font-weight="bold" text-anchor="middle" fill="#2a2a2a" stroke="#2a2a2a" stroke-width="0.12" >Rank</text>
<text x="76.70" y="397.50" font-size="3.5" font-weight="bold" text-anchor="middle" fill="#2a2a2a" stroke="#2a2a2a" stroke-width="0.12" >Motif</text>
<text x="153.90" y="397.50" font-size="3.6" font-weight="bold" text-anchor="middle" fill="#2a2a2a" stroke="#2a2a2a" stroke-width="0.12" >Name</text>
<text x="182.10" y="395.70" font-size="3.4" font-weight="bold" text-anchor="middle" fill="#2a2a2a" stroke="#2a2a2a" stroke-width="0.12" >log10</text>
<text x="182.10" y="399.30" font-size="3.4" font-weight="bold" text-anchor="middle" fill="#2a2a2a" stroke="#2a2a2a" stroke-width="0.12" >(p-value)</text>
<text x="208.15" y="393.90" font-size="3.1" font-weight="bold" text-anchor="middle" fill="#2a2a2a" stroke="#2a2a2a" stroke-width="0.12" >% of Target</text>
<text x="208.15" y="397.30" font-size="3.1" font-weight="bold" text-anchor="middle" fill="#2a2a2a" stroke="#2a2a2a" stroke-width="0.12" >Sequences with</text>
<text x="208.15" y="400.70" font-size="3.1" font-weight="bold" text-anchor="middle" fill="#2a2a2a" stroke="#2a2a2a" stroke-width="0.12" >Motif</text>
<text x="11.90" y="410.54" font-size="3.6" font-weight="bold" text-anchor="middle" fill="#2a2a2a" stroke="#2a2a2a" stroke-width="0.12" >1</text>
<text transform="translate(18.46,414.82) scale(0.0609,0.0141) translate(0,-1)" font-size="100" font-weight="bold" fill="#f5a31a" stroke="#f5a31a" stroke-width="6.3" stroke-linejoin="round">G</text>
<text transform="translate(18.46,413.64) scale(0.0660,0.0425) translate(0,-1)" font-size="100" font-weight="bold" fill="#1a1ae6" stroke="#1a1ae6" stroke-width="5.8" stroke-linejoin="round">C</text>
<text transform="translate(18.46,410.25) scale(0.0660,0.0728) translate(0,0)" font-size="100" font-weight="bold" fill="#2aa832" stroke="#2aa832" stroke-width="5.8" stroke-linejoin="round">A</text>
<text transform="translate(23.93,414.78) scale(0.0660,0.0291) translate(0,0)" font-size="100" font-weight="bold" fill="#2aa832" stroke="#2aa832" stroke-width="5.8" stroke-linejoin="round">A</text>
<text transform="translate(23.93,412.54) scale(0.0660,0.0425) translate(0,-1)" font-size="100" font-weight="bold" fill="#1a1ae6" stroke="#1a1ae6" stroke-width="5.8" stroke-linejoin="round">C</text>
<text transform="translate(23.93,409.23) scale(0.0779,0.0590) translate(0,0)" font-size="100" font-weight="bold" fill="#e8202a" stroke="#e8202a" stroke-width="5.0" stroke-linejoin="round">T</text>
<text transform="translate(29.40,414.78) scale(0.0660,0.0284) translate(0,-1)" font-size="100" font-weight="bold" fill="#1a1ae6" stroke="#1a1ae6" stroke-width="5.8" stroke-linejoin="round">C</text>
<text transform="translate(29.40,412.53) scale(0.0609,0.0422) translate(0,-1)" font-size="100" font-weight="bold" fill="#f5a31a" stroke="#f5a31a" stroke-width="6.3" stroke-linejoin="round">G</text>
<text transform="translate(29.40,409.15) scale(0.0660,0.0728) translate(0,0)" font-size="100" font-weight="bold" fill="#2aa832" stroke="#2aa832" stroke-width="5.8" stroke-linejoin="round">A</text>
<text transform="translate(34.87,414.69) scale(0.0660,0.0567) translate(0,-1)" font-size="100" font-weight="bold" fill="#1a1ae6" stroke="#1a1ae6" stroke-width="5.8" stroke-linejoin="round">C</text>
<text transform="translate(34.87,410.29) scale(0.0609,0.0563) translate(0,-1)" font-size="100" font-weight="bold" fill="#f5a31a" stroke="#f5a31a" stroke-width="6.3" stroke-linejoin="round">G</text>
<text transform="translate(40.34,414.73) scale(0.0660,0.0425) translate(0,-1)" font-size="100" font-weight="bold" fill="#1a1ae6" stroke="#1a1ae6" stroke-width="5.8" stroke-linejoin="round">C</text>
<text transform="translate(40.34,411.38) scale(0.0779,0.0738) translate(0,0)" font-size="100" font-weight="bold" fill="#e8202a" stroke="#e8202a" stroke-width="5.0" stroke-linejoin="round">T</text>
<text transform="translate(45.81,414.38) scale(0.0609,0.1407) translate(0,-1)" font-size="100" font-weight="bold" fill="#f5a31a" stroke="#f5a31a" stroke-width="6.3" stroke-linejoin="round">G</text>
<text transform="translate(51.28,414.42) scale(0.0660,0.1418) translate(0,-1)" font-size="100" font-weight="bold" fill="#1a1ae6" stroke="#1a1ae6" stroke-width="5.8" stroke-linejoin="round">C</text>
<text transform="translate(56.75,414.42) scale(0.0660,0.1418) translate(0,-1)" font-size="100" font-weight="bold" fill="#1a1ae6" stroke="#1a1ae6" stroke-width="5.8" stroke-linejoin="round">C</text>
<text transform="translate(62.22,414.73) scale(0.0660,0.0425) translate(0,-1)" font-size="100" font-weight="bold" fill="#1a1ae6" stroke="#1a1ae6" stroke-width="5.8" stroke-linejoin="round">C</text>
<text transform="translate(62.22,411.35) scale(0.0660,0.0728) translate(0,0)" font-size="100" font-weight="bold" fill="#2aa832" stroke="#2aa832" stroke-width="5.8" stroke-linejoin="round">A</text>
<text transform="translate(67.69,414.71) scale(0.0779,0.0590) translate(0,0)" font-size="100" font-weight="bold" fill="#e8202a" stroke="#e8202a" stroke-width="5.0" stroke-linejoin="round">T</text>
<text transform="translate(67.69,410.26) scale(0.0660,0.0709) translate(0,-1)" font-size="100" font-weight="bold" fill="#1a1ae6" stroke="#1a1ae6" stroke-width="5.8" stroke-linejoin="round">C</text>
<text transform="translate(73.16,414.42) scale(0.0660,0.1418) translate(0,-1)" font-size="100" font-weight="bold" fill="#1a1ae6" stroke="#1a1ae6" stroke-width="5.8" stroke-linejoin="round">C</text>
<text transform="translate(78.63,414.48) scale(0.0779,0.1476) translate(0,0)" font-size="100" font-weight="bold" fill="#e8202a" stroke="#e8202a" stroke-width="5.0" stroke-linejoin="round">T</text>
<text transform="translate(84.10,414.78) scale(0.0660,0.0284) translate(0,-1)" font-size="100" font-weight="bold" fill="#1a1ae6" stroke="#1a1ae6" stroke-width="5.8" stroke-linejoin="round">C</text>
<text transform="translate(84.10,412.54) scale(0.0660,0.0437) translate(0,0)" font-size="100" font-weight="bold" fill="#2aa832" stroke="#2aa832" stroke-width="5.8" stroke-linejoin="round">A</text>
<text transform="translate(84.10,409.19) scale(0.0609,0.0563) translate(0,-1)" font-size="100" font-weight="bold" fill="#f5a31a" stroke="#f5a31a" stroke-width="6.3" stroke-linejoin="round">G</text>
<text transform="translate(89.57,414.73) scale(0.0660,0.0425) translate(0,-1)" font-size="100" font-weight="bold" fill="#1a1ae6" stroke="#1a1ae6" stroke-width="5.8" stroke-linejoin="round">C</text>
<text transform="translate(89.57,411.33) scale(0.0609,0.0704) translate(0,-1)" font-size="100" font-weight="bold" fill="#f5a31a" stroke="#f5a31a" stroke-width="6.3" stroke-linejoin="round">G</text>
<text transform="translate(95.04,414.48) scale(0.0779,0.1476) translate(0,0)" font-size="100" font-weight="bold" fill="#e8202a" stroke="#e8202a" stroke-width="5.0" stroke-linejoin="round">T</text>
<text transform="translate(100.51,414.38) scale(0.0609,0.1407) translate(0,-1)" font-size="100" font-weight="bold" fill="#f5a31a" stroke="#f5a31a" stroke-width="6.3" stroke-linejoin="round">G</text>
<text transform="translate(105.98,414.38) scale(0.0609,0.1407) translate(0,-1)" font-size="100" font-weight="bold" fill="#f5a31a" stroke="#f5a31a" stroke-width="6.3" stroke-linejoin="round">G</text>
<text transform="translate(111.45,414.78) scale(0.0660,0.0291) translate(0,0)" font-size="100" font-weight="bold" fill="#2aa832" stroke="#2aa832" stroke-width="5.8" stroke-linejoin="round">A</text>
<text transform="translate(111.45,412.56) scale(0.0779,0.0443) translate(0,0)" font-size="100" font-weight="bold" fill="#e8202a" stroke="#e8202a" stroke-width="5.0" stroke-linejoin="round">T</text>
<text transform="translate(111.45,409.20) scale(0.0660,0.0567) translate(0,-1)" font-size="100" font-weight="bold" fill="#1a1ae6" stroke="#1a1ae6" stroke-width="5.8" stroke-linejoin="round">C</text>
<text transform="translate(116.92,414.79) scale(0.0779,0.0295) translate(0,0)" font-size="100" font-weight="bold" fill="#e8202a" stroke="#e8202a" stroke-width="5.0" stroke-linejoin="round">T</text>
<text transform="translate(116.92,412.54) scale(0.0660,0.0437) translate(0,0)" font-size="100" font-weight="bold" fill="#2aa832" stroke="#2aa832" stroke-width="5.8" stroke-linejoin="round">A</text>
<text transform="translate(116.92,409.20) scale(0.0660,0.0567) translate(0,-1)" font-size="100" font-weight="bold" fill="#1a1ae6" stroke="#1a1ae6" stroke-width="5.8" stroke-linejoin="round">C</text>
<text transform="translate(122.39,414.83) scale(0.0779,0.0148) translate(0,0)" font-size="100" font-weight="bold" fill="#e8202a" stroke="#e8202a" stroke-width="5.0" stroke-linejoin="round">T</text>
<text transform="translate(122.39,413.63) scale(0.0609,0.0422) translate(0,-1)" font-size="100" font-weight="bold" fill="#f5a31a" stroke="#f5a31a" stroke-width="6.3" stroke-linejoin="round">G</text>
<text transform="translate(122.39,410.25) scale(0.0660,0.0728) translate(0,0)" font-size="100" font-weight="bold" fill="#2aa832" stroke="#2aa832" stroke-width="5.8" stroke-linejoin="round">A</text>
<text x="153.90" y="410.54" font-size="3.6" font-weight="bold" text-anchor="middle" fill="#2a2a2a" stroke="#2a2a2a" stroke-width="0.08" >CTCF(Zf)</text>
<text x="182.10" y="410.54" font-size="3.65" font-weight="bold" text-anchor="middle" fill="#2a2a2a" stroke="#2a2a2a" stroke-width="0.08" >-8.048e3</text>
<text x="208.15" y="410.54" font-size="3.75" font-weight="bold" text-anchor="middle" fill="#2a2a2a" stroke="#2a2a2a" stroke-width="0.08" >50.61%</text>
<text x="11.90" y="423.11" font-size="3.6" font-weight="bold" text-anchor="middle" fill="#2a2a2a" stroke="#2a2a2a" stroke-width="0.12" >2</text>
<text transform="translate(18.46,427.30) scale(0.0657,0.0436) translate(0,0)" font-size="100" font-weight="bold" fill="#2aa832" stroke="#2aa832" stroke-width="5.9" stroke-linejoin="round">A</text>
<text transform="translate(18.46,424.00) scale(0.0606,0.0422) translate(0,-1)" font-size="100" font-weight="bold" fill="#f5a31a" stroke="#f5a31a" stroke-width="6.4" stroke-linejoin="round">G</text>
<text transform="translate(18.46,420.72) scale(0.0657,0.0425) translate(0,-1)" font-size="100" font-weight="bold" fill="#1a1ae6" stroke="#1a1ae6" stroke-width="5.9" stroke-linejoin="round">C</text>
<text transform="translate(23.91,427.30) scale(0.0657,0.0436) translate(0,0)" font-size="100" font-weight="bold" fill="#2aa832" stroke="#2aa832" stroke-width="5.9" stroke-linejoin="round">A</text>
<text transform="translate(23.91,424.03) scale(0.0775,0.0443) translate(0,0)" font-size="100" font-weight="bold" fill="#e8202a" stroke="#e8202a" stroke-width="5.0" stroke-linejoin="round">T</text>
<text transform="translate(23.91,420.72) scale(0.0657,0.0425) translate(0,-1)" font-size="100" font-weight="bold" fill="#1a1ae6" stroke="#1a1ae6" stroke-width="5.9" stroke-linejoin="round">C</text>
<text transform="translate(29.36,427.29) scale(0.0606,0.0422) translate(0,-1)" font-size="100" font-weight="bold" fill="#f5a31a" stroke="#f5a31a" stroke-width="6.4" stroke-linejoin="round">G</text>
<text transform="translate(29.36,424.01) scale(0.0657,0.0436) translate(0,0)" font-size="100" font-weight="bold" fill="#2aa832" stroke="#2aa832" stroke-width="5.9" stroke-linejoin="round">A</text>
<text transform="translate(29.36,420.72) scale(0.0657,0.0425) translate(0,-1)" font-size="100" font-weight="bold" fill="#1a1ae6" stroke="#1a1ae6" stroke-width="5.9" stroke-linejoin="round">C</text>
<text transform="translate(34.81,427.29) scale(0.0606,0.0422) translate(0,-1)" font-size="100" font-weight="bold" fill="#f5a31a" stroke="#f5a31a" stroke-width="6.4" stroke-linejoin="round">G</text>
<text transform="translate(34.81,424.03) scale(0.0775,0.0443) translate(0,0)" font-size="100" font-weight="bold" fill="#e8202a" stroke="#e8202a" stroke-width="5.0" stroke-linejoin="round">T</text>
<text transform="translate(34.81,420.72) scale(0.0657,0.0425) translate(0,-1)" font-size="100" font-weight="bold" fill="#1a1ae6" stroke="#1a1ae6" stroke-width="5.9" stroke-linejoin="round">C</text>
<text transform="translate(40.26,427.36) scale(0.0775,0.0295) translate(0,0)" font-size="100" font-weight="bold" fill="#e8202a" stroke="#e8202a" stroke-width="5.0" stroke-linejoin="round">T</text>
<text transform="translate(40.26,425.11) scale(0.0657,0.0436) translate(0,0)" font-size="100" font-weight="bold" fill="#2aa832" stroke="#2aa832" stroke-width="5.9" stroke-linejoin="round">A</text>
<text transform="translate(40.26,421.78) scale(0.0606,0.0492) translate(0,-1)" font-size="100" font-weight="bold" fill="#f5a31a" stroke="#f5a31a" stroke-width="6.4" stroke-linejoin="round">G</text>
<text transform="translate(45.71,427.36) scale(0.0775,0.0295) translate(0,0)" font-size="100" font-weight="bold" fill="#e8202a" stroke="#e8202a" stroke-width="5.0" stroke-linejoin="round">T</text>
<text transform="translate(45.71,425.11) scale(0.0657,0.0425) translate(0,-1)" font-size="100" font-weight="bold" fill="#1a1ae6" stroke="#1a1ae6" stroke-width="5.9" stroke-linejoin="round">C</text>
<text transform="translate(45.71,421.78) scale(0.0606,0.0492) translate(0,-1)" font-size="100" font-weight="bold" fill="#f5a31a" stroke="#f5a31a" stroke-width="6.4" stroke-linejoin="round">G</text>
<text transform="translate(51.16,427.32) scale(0.0775,0.0443) translate(0,0)" font-size="100" font-weight="bold" fill="#e8202a" stroke="#e8202a" stroke-width="5.0" stroke-linejoin="round">T</text>
<text transform="translate(51.16,423.88) scale(0.0657,0.0850) translate(0,-1)" font-size="100" font-weight="bold" fill="#1a1ae6" stroke="#1a1ae6" stroke-width="5.9" stroke-linejoin="round">C</text>
<text transform="translate(56.61,426.95) scale(0.0606,0.1407) translate(0,-1)" font-size="100" font-weight="bold" fill="#f5a31a" stroke="#f5a31a" stroke-width="6.4" stroke-linejoin="round">G</text>
<text transform="translate(62.06,426.99) scale(0.0657,0.1417) translate(0,-1)" font-size="100" font-weight="bold" fill="#1a1ae6" stroke="#1a1ae6" stroke-width="5.9" stroke-linejoin="round">C</text>
<text transform="translate(67.51,426.99) scale(0.0657,0.1417) translate(0,-1)" font-size="100" font-weight="bold" fill="#1a1ae6" stroke="#1a1ae6" stroke-width="5.9" stroke-linejoin="round">C</text>
<text transform="translate(72.96,427.40) scale(0.0775,0.0148) translate(0,0)" font-size="100" font-weight="bold" fill="#e8202a" stroke="#e8202a" stroke-width="5.0" stroke-linejoin="round">T</text>
<text transform="translate(72.96,425.98) scale(0.0657,0.1134) translate(0,-1)" font-size="100" font-weight="bold" fill="#1a1ae6" stroke="#1a1ae6" stroke-width="5.9" stroke-linejoin="round">C</text>
<text transform="translate(78.41,427.30) scale(0.0657,0.0436) translate(0,0)" font-size="100" font-weight="bold" fill="#2aa832" stroke="#2aa832" stroke-width="5.9" stroke-linejoin="round">A</text>
<text transform="translate(78.41,423.88) scale(0.0657,0.0850) translate(0,-1)" font-size="100" font-weight="bold" fill="#1a1ae6" stroke="#1a1ae6" stroke-width="5.9" stroke-linejoin="round">C</text>
<text transform="translate(83.86,426.99) scale(0.0657,0.1417) translate(0,-1)" font-size="100" font-weight="bold" fill="#1a1ae6" stroke="#1a1ae6" stroke-width="5.9" stroke-linejoin="round">C</text>
<text transform="translate(89.31,427.04) scale(0.0775,0.1475) translate(0,0)" font-size="100" font-weight="bold" fill="#e8202a" stroke="#e8202a" stroke-width="5.0" stroke-linejoin="round">T</text>
<text transform="translate(94.76,427.35) scale(0.0657,0.0283) translate(0,-1)" font-size="100" font-weight="bold" fill="#1a1ae6" stroke="#1a1ae6" stroke-width="5.9" stroke-linejoin="round">C</text>
<text transform="translate(94.76,425.11) scale(0.0657,0.0436) translate(0,0)" font-size="100" font-weight="bold" fill="#2aa832" stroke="#2aa832" stroke-width="5.9" stroke-linejoin="round">A</text>
<text transform="translate(94.76,421.76) scale(0.0606,0.0563) translate(0,-1)" font-size="100" font-weight="bold" fill="#f5a31a" stroke="#f5a31a" stroke-width="6.4" stroke-linejoin="round">G</text>
<text transform="translate(100.21,427.30) scale(0.0657,0.0425) translate(0,-1)" font-size="100" font-weight="bold" fill="#1a1ae6" stroke="#1a1ae6" stroke-width="5.9" stroke-linejoin="round">C</text>
<text transform="translate(100.21,423.95) scale(0.0606,0.0563) translate(0,-1)" font-size="100" font-weight="bold" fill="#f5a31a" stroke="#f5a31a" stroke-width="6.4" stroke-linejoin="round">G</text>
<text transform="translate(105.66,427.04) scale(0.0775,0.1475) translate(0,0)" font-size="100" font-weight="bold" fill="#e8202a" stroke="#e8202a" stroke-width="5.0" stroke-linejoin="round">T</text>
<text transform="translate(111.11,426.95) scale(0.0606,0.1407) translate(0,-1)" font-size="100" font-weight="bold" fill="#f5a31a" stroke="#f5a31a" stroke-width="6.4" stroke-linejoin="round">G</text>
<text transform="translate(116.56,426.95) scale(0.0606,0.1407) translate(0,-1)" font-size="100" font-weight="bold" fill="#f5a31a" stroke="#f5a31a" stroke-width="6.4" stroke-linejoin="round">G</text>
<text transform="translate(122.01,427.35) scale(0.0657,0.0291) translate(0,0)" font-size="100" font-weight="bold" fill="#2aa832" stroke="#2aa832" stroke-width="5.9" stroke-linejoin="round">A</text>
<text transform="translate(122.01,425.17) scale(0.0775,0.0295) translate(0,0)" font-size="100" font-weight="bold" fill="#e8202a" stroke="#e8202a" stroke-width="5.0" stroke-linejoin="round">T</text>
<text transform="translate(122.01,422.83) scale(0.0657,0.0709) translate(0,-1)" font-size="100" font-weight="bold" fill="#1a1ae6" stroke="#1a1ae6" stroke-width="5.9" stroke-linejoin="round">C</text>
<text x="153.90" y="423.11" font-size="3.6" font-weight="bold" text-anchor="middle" fill="#2a2a2a" stroke="#2a2a2a" stroke-width="0.08" >BORIS(Zf)</text>
<text x="182.10" y="423.11" font-size="3.65" font-weight="bold" text-anchor="middle" fill="#2a2a2a" stroke="#2a2a2a" stroke-width="0.08" >-5.473e3</text>
<text x="208.15" y="423.11" font-size="3.75" font-weight="bold" text-anchor="middle" fill="#2a2a2a" stroke="#2a2a2a" stroke-width="0.08" >11.30%</text>
<text x="11.90" y="435.68" font-size="3.6" font-weight="bold" text-anchor="middle" fill="#2a2a2a" stroke="#2a2a2a" stroke-width="0.12" >3</text>
<text transform="translate(18.46,439.92) scale(0.0692,0.0285) translate(0,-1)" font-size="100" font-weight="bold" fill="#1a1ae6" stroke="#1a1ae6" stroke-width="5.6" stroke-linejoin="round">C</text>
<text transform="translate(18.46,437.73) scale(0.0692,0.0292) translate(0,0)" font-size="100" font-weight="bold" fill="#2aa832" stroke="#2aa832" stroke-width="5.6" stroke-linejoin="round">A</text>
<text transform="translate(18.46,435.51) scale(0.0816,0.0444) translate(0,0)" font-size="100" font-weight="bold" fill="#e8202a" stroke="#e8202a" stroke-width="4.7" stroke-linejoin="round">T</text>
<text transform="translate(18.46,432.19) scale(0.0638,0.0424) translate(0,-1)" font-size="100" font-weight="bold" fill="#f5a31a" stroke="#f5a31a" stroke-width="6.1" stroke-linejoin="round">G</text>
<text transform="translate(24.16,439.88) scale(0.0692,0.0427) translate(0,-1)" font-size="100" font-weight="bold" fill="#1a1ae6" stroke="#1a1ae6" stroke-width="5.6" stroke-linejoin="round">C</text>
<text transform="translate(24.16,436.59) scale(0.0692,0.0438) translate(0,0)" font-size="100" font-weight="bold" fill="#2aa832" stroke="#2aa832" stroke-width="5.6" stroke-linejoin="round">A</text>
<text transform="translate(24.16,433.31) scale(0.0816,0.0444) translate(0,0)" font-size="100" font-weight="bold" fill="#e8202a" stroke="#e8202a" stroke-width="4.7" stroke-linejoin="round">T</text>
<text transform="translate(29.86,439.92) scale(0.0692,0.0285) translate(0,-1)" font-size="100" font-weight="bold" fill="#1a1ae6" stroke="#1a1ae6" stroke-width="5.6" stroke-linejoin="round">C</text>
<text transform="translate(29.86,437.65) scale(0.0638,0.0495) translate(0,-1)" font-size="100" font-weight="bold" fill="#f5a31a" stroke="#f5a31a" stroke-width="6.1" stroke-linejoin="round">G</text>
<text transform="translate(29.86,433.82) scale(0.0692,0.0511) translate(0,0)" font-size="100" font-weight="bold" fill="#2aa832" stroke="#2aa832" stroke-width="5.6" stroke-linejoin="round">A</text>
<text transform="translate(35.56,439.88) scale(0.0692,0.0438) translate(0,0)" font-size="100" font-weight="bold" fill="#2aa832" stroke="#2aa832" stroke-width="5.6" stroke-linejoin="round">A</text>
<text transform="translate(35.56,436.50) scale(0.0692,0.0712) translate(0,-1)" font-size="100" font-weight="bold" fill="#1a1ae6" stroke="#1a1ae6" stroke-width="5.6" stroke-linejoin="round">C</text>
<text transform="translate(41.26,439.58) scale(0.0692,0.1423) translate(0,-1)" font-size="100" font-weight="bold" fill="#1a1ae6" stroke="#1a1ae6" stroke-width="5.6" stroke-linejoin="round">C</text>
<text transform="translate(46.96,439.56) scale(0.0692,0.1461) translate(0,0)" font-size="100" font-weight="bold" fill="#2aa832" stroke="#2aa832" stroke-width="5.6" stroke-linejoin="round">A</text>
<text transform="translate(52.66,439.86) scale(0.0816,0.0592) translate(0,0)" font-size="100" font-weight="bold" fill="#e8202a" stroke="#e8202a" stroke-width="4.7" stroke-linejoin="round">T</text>
<text transform="translate(52.66,435.39) scale(0.0638,0.0707) translate(0,-1)" font-size="100" font-weight="bold" fill="#f5a31a" stroke="#f5a31a" stroke-width="6.1" stroke-linejoin="round">G</text>
<text transform="translate(58.36,439.86) scale(0.0816,0.0592) translate(0,0)" font-size="100" font-weight="bold" fill="#e8202a" stroke="#e8202a" stroke-width="4.7" stroke-linejoin="round">T</text>
<text transform="translate(58.36,435.41) scale(0.0692,0.0712) translate(0,-1)" font-size="100" font-weight="bold" fill="#1a1ae6" stroke="#1a1ae6" stroke-width="5.6" stroke-linejoin="round">C</text>
<text transform="translate(64.06,439.63) scale(0.0816,0.1481) translate(0,0)" font-size="100" font-weight="bold" fill="#e8202a" stroke="#e8202a" stroke-width="4.7" stroke-linejoin="round">T</text>
<text transform="translate(69.76,439.54) scale(0.0638,0.1413) translate(0,-1)" font-size="100" font-weight="bold" fill="#f5a31a" stroke="#f5a31a" stroke-width="6.1" stroke-linejoin="round">G</text>
<text transform="translate(75.46,439.93) scale(0.0816,0.0296) translate(0,0)" font-size="100" font-weight="bold" fill="#e8202a" stroke="#e8202a" stroke-width="4.7" stroke-linejoin="round">T</text>
<text transform="translate(75.46,437.66) scale(0.0692,0.0498) translate(0,-1)" font-size="100" font-weight="bold" fill="#1a1ae6" stroke="#1a1ae6" stroke-width="5.6" stroke-linejoin="round">C</text>
<text transform="translate(75.46,433.81) scale(0.0638,0.0495) translate(0,-1)" font-size="100" font-weight="bold" fill="#f5a31a" stroke="#f5a31a" stroke-width="6.1" stroke-linejoin="round">G</text>
<text transform="translate(81.16,439.86) scale(0.0816,0.0592) translate(0,0)" font-size="100" font-weight="bold" fill="#e8202a" stroke="#e8202a" stroke-width="4.7" stroke-linejoin="round">T</text>
<text transform="translate(81.16,435.41) scale(0.0692,0.0712) translate(0,-1)" font-size="100" font-weight="bold" fill="#1a1ae6" stroke="#1a1ae6" stroke-width="5.6" stroke-linejoin="round">C</text>
<text x="153.90" y="435.68" font-size="3.6" font-weight="bold" text-anchor="middle" fill="#2a2a2a" stroke="#2a2a2a" stroke-width="0.08" >Atoh1(bHLH)</text>
<text x="182.10" y="435.68" font-size="3.65" font-weight="bold" text-anchor="middle" fill="#2a2a2a" stroke="#2a2a2a" stroke-width="0.08" >-4.870e3</text>
<text x="208.15" y="435.68" font-size="3.75" font-weight="bold" text-anchor="middle" fill="#2a2a2a" stroke="#2a2a2a" stroke-width="0.08" >32.40%</text>
<text x="11.90" y="448.25" font-size="3.6" font-weight="bold" text-anchor="middle" fill="#2a2a2a" stroke="#2a2a2a" stroke-width="0.12" >4</text>
<text transform="translate(18.46,452.41) scale(0.0706,0.0585) translate(0,0)" font-size="100" font-weight="bold" fill="#2aa832" stroke="#2aa832" stroke-width="5.5" stroke-linejoin="round">A</text>
<text transform="translate(18.46,448.01) scale(0.0651,0.0566) translate(0,-1)" font-size="100" font-weight="bold" fill="#f5a31a" stroke="#f5a31a" stroke-width="6.0" stroke-linejoin="round">G</text>
<text transform="translate(24.26,452.16) scale(0.0706,0.1425) translate(0,-1)" font-size="100" font-weight="bold" fill="#1a1ae6" stroke="#1a1ae6" stroke-width="5.5" stroke-linejoin="round">C</text>
<text transform="translate(30.06,452.16) scale(0.0706,0.1425) translate(0,-1)" font-size="100" font-weight="bold" fill="#1a1ae6" stroke="#1a1ae6" stroke-width="5.5" stroke-linejoin="round">C</text>
<text transform="translate(35.86,452.14) scale(0.0706,0.1463) translate(0,0)" font-size="100" font-weight="bold" fill="#2aa832" stroke="#2aa832" stroke-width="5.5" stroke-linejoin="round">A</text>
<text transform="translate(41.66,452.49) scale(0.0651,0.0283) translate(0,-1)" font-size="100" font-weight="bold" fill="#f5a31a" stroke="#f5a31a" stroke-width="6.0" stroke-linejoin="round">G</text>
<text transform="translate(41.66,450.13) scale(0.0833,0.1038) translate(0,0)" font-size="100" font-weight="bold" fill="#e8202a" stroke="#e8202a" stroke-width="4.7" stroke-linejoin="round">T</text>
<text transform="translate(47.46,452.16) scale(0.0706,0.1425) translate(0,-1)" font-size="100" font-weight="bold" fill="#1a1ae6" stroke="#1a1ae6" stroke-width="5.5" stroke-linejoin="round">C</text>
<text transform="translate(53.26,452.21) scale(0.0833,0.1483) translate(0,0)" font-size="100" font-weight="bold" fill="#e8202a" stroke="#e8202a" stroke-width="4.7" stroke-linejoin="round">T</text>
<text transform="translate(59.06,452.12) scale(0.0651,0.1415) translate(0,-1)" font-size="100" font-weight="bold" fill="#f5a31a" stroke="#f5a31a" stroke-width="6.0" stroke-linejoin="round">G</text>
<text transform="translate(64.86,452.41) scale(0.0706,0.0570) translate(0,-1)" font-size="100" font-weight="bold" fill="#1a1ae6" stroke="#1a1ae6" stroke-width="5.5" stroke-linejoin="round">C</text>
<text transform="translate(64.86,448.03) scale(0.0833,0.0667) translate(0,0)" font-size="100" font-weight="bold" fill="#e8202a" stroke="#e8202a" stroke-width="4.7" stroke-linejoin="round">T</text>
<text transform="translate(70.66,452.41) scale(0.0706,0.0570) translate(0,-1)" font-size="100" font-weight="bold" fill="#1a1ae6" stroke="#1a1ae6" stroke-width="5.5" stroke-linejoin="round">C</text>
<text transform="translate(70.66,448.03) scale(0.0833,0.0667) translate(0,0)" font-size="100" font-weight="bold" fill="#e8202a" stroke="#e8202a" stroke-width="4.7" stroke-linejoin="round">T</text>
<text x="153.90" y="448.25" font-size="3.6" font-weight="bold" text-anchor="middle" fill="#2a2a2a" stroke="#2a2a2a" stroke-width="0.08" >NeuroD1(bHLH)</text>
<text x="182.10" y="448.25" font-size="3.65" font-weight="bold" text-anchor="middle" fill="#2a2a2a" stroke="#2a2a2a" stroke-width="0.08" >-4.681e3</text>
<text x="208.15" y="448.25" font-size="3.75" font-weight="bold" text-anchor="middle" fill="#2a2a2a" stroke="#2a2a2a" stroke-width="0.08" >25.66%</text>
<text x="11.90" y="460.81" font-size="3.6" font-weight="bold" text-anchor="middle" fill="#2a2a2a" stroke="#2a2a2a" stroke-width="0.12" >5</text>
<text transform="translate(18.46,465.08) scale(0.0825,0.0296) translate(0,0)" font-size="100" font-weight="bold" fill="#e8202a" stroke="#e8202a" stroke-width="4.7" stroke-linejoin="round">T</text>
<text transform="translate(18.46,462.82) scale(0.0699,0.0439) translate(0,0)" font-size="100" font-weight="bold" fill="#2aa832" stroke="#2aa832" stroke-width="5.5" stroke-linejoin="round">A</text>
<text transform="translate(18.46,459.53) scale(0.0645,0.0424) translate(0,-1)" font-size="100" font-weight="bold" fill="#f5a31a" stroke="#f5a31a" stroke-width="6.0" stroke-linejoin="round">G</text>
<text transform="translate(24.21,465.06) scale(0.0699,0.0285) translate(0,-1)" font-size="100" font-weight="bold" fill="#1a1ae6" stroke="#1a1ae6" stroke-width="5.5" stroke-linejoin="round">C</text>
<text transform="translate(24.21,462.82) scale(0.0699,0.0439) translate(0,0)" font-size="100" font-weight="bold" fill="#2aa832" stroke="#2aa832" stroke-width="5.5" stroke-linejoin="round">A</text>
<text transform="translate(24.21,459.53) scale(0.0645,0.0424) translate(0,-1)" font-size="100" font-weight="bold" fill="#f5a31a" stroke="#f5a31a" stroke-width="6.0" stroke-linejoin="round">G</text>
<text transform="translate(29.96,465.04) scale(0.0825,0.0444) translate(0,0)" font-size="100" font-weight="bold" fill="#e8202a" stroke="#e8202a" stroke-width="4.7" stroke-linejoin="round">T</text>
<text transform="translate(29.96,461.67) scale(0.0699,0.0641) translate(0,-1)" font-size="100" font-weight="bold" fill="#1a1ae6" stroke="#1a1ae6" stroke-width="5.5" stroke-linejoin="round">C</text>
<text transform="translate(35.71,464.78) scale(0.0825,0.1482) translate(0,0)" font-size="100" font-weight="bold" fill="#e8202a" stroke="#e8202a" stroke-width="4.7" stroke-linejoin="round">T</text>
<text transform="translate(41.46,464.71) scale(0.0699,0.1462) translate(0,0)" font-size="100" font-weight="bold" fill="#2aa832" stroke="#2aa832" stroke-width="5.5" stroke-linejoin="round">A</text>
<text transform="translate(47.21,464.71) scale(0.0699,0.1462) translate(0,0)" font-size="100" font-weight="bold" fill="#2aa832" stroke="#2aa832" stroke-width="5.5" stroke-linejoin="round">A</text>
<text transform="translate(52.96,464.78) scale(0.0825,0.1482) translate(0,0)" font-size="100" font-weight="bold" fill="#e8202a" stroke="#e8202a" stroke-width="4.7" stroke-linejoin="round">T</text>
<text transform="translate(58.71,465.06) scale(0.0699,0.0292) translate(0,0)" font-size="100" font-weight="bold" fill="#2aa832" stroke="#2aa832" stroke-width="5.5" stroke-linejoin="round">A</text>
<text transform="translate(58.71,462.69) scale(0.0825,0.1037) translate(0,0)" font-size="100" font-weight="bold" fill="#e8202a" stroke="#e8202a" stroke-width="4.7" stroke-linejoin="round">T</text>
<text transform="translate(64.46,464.71) scale(0.0699,0.1462) translate(0,0)" font-size="100" font-weight="bold" fill="#2aa832" stroke="#2aa832" stroke-width="5.5" stroke-linejoin="round">A</text>
<text transform="translate(70.21,465.06) scale(0.0699,0.0292) translate(0,0)" font-size="100" font-weight="bold" fill="#2aa832" stroke="#2aa832" stroke-width="5.5" stroke-linejoin="round">A</text>
<text transform="translate(70.21,462.83) scale(0.0699,0.0427) translate(0,-1)" font-size="100" font-weight="bold" fill="#1a1ae6" stroke="#1a1ae6" stroke-width="5.5" stroke-linejoin="round">C</text>
<text transform="translate(70.21,459.48) scale(0.0645,0.0566) translate(0,-1)" font-size="100" font-weight="bold" fill="#f5a31a" stroke="#f5a31a" stroke-width="6.0" stroke-linejoin="round">G</text>
<text x="153.90" y="460.81" font-size="3.6" font-weight="bold" text-anchor="middle" fill="#2a2a2a" stroke="#2a2a2a" stroke-width="0.08" >Lhx1(Homeobox)</text>
<text x="182.10" y="460.81" font-size="3.65" font-weight="bold" text-anchor="middle" fill="#2a2a2a" stroke="#2a2a2a" stroke-width="0.08" >-4.648e3</text>
<text x="208.15" y="460.81" font-size="3.75" font-weight="bold" text-anchor="middle" fill="#2a2a2a" stroke="#2a2a2a" stroke-width="0.08" >50.21%</text>
<text x="11.90" y="473.39" font-size="3.6" font-weight="bold" text-anchor="middle" fill="#2a2a2a" stroke="#2a2a2a" stroke-width="0.12" >6</text>
<text transform="translate(18.46,477.34) scale(0.0816,0.1481) translate(0,0)" font-size="100" font-weight="bold" fill="#e8202a" stroke="#e8202a" stroke-width="4.7" stroke-linejoin="round">T</text>
<text transform="translate(24.16,477.27) scale(0.0692,0.1461) translate(0,0)" font-size="100" font-weight="bold" fill="#2aa832" stroke="#2aa832" stroke-width="5.6" stroke-linejoin="round">A</text>
<text transform="translate(29.86,477.27) scale(0.0692,0.1461) translate(0,0)" font-size="100" font-weight="bold" fill="#2aa832" stroke="#2aa832" stroke-width="5.6" stroke-linejoin="round">A</text>
<text transform="translate(35.56,477.34) scale(0.0816,0.1481) translate(0,0)" font-size="100" font-weight="bold" fill="#e8202a" stroke="#e8202a" stroke-width="4.7" stroke-linejoin="round">T</text>
<text transform="translate(41.26,477.34) scale(0.0816,0.1481) translate(0,0)" font-size="100" font-weight="bold" fill="#e8202a" stroke="#e8202a" stroke-width="4.7" stroke-linejoin="round">T</text>
<text transform="translate(46.96,477.27) scale(0.0692,0.1461) translate(0,0)" font-size="100" font-weight="bold" fill="#2aa832" stroke="#2aa832" stroke-width="5.6" stroke-linejoin="round">A</text>
<text transform="translate(52.66,477.56) scale(0.0692,0.0511) translate(0,0)" font-size="100" font-weight="bold" fill="#2aa832" stroke="#2aa832" stroke-width="5.6" stroke-linejoin="round">A</text>
<text transform="translate(52.66,473.67) scale(0.0638,0.0636) translate(0,-1)" font-size="100" font-weight="bold" fill="#f5a31a" stroke="#f5a31a" stroke-width="6.1" stroke-linejoin="round">G</text>
<text transform="translate(58.36,477.56) scale(0.0692,0.0511) translate(0,0)" font-size="100" font-weight="bold" fill="#2aa832" stroke="#2aa832" stroke-width="5.6" stroke-linejoin="round">A</text>
<text transform="translate(58.36,473.69) scale(0.0692,0.0640) translate(0,-1)" font-size="100" font-weight="bold" fill="#1a1ae6" stroke="#1a1ae6" stroke-width="5.6" stroke-linejoin="round">C</text>
<text x="153.90" y="473.39" font-size="3.6" font-weight="bold" text-anchor="middle" fill="#2a2a2a" stroke="#2a2a2a" stroke-width="0.08" >Lhx3(Homeobox)</text>
<text x="182.10" y="473.39" font-size="3.65" font-weight="bold" text-anchor="middle" fill="#2a2a2a" stroke="#2a2a2a" stroke-width="0.08" >-4.347e3</text>
<text x="208.15" y="473.39" font-size="3.75" font-weight="bold" text-anchor="middle" fill="#2a2a2a" stroke="#2a2a2a" stroke-width="0.08" >34.20%</text>
<text x="11.90" y="485.96" font-size="3.6" font-weight="bold" text-anchor="middle" fill="#2a2a2a" stroke="#2a2a2a" stroke-width="0.12" >7</text>
<text transform="translate(18.46,490.22) scale(0.0866,0.0297) translate(0,0)" font-size="100" font-weight="bold" fill="#e8202a" stroke="#e8202a" stroke-width="4.5" stroke-linejoin="round">T</text>
<text transform="translate(18.46,487.98) scale(0.0677,0.0355) translate(0,-1)" font-size="100" font-weight="bold" fill="#f5a31a" stroke="#f5a31a" stroke-width="5.7" stroke-linejoin="round">G</text>
<text transform="translate(18.46,485.25) scale(0.0733,0.0357) translate(0,-1)" font-size="100" font-weight="bold" fill="#1a1ae6" stroke="#1a1ae6" stroke-width="5.3" stroke-linejoin="round">C</text>
<text transform="translate(18.46,482.51) scale(0.0733,0.0367) translate(0,0)" font-size="100" font-weight="bold" fill="#2aa832" stroke="#2aa832" stroke-width="5.3" stroke-linejoin="round">A</text>
<text transform="translate(24.46,490.18) scale(0.0677,0.0355) translate(0,-1)" font-size="100" font-weight="bold" fill="#f5a31a" stroke="#f5a31a" stroke-width="5.7" stroke-linejoin="round">G</text>
<text transform="translate(24.46,487.45) scale(0.0733,0.0357) translate(0,-1)" font-size="100" font-weight="bold" fill="#1a1ae6" stroke="#1a1ae6" stroke-width="5.3" stroke-linejoin="round">C</text>
<text transform="translate(24.46,484.68) scale(0.0733,0.0440) translate(0,0)" font-size="100" font-weight="bold" fill="#2aa832" stroke="#2aa832" stroke-width="5.3" stroke-linejoin="round">A</text>
<text transform="translate(30.46,490.12) scale(0.0733,0.0587) translate(0,0)" font-size="100" font-weight="bold" fill="#2aa832" stroke="#2aa832" stroke-width="5.3" stroke-linejoin="round">A</text>
<text transform="translate(30.46,485.70) scale(0.0733,0.0715) translate(0,-1)" font-size="100" font-weight="bold" fill="#1a1ae6" stroke="#1a1ae6" stroke-width="5.3" stroke-linejoin="round">C</text>
<text transform="translate(36.46,489.88) scale(0.0733,0.1430) translate(0,-1)" font-size="100" font-weight="bold" fill="#1a1ae6" stroke="#1a1ae6" stroke-width="5.3" stroke-linejoin="round">C</text>
<text transform="translate(42.46,489.87) scale(0.0733,0.1468) translate(0,0)" font-size="100" font-weight="bold" fill="#2aa832" stroke="#2aa832" stroke-width="5.3" stroke-linejoin="round">A</text>
<text transform="translate(48.46,490.15) scale(0.0866,0.0595) translate(0,0)" font-size="100" font-weight="bold" fill="#e8202a" stroke="#e8202a" stroke-width="4.5" stroke-linejoin="round">T</text>
<text transform="translate(48.46,485.68) scale(0.0677,0.0710) translate(0,-1)" font-size="100" font-weight="bold" fill="#f5a31a" stroke="#f5a31a" stroke-width="5.7" stroke-linejoin="round">G</text>
<text transform="translate(54.46,490.16) scale(0.0733,0.0440) translate(0,0)" font-size="100" font-weight="bold" fill="#2aa832" stroke="#2aa832" stroke-width="5.3" stroke-linejoin="round">A</text>
<text transform="translate(54.46,486.75) scale(0.0733,0.0858) translate(0,-1)" font-size="100" font-weight="bold" fill="#1a1ae6" stroke="#1a1ae6" stroke-width="5.3" stroke-linejoin="round">C</text>
<text transform="translate(60.46,489.93) scale(0.0866,0.1486) translate(0,0)" font-size="100" font-weight="bold" fill="#e8202a" stroke="#e8202a" stroke-width="4.5" stroke-linejoin="round">T</text>
<text transform="translate(66.46,489.85) scale(0.0677,0.1420) translate(0,-1)" font-size="100" font-weight="bold" fill="#f5a31a" stroke="#f5a31a" stroke-width="5.7" stroke-linejoin="round">G</text>
<text transform="translate(72.46,490.15) scale(0.0866,0.0595) translate(0,0)" font-size="100" font-weight="bold" fill="#e8202a" stroke="#e8202a" stroke-width="4.5" stroke-linejoin="round">T</text>
<text transform="translate(72.46,485.70) scale(0.0677,0.0639) translate(0,-1)" font-size="100" font-weight="bold" fill="#f5a31a" stroke="#f5a31a" stroke-width="5.7" stroke-linejoin="round">G</text>
<text x="153.90" y="485.96" font-size="3.6" font-weight="bold" text-anchor="middle" fill="#2a2a2a" stroke="#2a2a2a" stroke-width="0.08" >bHLHA15(bHLH)</text>
<text x="182.10" y="485.96" font-size="3.65" font-weight="bold" text-anchor="middle" fill="#2a2a2a" stroke="#2a2a2a" stroke-width="0.08" >-4.144e3</text>
<text x="208.15" y="485.96" font-size="3.75" font-weight="bold" text-anchor="middle" fill="#2a2a2a" stroke="#2a2a2a" stroke-width="0.08" >37.38%</text>
<text x="11.90" y="498.53" font-size="3.6" font-weight="bold" text-anchor="middle" fill="#2a2a2a" stroke="#2a2a2a" stroke-width="0.12" >8</text>
<text transform="translate(18.46,502.75) scale(0.0699,0.0366) translate(0,0)" font-size="100" font-weight="bold" fill="#2aa832" stroke="#2aa832" stroke-width="5.5" stroke-linejoin="round">A</text>
<text transform="translate(18.46,500.00) scale(0.0645,0.0354) translate(0,-1)" font-size="100" font-weight="bold" fill="#f5a31a" stroke="#f5a31a" stroke-width="6.0" stroke-linejoin="round">G</text>
<text transform="translate(18.46,497.22) scale(0.0699,0.0499) translate(0,-1)" font-size="100" font-weight="bold" fill="#1a1ae6" stroke="#1a1ae6" stroke-width="5.5" stroke-linejoin="round">C</text>
<text transform="translate(24.21,502.75) scale(0.0699,0.0366) translate(0,0)" font-size="100" font-weight="bold" fill="#2aa832" stroke="#2aa832" stroke-width="5.5" stroke-linejoin="round">A</text>
<text transform="translate(24.21,500.01) scale(0.0699,0.0356) translate(0,-1)" font-size="100" font-weight="bold" fill="#1a1ae6" stroke="#1a1ae6" stroke-width="5.5" stroke-linejoin="round">C</text>
<text transform="translate(24.21,497.24) scale(0.0645,0.0424) translate(0,-1)" font-size="100" font-weight="bold" fill="#f5a31a" stroke="#f5a31a" stroke-width="6.0" stroke-linejoin="round">G</text>
<text transform="translate(29.96,502.79) scale(0.0825,0.0296) translate(0,0)" font-size="100" font-weight="bold" fill="#e8202a" stroke="#e8202a" stroke-width="4.7" stroke-linejoin="round">T</text>
<text transform="translate(29.96,500.37) scale(0.0699,0.0997) translate(0,-1)" font-size="100" font-weight="bold" fill="#1a1ae6" stroke="#1a1ae6" stroke-width="5.5" stroke-linejoin="round">C</text>
<text transform="translate(35.71,502.49) scale(0.0825,0.1482) translate(0,0)" font-size="100" font-weight="bold" fill="#e8202a" stroke="#e8202a" stroke-width="4.7" stroke-linejoin="round">T</text>
<text transform="translate(41.46,502.42) scale(0.0699,0.1462) translate(0,0)" font-size="100" font-weight="bold" fill="#2aa832" stroke="#2aa832" stroke-width="5.5" stroke-linejoin="round">A</text>
<text transform="translate(47.21,502.42) scale(0.0699,0.1462) translate(0,0)" font-size="100" font-weight="bold" fill="#2aa832" stroke="#2aa832" stroke-width="5.5" stroke-linejoin="round">A</text>
<text transform="translate(52.96,502.49) scale(0.0825,0.1482) translate(0,0)" font-size="100" font-weight="bold" fill="#e8202a" stroke="#e8202a" stroke-width="4.7" stroke-linejoin="round">T</text>
<text transform="translate(58.71,502.77) scale(0.0699,0.0292) translate(0,0)" font-size="100" font-weight="bold" fill="#2aa832" stroke="#2aa832" stroke-width="5.5" stroke-linejoin="round">A</text>
<text transform="translate(58.71,500.40) scale(0.0825,0.1037) translate(0,0)" font-size="100" font-weight="bold" fill="#e8202a" stroke="#e8202a" stroke-width="4.7" stroke-linejoin="round">T</text>
<text transform="translate(64.46,502.77) scale(0.0645,0.0283) translate(0,-1)" font-size="100" font-weight="bold" fill="#f5a31a" stroke="#f5a31a" stroke-width="6.0" stroke-linejoin="round">G</text>
<text transform="translate(64.46,500.40) scale(0.0699,0.0877) translate(0,0)" font-size="100" font-weight="bold" fill="#2aa832" stroke="#2aa832" stroke-width="5.5" stroke-linejoin="round">A</text>
<text transform="translate(70.21,502.77) scale(0.0699,0.0285) translate(0,-1)" font-size="100" font-weight="bold" fill="#1a1ae6" stroke="#1a1ae6" stroke-width="5.5" stroke-linejoin="round">C</text>
<text transform="translate(70.21,500.58) scale(0.0699,0.0292) translate(0,0)" font-size="100" font-weight="bold" fill="#2aa832" stroke="#2aa832" stroke-width="5.5" stroke-linejoin="round">A</text>
<text transform="translate(70.21,498.24) scale(0.0645,0.0707) translate(0,-1)" font-size="100" font-weight="bold" fill="#f5a31a" stroke="#f5a31a" stroke-width="6.0" stroke-linejoin="round">G</text>
<text x="153.90" y="498.53" font-size="3.6" font-weight="bold" text-anchor="middle" fill="#2a2a2a" stroke="#2a2a2a" stroke-width="0.08" >LHX9(Homeobox)</text>
<text x="182.10" y="498.53" font-size="3.65" font-weight="bold" text-anchor="middle" fill="#2a2a2a" stroke="#2a2a2a" stroke-width="0.08" >-4.123e3</text>
<text x="208.15" y="498.53" font-size="3.75" font-weight="bold" text-anchor="middle" fill="#2a2a2a" stroke="#2a2a2a" stroke-width="0.08" >40.90%</text>
<text x="11.90" y="511.10" font-size="3.6" font-weight="bold" text-anchor="middle" fill="#2a2a2a" stroke="#2a2a2a" stroke-width="0.12" >9</text>
<text transform="translate(18.46,515.24) scale(0.0638,0.0565) translate(0,-1)" font-size="100" font-weight="bold" fill="#f5a31a" stroke="#f5a31a" stroke-width="6.1" stroke-linejoin="round">G</text>
<text transform="translate(18.46,510.86) scale(0.0692,0.0584) translate(0,0)" font-size="100" font-weight="bold" fill="#2aa832" stroke="#2aa832" stroke-width="5.6" stroke-linejoin="round">A</text>
<text transform="translate(24.16,515.00) scale(0.0692,0.1423) translate(0,-1)" font-size="100" font-weight="bold" fill="#1a1ae6" stroke="#1a1ae6" stroke-width="5.6" stroke-linejoin="round">C</text>
<text transform="translate(29.86,515.00) scale(0.0692,0.1423) translate(0,-1)" font-size="100" font-weight="bold" fill="#1a1ae6" stroke="#1a1ae6" stroke-width="5.6" stroke-linejoin="round">C</text>
<text transform="translate(35.56,514.98) scale(0.0692,0.1461) translate(0,0)" font-size="100" font-weight="bold" fill="#2aa832" stroke="#2aa832" stroke-width="5.6" stroke-linejoin="round">A</text>
<text transform="translate(41.26,515.34) scale(0.0638,0.0283) translate(0,-1)" font-size="100" font-weight="bold" fill="#f5a31a" stroke="#f5a31a" stroke-width="6.1" stroke-linejoin="round">G</text>
<text transform="translate(41.26,512.97) scale(0.0816,0.1036) translate(0,0)" font-size="100" font-weight="bold" fill="#e8202a" stroke="#e8202a" stroke-width="4.7" stroke-linejoin="round">T</text>
<text transform="translate(46.96,515.00) scale(0.0692,0.1423) translate(0,-1)" font-size="100" font-weight="bold" fill="#1a1ae6" stroke="#1a1ae6" stroke-width="5.6" stroke-linejoin="round">C</text>
<text transform="translate(52.66,515.05) scale(0.0816,0.1481) translate(0,0)" font-size="100" font-weight="bold" fill="#e8202a" stroke="#e8202a" stroke-width="4.7" stroke-linejoin="round">T</text>
<text transform="translate(58.36,514.96) scale(0.0638,0.1413) translate(0,-1)" font-size="100" font-weight="bold" fill="#f5a31a" stroke="#f5a31a" stroke-width="6.1" stroke-linejoin="round">G</text>
<text transform="translate(64.06,515.26) scale(0.0692,0.0569) translate(0,-1)" font-size="100" font-weight="bold" fill="#1a1ae6" stroke="#1a1ae6" stroke-width="5.6" stroke-linejoin="round">C</text>
<text transform="translate(64.06,510.87) scale(0.0816,0.0666) translate(0,0)" font-size="100" font-weight="bold" fill="#e8202a" stroke="#e8202a" stroke-width="4.7" stroke-linejoin="round">T</text>
<text transform="translate(69.76,515.26) scale(0.0692,0.0569) translate(0,-1)" font-size="100" font-weight="bold" fill="#1a1ae6" stroke="#1a1ae6" stroke-width="5.6" stroke-linejoin="round">C</text>
<text transform="translate(69.76,510.87) scale(0.0816,0.0666) translate(0,0)" font-size="100" font-weight="bold" fill="#e8202a" stroke="#e8202a" stroke-width="4.7" stroke-linejoin="round">T</text>
<text x="153.90" y="511.10" font-size="3.6" font-weight="bold" text-anchor="middle" fill="#2a2a2a" stroke="#2a2a2a" stroke-width="0.08" >NeuroG2(bHLH)</text>
<text x="182.10" y="511.10" font-size="3.65" font-weight="bold" text-anchor="middle" fill="#2a2a2a" stroke="#2a2a2a" stroke-width="0.08" >-4.030e3</text>
<text x="208.15" y="511.10" font-size="3.75" font-weight="bold" text-anchor="middle" fill="#2a2a2a" stroke="#2a2a2a" stroke-width="0.08" >39.99%</text>
<text x="11.90" y="523.66" font-size="3.6" font-weight="bold" text-anchor="middle" fill="#2a2a2a" stroke="#2a2a2a" stroke-width="0.12" >10</text>
<text transform="translate(18.46,527.92) scale(0.0816,0.0296) translate(0,0)" font-size="100" font-weight="bold" fill="#e8202a" stroke="#e8202a" stroke-width="4.7" stroke-linejoin="round">T</text>
<text transform="translate(18.46,525.68) scale(0.0692,0.0427) translate(0,-1)" font-size="100" font-weight="bold" fill="#1a1ae6" stroke="#1a1ae6" stroke-width="5.6" stroke-linejoin="round">C</text>
<text transform="translate(18.46,522.37) scale(0.0638,0.0424) translate(0,-1)" font-size="100" font-weight="bold" fill="#f5a31a" stroke="#f5a31a" stroke-width="6.1" stroke-linejoin="round">G</text>
<text transform="translate(24.16,527.92) scale(0.0816,0.0296) translate(0,0)" font-size="100" font-weight="bold" fill="#e8202a" stroke="#e8202a" stroke-width="4.7" stroke-linejoin="round">T</text>
<text transform="translate(24.16,525.68) scale(0.0692,0.0427) translate(0,-1)" font-size="100" font-weight="bold" fill="#1a1ae6" stroke="#1a1ae6" stroke-width="5.6" stroke-linejoin="round">C</text>
<text transform="translate(24.16,522.37) scale(0.0638,0.0424) translate(0,-1)" font-size="100" font-weight="bold" fill="#f5a31a" stroke="#f5a31a" stroke-width="6.1" stroke-linejoin="round">G</text>
<text transform="translate(29.86,527.91) scale(0.0638,0.0283) translate(0,-1)" font-size="100" font-weight="bold" fill="#f5a31a" stroke="#f5a31a" stroke-width="6.1" stroke-linejoin="round">G</text>
<text transform="translate(29.86,525.69) scale(0.0816,0.0444) translate(0,0)" font-size="100" font-weight="bold" fill="#e8202a" stroke="#e8202a" stroke-width="4.7" stroke-linejoin="round">T</text>
<text transform="translate(29.86,522.34) scale(0.0692,0.0569) translate(0,-1)" font-size="100" font-weight="bold" fill="#1a1ae6" stroke="#1a1ae6" stroke-width="5.6" stroke-linejoin="round">C</text>
<text transform="translate(35.56,527.62) scale(0.0816,0.1481) translate(0,0)" font-size="100" font-weight="bold" fill="#e8202a" stroke="#e8202a" stroke-width="4.7" stroke-linejoin="round">T</text>
<text transform="translate(41.26,527.55) scale(0.0692,0.1461) translate(0,0)" font-size="100" font-weight="bold" fill="#2aa832" stroke="#2aa832" stroke-width="5.6" stroke-linejoin="round">A</text>
<text transform="translate(46.96,527.55) scale(0.0692,0.1461) translate(0,0)" font-size="100" font-weight="bold" fill="#2aa832" stroke="#2aa832" stroke-width="5.6" stroke-linejoin="round">A</text>
<text transform="translate(52.66,527.62) scale(0.0816,0.1481) translate(0,0)" font-size="100" font-weight="bold" fill="#e8202a" stroke="#e8202a" stroke-width="4.7" stroke-linejoin="round">T</text>
<text transform="translate(58.36,527.91) scale(0.0692,0.0292) translate(0,0)" font-size="100" font-weight="bold" fill="#2aa832" stroke="#2aa832" stroke-width="5.6" stroke-linejoin="round">A</text>
<text transform="translate(58.36,525.54) scale(0.0816,0.1036) translate(0,0)" font-size="100" font-weight="bold" fill="#e8202a" stroke="#e8202a" stroke-width="4.7" stroke-linejoin="round">T</text>
<text transform="translate(64.06,527.55) scale(0.0692,0.1461) translate(0,0)" font-size="100" font-weight="bold" fill="#2aa832" stroke="#2aa832" stroke-width="5.6" stroke-linejoin="round">A</text>
<text transform="translate(69.76,527.91) scale(0.0692,0.0292) translate(0,0)" font-size="100" font-weight="bold" fill="#2aa832" stroke="#2aa832" stroke-width="5.6" stroke-linejoin="round">A</text>
<text transform="translate(69.76,525.68) scale(0.0692,0.0427) translate(0,-1)" font-size="100" font-weight="bold" fill="#1a1ae6" stroke="#1a1ae6" stroke-width="5.6" stroke-linejoin="round">C</text>
<text transform="translate(69.76,522.33) scale(0.0638,0.0565) translate(0,-1)" font-size="100" font-weight="bold" fill="#f5a31a" stroke="#f5a31a" stroke-width="6.1" stroke-linejoin="round">G</text>
<text x="153.90" y="523.66" font-size="3.6" font-weight="bold" text-anchor="middle" fill="#2a2a2a" stroke="#2a2a2a" stroke-width="0.08" >DLX3(Homeobox)</text>
<text x="182.10" y="523.66" font-size="3.65" font-weight="bold" text-anchor="middle" fill="#2a2a2a" stroke="#2a2a2a" stroke-width="0.08" >-3.996e3</text>
<text x="208.15" y="523.66" font-size="3.75" font-weight="bold" text-anchor="middle" fill="#2a2a2a" stroke="#2a2a2a" stroke-width="0.08" >43.53%</text>
<text x="225.90" y="215.30" font-size="13.6" font-weight="bold" text-anchor="start" fill="#1a1a1a" stroke="#1a1a1a" stroke-width="0.35">D</text>
<text x="392.40" y="219.60" font-size="8.55" font-weight="bold" text-anchor="middle" fill="#1a1a1a" stroke="#1a1a1a" stroke-width="0.15" >Swarm Plot of Top Enriched Motifs in Each Family</text>
<rect x="255.2" y="224.3" width="284.40" height="80.70" fill="none" stroke="#a2a2a2" stroke-width="0.95"/>
<line x1="253.6" y1="303.90" x2="255.2" y2="303.90" stroke="#444" stroke-width="0.5"/>
<text x="253.00" y="306.30" font-size="6.9" font-weight="bold" text-anchor="end" fill="#2a2a2a" stroke="#2a2a2a" stroke-width="0.15" >0</text>
<line x1="253.6" y1="294.06" x2="255.2" y2="294.06" stroke="#444" stroke-width="0.5"/>
<text x="253.00" y="296.46" font-size="6.9" font-weight="bold" text-anchor="end" fill="#2a2a2a" stroke="#2a2a2a" stroke-width="0.15" >2500</text>
<line x1="253.6" y1="284.22" x2="255.2" y2="284.22" stroke="#444" stroke-width="0.5"/>
<text x="253.00" y="286.62" font-size="6.9" font-weight="bold" text-anchor="end" fill="#2a2a2a" stroke="#2a2a2a" stroke-width="0.15" >5000</text>
<line x1="253.6" y1="274.39" x2="255.2" y2="274.39" stroke="#444" stroke-width="0.5"/>
<text x="253.00" y="276.79" font-size="6.9" font-weight="bold" text-anchor="end" fill="#2a2a2a" stroke="#2a2a2a" stroke-width="0.15" >7500</text>
<line x1="253.6" y1="264.55" x2="255.2" y2="264.55" stroke="#444" stroke-width="0.5"/>
<text x="253.00" y="266.95" font-size="6.9" font-weight="bold" text-anchor="end" fill="#2a2a2a" stroke="#2a2a2a" stroke-width="0.15" >10000</text>
<line x1="253.6" y1="254.71" x2="255.2" y2="254.71" stroke="#444" stroke-width="0.5"/>
<text x="253.00" y="257.11" font-size="6.9" font-weight="bold" text-anchor="end" fill="#2a2a2a" stroke="#2a2a2a" stroke-width="0.15" >12500</text>
<line x1="253.6" y1="244.87" x2="255.2" y2="244.87" stroke="#444" stroke-width="0.5"/>
<text x="253.00" y="247.27" font-size="6.9" font-weight="bold" text-anchor="end" fill="#2a2a2a" stroke="#2a2a2a" stroke-width="0.15" >15000</text>
<line x1="253.6" y1="235.04" x2="255.2" y2="235.04" stroke="#444" stroke-width="0.5"/>
<text x="253.00" y="237.44" font-size="6.9" font-weight="bold" text-anchor="end" fill="#2a2a2a" stroke="#2a2a2a" stroke-width="0.15" >17500</text>
<line x1="253.6" y1="225.20" x2="255.2" y2="225.20" stroke="#444" stroke-width="0.5"/>
<text x="253.00" y="227.60" font-size="6.9" font-weight="bold" text-anchor="end" fill="#2a2a2a" stroke="#2a2a2a" stroke-width="0.15" >20000</text>
<text transform="translate(232.3,261.8) rotate(-90)" font-size="6.8" font-weight="bold" text-anchor="middle" fill="#222" stroke="#222" stroke-width="0.25">-log10(p-value)</text>
<text x="275.40" y="313.70" font-size="7.7" font-weight="bold" text-anchor="middle" fill="#1a1a1a" stroke="#1a1a1a" stroke-width="0.15" >Zf</text>
<line x1="275.4" y1="305" x2="275.4" y2="306.6" stroke="#444" stroke-width="0.5"/>
<text x="316.30" y="313.70" font-size="7.7" font-weight="bold" text-anchor="middle" fill="#1a1a1a" stroke="#1a1a1a" stroke-width="0.15" >bHLH</text>
<line x1="316.0" y1="305" x2="316.0" y2="306.6" stroke="#444" stroke-width="0.5"/>
<text x="358.10" y="313.70" font-size="7.7" font-weight="bold" text-anchor="middle" fill="#1a1a1a" stroke="#1a1a1a" stroke-width="0.15" >Homeobox</text>
<line x1="356.5" y1="305" x2="356.5" y2="306.6" stroke="#444" stroke-width="0.5"/>
<text x="397.80" y="313.70" font-size="7.7" font-weight="bold" text-anchor="middle" fill="#1a1a1a" stroke="#1a1a1a" stroke-width="0.15" >HTH</text>
<line x1="397.4" y1="305" x2="397.4" y2="306.6" stroke="#444" stroke-width="0.5"/>
<text x="438.50" y="313.70" font-size="7.7" font-weight="bold" text-anchor="middle" fill="#1a1a1a" stroke="#1a1a1a" stroke-width="0.15" >bZIP</text>
<line x1="438.5" y1="305" x2="438.5" y2="306.6" stroke="#444" stroke-width="0.5"/>
<text x="481.30" y="313.70" font-size="7.7" font-weight="bold" text-anchor="middle" fill="#1a1a1a" stroke="#1a1a1a" stroke-width="0.15" >HMG</text>
<line x1="480.5" y1="305" x2="480.5" y2="306.6" stroke="#444" stroke-width="0.5"/>
<text x="522.50" y="313.70" font-size="7.7" font-weight="bold" text-anchor="middle" fill="#1a1a1a" stroke="#1a1a1a" stroke-width="0.15" >CCAAT</text>
<line x1="521.3" y1="305" x2="521.3" y2="306.6" stroke="#444" stroke-width="0.5"/>
<text x="533.60" y="236.60" font-size="8.4" font-weight="bold" text-anchor="end" fill="#1a1a1a" stroke="#1a1a1a" stroke-width="0.15" >Day 00</text>
<circle cx="275.6" cy="227.8" r="1.2" fill="#1f77b4"/>
<circle cx="275.6" cy="255.2" r="1.2" fill="#1f77b4"/>
<circle cx="259.5" cy="300.2" r="1.2" fill="#1f77b4"/>
<circle cx="264.6" cy="301.5" r="1.2" fill="#1f77b4"/>
<circle cx="268.0" cy="300.8" r="1.2" fill="#1f77b4"/>
<circle cx="269.8" cy="302.0" r="1.2" fill="#1f77b4"/>
<circle cx="273.4" cy="300.2" r="1.2" fill="#1f77b4"/>
<circle cx="275.2" cy="298.3" r="1.2" fill="#1f77b4"/>
<circle cx="275.5" cy="301.8" r="1.2" fill="#1f77b4"/>
<circle cx="280.7" cy="301.4" r="1.2" fill="#1f77b4"/>
<circle cx="282.0" cy="300.0" r="1.2" fill="#1f77b4"/>
<circle cx="285.7" cy="302.0" r="1.2" fill="#1f77b4"/>
<circle cx="287.8" cy="300.3" r="1.2" fill="#1f77b4"/>
<circle cx="291.2" cy="300.6" r="1.2" fill="#1f77b4"/>
<circle cx="271.5" cy="298.9" r="1.2" fill="#1f77b4"/>
<circle cx="283.8" cy="298.4" r="1.2" fill="#1f77b4"/>
<circle cx="315.8" cy="297.6" r="1.2" fill="#ff7f0e"/>
<circle cx="315.8" cy="299.9" r="1.2" fill="#ff7f0e"/>
<circle cx="315.8" cy="302.2" r="1.2" fill="#ff7f0e"/>
<circle cx="348.9" cy="298.4" r="1.2" fill="#2ca02c"/>
<circle cx="348.9" cy="300.9" r="1.2" fill="#2ca02c"/>
<circle cx="354.6" cy="294.8" r="1.2" fill="#2ca02c"/>
<circle cx="354.6" cy="298.4" r="1.2" fill="#2ca02c"/>
<circle cx="354.6" cy="300.9" r="1.2" fill="#2ca02c"/>
<circle cx="359.5" cy="300.6" r="1.2" fill="#2ca02c"/>
<circle cx="363.6" cy="298.9" r="1.2" fill="#2ca02c"/>
<circle cx="384.9" cy="299.4" r="1.2" fill="#d62728"/>
<circle cx="389.8" cy="300.6" r="1.2" fill="#d62728"/>
<circle cx="394.8" cy="301.4" r="1.2" fill="#d62728"/>
<circle cx="400.2" cy="301.4" r="1.2" fill="#d62728"/>
<circle cx="405.4" cy="300.9" r="1.2" fill="#d62728"/>
<circle cx="410.0" cy="299.8" r="1.2" fill="#d62728"/>
<circle cx="424.4" cy="301.4" r="1.2" fill="#9467bd"/>
<circle cx="429.8" cy="301.4" r="1.2" fill="#9467bd"/>
<circle cx="435.3" cy="301.4" r="1.2" fill="#9467bd"/>
<circle cx="440.8" cy="301.4" r="1.2" fill="#9467bd"/>
<circle cx="446.2" cy="301.4" r="1.2" fill="#9467bd"/>
<circle cx="451.7" cy="301.4" r="1.2" fill="#9467bd"/>
<circle cx="465.9" cy="299.2" r="1.2" fill="#8c564b"/>
<circle cx="470.7" cy="300.3" r="1.2" fill="#8c564b"/>
<circle cx="475.7" cy="300.7" r="1.2" fill="#8c564b"/>
<circle cx="479.0" cy="299.2" r="1.2" fill="#8c564b"/>
<circle cx="481.2" cy="300.7" r="1.2" fill="#8c564b"/>
<circle cx="483.8" cy="298.1" r="1.2" fill="#8c564b"/>
<circle cx="486.7" cy="300.3" r="1.2" fill="#8c564b"/>
<circle cx="491.0" cy="299.9" r="1.2" fill="#8c564b"/>
<circle cx="519.5" cy="300.3" r="1.2" fill="#e377c2"/>
<rect x="255.2" y="319.3" width="284.20" height="80.00" fill="none" stroke="#a2a2a2" stroke-width="0.95"/>
<line x1="253.6" y1="384.30" x2="255.2" y2="384.30" stroke="#444" stroke-width="0.5"/>
<text x="253.00" y="386.70" font-size="6.9" font-weight="bold" text-anchor="end" fill="#2a2a2a" stroke="#2a2a2a" stroke-width="0.15" >2000</text>
<line x1="253.6" y1="367.90" x2="255.2" y2="367.90" stroke="#444" stroke-width="0.5"/>
<text x="253.00" y="370.30" font-size="6.9" font-weight="bold" text-anchor="end" fill="#2a2a2a" stroke="#2a2a2a" stroke-width="0.15" >4000</text>
<line x1="253.6" y1="351.50" x2="255.2" y2="351.50" stroke="#444" stroke-width="0.5"/>
<text x="253.00" y="353.90" font-size="6.9" font-weight="bold" text-anchor="end" fill="#2a2a2a" stroke="#2a2a2a" stroke-width="0.15" >6000</text>
<line x1="253.6" y1="335.10" x2="255.2" y2="335.10" stroke="#444" stroke-width="0.5"/>
<text x="253.00" y="337.50" font-size="6.9" font-weight="bold" text-anchor="end" fill="#2a2a2a" stroke="#2a2a2a" stroke-width="0.15" >8000</text>
<text transform="translate(232.3,362.3) rotate(-90)" font-size="6.8" font-weight="bold" text-anchor="middle" fill="#222" stroke="#222" stroke-width="0.25">-log10(p-value)</text>
<text x="275.40" y="408.30" font-size="7.7" font-weight="bold" text-anchor="middle" fill="#1a1a1a" stroke="#1a1a1a" stroke-width="0.15" >Zf</text>
<line x1="275.4" y1="399.3" x2="275.4" y2="400.9" stroke="#444" stroke-width="0.5"/>
<text x="316.30" y="408.30" font-size="7.7" font-weight="bold" text-anchor="middle" fill="#1a1a1a" stroke="#1a1a1a" stroke-width="0.15" >bHLH</text>
<line x1="316.0" y1="399.3" x2="316.0" y2="400.9" stroke="#444" stroke-width="0.5"/>
<text x="358.10" y="408.30" font-size="7.7" font-weight="bold" text-anchor="middle" fill="#1a1a1a" stroke="#1a1a1a" stroke-width="0.15" >Homeobox</text>
<line x1="356.5" y1="399.3" x2="356.5" y2="400.9" stroke="#444" stroke-width="0.5"/>
<text x="397.80" y="408.30" font-size="7.7" font-weight="bold" text-anchor="middle" fill="#1a1a1a" stroke="#1a1a1a" stroke-width="0.15" >HTH</text>
<line x1="397.4" y1="399.3" x2="397.4" y2="400.9" stroke="#444" stroke-width="0.5"/>
<text x="438.50" y="408.30" font-size="7.7" font-weight="bold" text-anchor="middle" fill="#1a1a1a" stroke="#1a1a1a" stroke-width="0.15" >bZIP</text>
<line x1="438.5" y1="399.3" x2="438.5" y2="400.9" stroke="#444" stroke-width="0.5"/>
<text x="481.30" y="408.30" font-size="7.7" font-weight="bold" text-anchor="middle" fill="#1a1a1a" stroke="#1a1a1a" stroke-width="0.15" >HMG</text>
<line x1="480.5" y1="399.3" x2="480.5" y2="400.9" stroke="#444" stroke-width="0.5"/>
<text x="522.50" y="408.30" font-size="7.7" font-weight="bold" text-anchor="middle" fill="#1a1a1a" stroke="#1a1a1a" stroke-width="0.15" >CCAAT</text>
<line x1="521.3" y1="399.3" x2="521.3" y2="400.9" stroke="#444" stroke-width="0.5"/>
<text x="533.60" y="330.50" font-size="8.4" font-weight="bold" text-anchor="end" fill="#1a1a1a" stroke="#1a1a1a" stroke-width="0.15" >Day 45</text>
<circle cx="275.6" cy="322.8" r="1.2" fill="#1f77b4"/>
<circle cx="275.6" cy="355.8" r="1.2" fill="#1f77b4"/>
<circle cx="270.8" cy="392.0" r="1.2" fill="#1f77b4"/>
<circle cx="270.8" cy="395.4" r="1.2" fill="#1f77b4"/>
<circle cx="275.6" cy="389.8" r="1.2" fill="#1f77b4"/>
<circle cx="275.6" cy="392.7" r="1.2" fill="#1f77b4"/>
<circle cx="275.6" cy="395.9" r="1.2" fill="#1f77b4"/>
<circle cx="311.8" cy="360.3" r="1.2" fill="#ff7f0e"/>
<circle cx="316.3" cy="361.6" r="1.2" fill="#ff7f0e"/>
<circle cx="311.3" cy="366.9" r="1.2" fill="#ff7f0e"/>
<circle cx="317.1" cy="366.9" r="1.2" fill="#ff7f0e"/>
<circle cx="313.1" cy="369.5" r="1.2" fill="#ff7f0e"/>
<circle cx="316.5" cy="370.8" r="1.2" fill="#ff7f0e"/>
<circle cx="311.8" cy="374.8" r="1.2" fill="#ff7f0e"/>
<circle cx="317.6" cy="375.6" r="1.2" fill="#ff7f0e"/>
<circle cx="321.6" cy="375.6" r="1.2" fill="#ff7f0e"/>
<circle cx="311.3" cy="379.3" r="1.2" fill="#ff7f0e"/>
<circle cx="316.3" cy="379.3" r="1.2" fill="#ff7f0e"/>
<circle cx="311.3" cy="382.7" r="1.2" fill="#ff7f0e"/>
<circle cx="316.3" cy="382.7" r="1.2" fill="#ff7f0e"/>
<circle cx="321.0" cy="382.2" r="1.2" fill="#ff7f0e"/>
<circle cx="316.3" cy="394.1" r="1.2" fill="#ff7f0e"/>
<circle cx="356.5" cy="362.5" r="1.2" fill="#2ca02c"/>
<circle cx="356.5" cy="365.0" r="1.2" fill="#2ca02c"/>
<circle cx="353.8" cy="367.7" r="1.2" fill="#2ca02c"/>
<circle cx="359.0" cy="367.7" r="1.2" fill="#2ca02c"/>
<circle cx="363.8" cy="366.9" r="1.2" fill="#2ca02c"/>
<circle cx="356.5" cy="369.9" r="1.2" fill="#2ca02c"/>
<circle cx="356.5" cy="372.6" r="1.2" fill="#2ca02c"/>
<circle cx="356.5" cy="375.3" r="1.2" fill="#2ca02c"/>
<circle cx="352.4" cy="379.0" r="1.2" fill="#2ca02c"/>
<circle cx="358.7" cy="378.6" r="1.2" fill="#2ca02c"/>
<circle cx="356.5" cy="380.8" r="1.2" fill="#2ca02c"/>
<circle cx="349.1" cy="387.3" r="1.2" fill="#2ca02c"/>
<circle cx="354.2" cy="387.3" r="1.2" fill="#2ca02c"/>
<circle cx="347.1" cy="390.2" r="1.2" fill="#2ca02c"/>
<circle cx="351.4" cy="391.4" r="1.2" fill="#2ca02c"/>
<circle cx="356.7" cy="389.4" r="1.2" fill="#2ca02c"/>
<circle cx="356.7" cy="391.8" r="1.2" fill="#2ca02c"/>
<circle cx="361.2" cy="388.1" r="1.2" fill="#2ca02c"/>
<circle cx="361.2" cy="390.6" r="1.2" fill="#2ca02c"/>
<circle cx="346.5" cy="394.7" r="1.2" fill="#2ca02c"/>
<circle cx="351.4" cy="395.3" r="1.2" fill="#2ca02c"/>
<circle cx="356.4" cy="395.7" r="1.2" fill="#2ca02c"/>
<circle cx="361.8" cy="395.1" r="1.2" fill="#2ca02c"/>
<circle cx="392.0" cy="387.0" r="1.2" fill="#d62728"/>
<circle cx="397.2" cy="387.0" r="1.2" fill="#d62728"/>
<circle cx="387.3" cy="393.4" r="1.2" fill="#d62728"/>
<circle cx="392.0" cy="394.6" r="1.2" fill="#d62728"/>
<circle cx="397.2" cy="392.4" r="1.2" fill="#d62728"/>
<circle cx="397.2" cy="394.6" r="1.2" fill="#d62728"/>
<circle cx="402.2" cy="394.1" r="1.2" fill="#d62728"/>
<circle cx="421.5" cy="389.0" r="1.2" fill="#9467bd"/>
<circle cx="427.0" cy="389.0" r="1.2" fill="#9467bd"/>
<circle cx="432.2" cy="390.2" r="1.2" fill="#9467bd"/>
<circle cx="432.2" cy="392.4" r="1.2" fill="#9467bd"/>
<circle cx="432.2" cy="395.3" r="1.2" fill="#9467bd"/>
<circle cx="437.6" cy="390.2" r="1.2" fill="#9467bd"/>
<circle cx="437.6" cy="392.4" r="1.2" fill="#9467bd"/>
<circle cx="437.6" cy="395.3" r="1.2" fill="#9467bd"/>
<circle cx="443.0" cy="389.9" r="1.2" fill="#9467bd"/>
<circle cx="448.2" cy="389.9" r="1.2" fill="#9467bd"/>
<circle cx="453.6" cy="389.0" r="1.2" fill="#9467bd"/>
<circle cx="468.0" cy="393.8" r="1.2" fill="#8c564b"/>
<circle cx="473.1" cy="394.6" r="1.2" fill="#8c564b"/>
<circle cx="474.6" cy="390.9" r="1.2" fill="#8c564b"/>
<circle cx="477.8" cy="391.7" r="1.2" fill="#8c564b"/>
<circle cx="477.8" cy="394.6" r="1.2" fill="#8c564b"/>
<circle cx="479.7" cy="389.9" r="1.2" fill="#8c564b"/>
<circle cx="483.3" cy="391.7" r="1.2" fill="#8c564b"/>
<circle cx="483.3" cy="394.6" r="1.2" fill="#8c564b"/>
<circle cx="518.6" cy="394.6" r="1.2" fill="#e377c2"/>
<text x="226.20" y="422.90" font-size="13.6" font-weight="bold" text-anchor="start" fill="#1a1a1a" stroke="#1a1a1a" stroke-width="0.35">E</text>
<text x="361.00" y="421.50" font-size="8.58" font-weight="bold" text-anchor="middle" fill="#1a1a1a" stroke="#1a1a1a" stroke-width="0.15" >Enriched Ascl1 Motif Mapped near TSS peaks at Day 00/45</text>
<line x1="226.0" y1="428.7" x2="471.0" y2="428.7" stroke="#8080e0" stroke-width="0.9"/>
<rect x="279.8" y="427.55" width="116.20" height="2.3" fill="#1c1ca6"/>
<line x1="285.8" y1="428.20" x2="286.6" y2="428.70" stroke="#8a8ae8" stroke-width="0.3"/>
<line x1="291.8" y1="428.20" x2="292.6" y2="428.70" stroke="#8a8ae8" stroke-width="0.3"/>
<line x1="297.8" y1="428.20" x2="298.6" y2="428.70" stroke="#8a8ae8" stroke-width="0.3"/>
<line x1="303.8" y1="428.20" x2="304.6" y2="428.70" stroke="#8a8ae8" stroke-width="0.3"/>
<line x1="309.8" y1="428.20" x2="310.6" y2="428.70" stroke="#8a8ae8" stroke-width="0.3"/>
<line x1="315.8" y1="428.20" x2="316.6" y2="428.70" stroke="#8a8ae8" stroke-width="0.3"/>
<line x1="321.8" y1="428.20" x2="322.6" y2="428.70" stroke="#8a8ae8" stroke-width="0.3"/>
<line x1="327.8" y1="428.20" x2="328.6" y2="428.70" stroke="#8a8ae8" stroke-width="0.3"/>
<line x1="333.8" y1="428.20" x2="334.6" y2="428.70" stroke="#8a8ae8" stroke-width="0.3"/>
<line x1="339.8" y1="428.20" x2="340.6" y2="428.70" stroke="#8a8ae8" stroke-width="0.3"/>
<line x1="345.8" y1="428.20" x2="346.6" y2="428.70" stroke="#8a8ae8" stroke-width="0.3"/>
<line x1="351.8" y1="428.20" x2="352.6" y2="428.70" stroke="#8a8ae8" stroke-width="0.3"/>
<line x1="357.8" y1="428.20" x2="358.6" y2="428.70" stroke="#8a8ae8" stroke-width="0.3"/>
<line x1="363.8" y1="428.20" x2="364.6" y2="428.70" stroke="#8a8ae8" stroke-width="0.3"/>
<line x1="369.8" y1="428.20" x2="370.6" y2="428.70" stroke="#8a8ae8" stroke-width="0.3"/>
<line x1="375.8" y1="428.20" x2="376.6" y2="428.70" stroke="#8a8ae8" stroke-width="0.3"/>
<line x1="381.8" y1="428.20" x2="382.6" y2="428.70" stroke="#8a8ae8" stroke-width="0.3"/>
<line x1="387.8" y1="428.20" x2="388.6" y2="428.70" stroke="#8a8ae8" stroke-width="0.3"/>
<line x1="393.8" y1="428.20" x2="394.6" y2="428.70" stroke="#8a8ae8" stroke-width="0.3"/>
<rect x="434.2" y="427.55" width="36.10" height="2.3" fill="#1c1ca6"/>
<line x1="440.2" y1="428.20" x2="441.0" y2="428.70" stroke="#8a8ae8" stroke-width="0.3"/>
<line x1="446.2" y1="428.20" x2="447.0" y2="428.70" stroke="#8a8ae8" stroke-width="0.3"/>
<line x1="452.2" y1="428.20" x2="453.0" y2="428.70" stroke="#8a8ae8" stroke-width="0.3"/>
<line x1="458.2" y1="428.20" x2="459.0" y2="428.70" stroke="#8a8ae8" stroke-width="0.3"/>
<line x1="464.2" y1="428.20" x2="465.0" y2="428.70" stroke="#8a8ae8" stroke-width="0.3"/>
<text x="316.20" y="434.60" font-size="4.5" font-weight="bold" text-anchor="middle" fill="#222" stroke="#222" stroke-width="0.22" >LOC642366</text>
<text x="431.90" y="434.60" font-size="4.4" font-weight="bold" text-anchor="middle" fill="#222" stroke="#222" stroke-width="0.22" >ISL1</text>
<line x1="226.0" y1="436.00" x2="471.0" y2="436.00" stroke="#e4e4e4" stroke-width="0.5"/>
<text x="227.00" y="439.00" font-size="2.6" font-weight="normal" text-anchor="start" fill="#555" stroke="#555" stroke-width="0.05" >0 - 116</text>
<text x="226.60" y="444.80" font-size="5.0" font-weight="bold" text-anchor="start" fill="#1a1a1a" stroke="#1a1a1a" stroke-width="0.15" >D00</text>
<polygon points="226.0,446.8 226.0,445.6 227.0,445.6 228.0,445.6 229.0,445.6 230.0,445.6 231.0,445.6 232.0,445.6 233.0,445.6 234.0,445.6 235.0,445.6 236.0,445.6 237.0,445.6 238.0,445.6 239.0,445.6 240.0,445.6 241.0,445.6 242.0,445.6 243.0,445.6 244.0,445.6 245.0,445.6 246.0,445.6 247.0,445.6 248.0,445.6 249.0,445.6 250.0,445.6 251.0,445.6 252.0,445.6 253.0,445.6 254.0,445.6 255.0,445.6 256.0,445.6 257.0,445.6 258.0,445.6 259.0,445.6 260.0,445.6 261.0,445.6 262.0,445.6 263.0,445.6 264.0,445.6 265.0,445.6 266.0,445.6 267.0,445.6 268.0,445.6 269.0,445.6 270.0,445.6 271.0,445.6 272.0,445.6 273.0,445.6 274.0,445.6 275.0,445.6 276.0,445.6 277.0,445.6 278.0,445.6 279.0,445.6 280.0,445.6 281.0,445.6 282.0,445.6 283.0,445.6 284.0,445.6 285.0,445.6 286.0,445.6 287.0,445.6 288.0,445.6 289.0,445.6 290.0,445.6 291.0,445.6 292.0,445.6 293.0,445.6 294.0,445.6 295.0,445.6 296.0,445.6 297.0,445.6 298.0,445.6 299.0,445.6 300.0,445.6 301.0,445.6 302.0,445.6 303.0,445.6 304.0,445.6 305.0,445.6 306.0,445.6 307.0,445.6 308.0,445.6 309.0,445.6 310.0,445.6 311.0,445.6 312.0,445.6 313.0,445.6 314.0,445.6 315.0,445.6 316.0,445.6 317.0,445.6 318.0,445.6 319.0,445.6 320.0,445.6 321.0,445.6 322.0,445.6 323.0,445.6 324.0,445.6 325.0,445.6 326.0,445.6 327.0,445.6 328.0,445.6 329.0,445.6 330.0,445.6 331.0,445.6 332.0,445.6 333.0,445.6 334.0,445.6 335.0,445.6 336.0,445.6 337.0,445.6 338.0,445.6 339.0,445.6 340.0,445.6 341.0,445.6 342.0,445.6 343.0,445.6 344.0,445.6 345.0,445.6 346.0,445.6 347.0,445.6 348.0,445.6 349.0,445.6 350.0,445.6 351.0,445.6 352.0,445.6 353.0,445.6 354.0,445.6 355.0,445.6 356.0,445.6 357.0,445.6 358.0,445.6 359.0,445.6 360.0,445.6 361.0,445.6 362.0,445.6 363.0,445.6 364.0,445.6 365.0,445.6 366.0,445.6 367.0,445.6 368.0,445.6 369.0,445.6 370.0,445.6 371.0,445.6 372.0,445.6 373.0,445.6 374.0,445.6 375.0,445.6 376.0,445.6 377.0,445.6 378.0,445.6 379.0,445.3 380.0,445.3 381.0,445.1 382.0,445.3 383.0,445.1 384.0,445.0 385.0,445.0 386.0,445.0 387.0,444.9 388.0,444.9 389.0,444.6 390.0,444.8 391.0,444.5 392.0,444.6 393.0,444.5 394.0,444.4 395.0,444.4 396.0,444.4 397.0,444.4 398.0,444.5 399.0,444.3 400.0,444.5 401.0,444.4 402.0,444.4 403.0,444.4 404.0,444.6 405.0,444.5 406.0,444.5 407.0,444.7 408.0,444.8 409.0,444.8 410.0,444.8 411.0,445.1 412.0,445.2 413.0,445.1 414.0,445.1 415.0,445.2 416.0,445.4 417.0,445.3 418.0,445.6 419.0,445.5 420.0,445.6 421.0,445.6 422.0,445.6 423.0,445.6 424.0,445.6 425.0,445.6 426.0,445.6 427.0,445.6 428.0,445.6 429.0,445.6 430.0,445.6 431.0,445.6 432.0,445.6 433.0,445.6 434.0,445.6 435.0,445.6 436.0,445.6 437.0,445.6 438.0,445.6 439.0,445.6 440.0,445.6 441.0,445.6 442.0,445.6 443.0,445.6 444.0,445.6 445.0,445.6 446.0,445.6 447.0,445.6 448.0,445.6 449.0,445.6 450.0,445.6 451.0,445.6 452.0,445.6 453.0,445.6 454.0,445.6 455.0,445.6 456.0,445.6 457.0,445.6 458.0,445.6 459.0,445.6 460.0,445.6 461.0,445.6 462.0,445.6 463.0,445.6 464.0,445.6 465.0,445.6 466.0,445.6 467.0,445.6 468.0,445.6 469.0,445.6 470.0,445.6 471.0,445.6 471.0,446.8" fill="#63c6c2"/>
<line x1="226.0" y1="447.40" x2="471.0" y2="447.40" stroke="#e4e4e4" stroke-width="0.5"/>
<text x="227.00" y="449.80" font-size="2.6" font-weight="normal" text-anchor="start" fill="#555" stroke="#555" stroke-width="0.05" >0 - 116</text>
<text x="226.60" y="455.20" font-size="5.0" font-weight="bold" text-anchor="start" fill="#1a1a1a" stroke="#1a1a1a" stroke-width="0.15" >D45</text>
<polygon points="226.0,456.4 226.0,455.2 227.0,455.2 228.0,455.2 229.0,455.2 230.0,455.1 231.0,455.2 232.0,455.2 233.0,455.2 234.0,455.2 235.0,455.1 236.0,455.2 237.0,455.2 238.0,455.1 239.0,455.2 240.0,455.0 241.0,455.2 242.0,455.2 243.0,455.2 244.0,455.1 245.0,455.2 246.0,455.2 247.0,455.1 248.0,455.2 249.0,455.2 250.0,455.2 251.0,455.2 252.0,455.2 253.0,455.1 254.0,455.2 255.0,455.2 256.0,455.2 257.0,455.1 258.0,455.0 259.0,455.2 260.0,455.2 261.0,455.2 262.0,455.2 263.0,455.2 264.0,455.2 265.0,455.2 266.0,455.1 267.0,455.2 268.0,455.2 269.0,455.0 270.0,455.2 271.0,455.2 272.0,455.2 273.0,455.1 274.0,455.1 275.0,455.2 276.0,455.1 277.0,455.1 278.0,455.2 279.0,455.2 280.0,455.2 281.0,455.0 282.0,455.2 283.0,455.1 284.0,455.2 285.0,455.2 286.0,455.2 287.0,455.0 288.0,455.2 289.0,455.0 290.0,455.2 291.0,455.1 292.0,455.0 293.0,455.2 294.0,455.0 295.0,455.0 296.0,455.2 297.0,455.2 298.0,455.2 299.0,455.0 300.0,455.2 301.0,455.0 302.0,455.2 303.0,455.1 304.0,455.2 305.0,455.2 306.0,455.1 307.0,455.2 308.0,455.2 309.0,455.0 310.0,455.1 311.0,455.0 312.0,454.9 313.0,455.2 314.0,455.2 315.0,454.9 316.0,454.9 317.0,455.2 318.0,454.9 319.0,455.0 320.0,454.8 321.0,455.0 322.0,455.0 323.0,454.4 324.0,454.7 325.0,454.4 326.0,454.7 327.0,454.5 328.0,454.7 329.0,454.5 330.0,454.6 331.0,454.3 332.0,454.5 333.0,454.2 334.0,454.2 335.0,454.4 336.0,454.2 337.0,454.0 338.0,453.7 339.0,453.9 340.0,453.8 341.0,453.4 342.0,453.3 343.0,453.3 344.0,453.4 345.0,453.4 346.0,453.2 347.0,453.2 348.0,453.1 349.0,452.8 350.0,452.7 351.0,452.6 352.0,452.6 353.0,452.6 354.0,452.2 355.0,452.1 356.0,452.1 357.0,452.0 358.0,451.8 359.0,451.6 360.0,451.5 361.0,451.5 362.0,451.6 363.0,451.5 364.0,451.3 365.0,451.0 366.0,451.2 367.0,451.1 368.0,450.9 369.0,451.0 370.0,450.5 371.0,450.8 372.0,450.4 373.0,450.2 374.0,450.4 375.0,450.1 376.0,450.2 377.0,450.1 378.0,450.1 379.0,450.0 380.0,449.6 381.0,449.6 382.0,449.5 383.0,449.8 384.0,449.4 385.0,449.6 386.0,449.4 387.0,449.3 388.0,449.4 389.0,449.0 390.0,449.4 391.0,449.0 392.0,448.9 393.0,449.0 394.0,448.9 395.0,448.7 396.0,449.1 397.0,448.9 398.0,448.9 399.0,449.1 400.0,449.0 401.0,449.2 402.0,449.2 403.0,449.2 404.0,449.2 405.0,449.4 406.0,449.3 407.0,449.4 408.0,449.6 409.0,449.4 410.0,449.6 411.0,449.4 412.0,449.6 413.0,449.6 414.0,449.8 415.0,449.9 416.0,450.2 417.0,450.3 418.0,450.1 419.0,450.4 420.0,450.5 421.0,450.6 422.0,450.6 423.0,451.0 424.0,451.1 425.0,450.9 426.0,451.2 427.0,451.2 428.0,451.2 429.0,451.3 430.0,451.4 431.0,451.9 432.0,451.8 433.0,451.7 434.0,451.8 435.0,452.2 436.0,452.3 437.0,452.3 438.0,452.4 439.0,452.4 440.0,452.2 441.0,452.5 442.0,452.6 443.0,452.8 444.0,452.8 445.0,452.6 446.0,452.8 447.0,453.0 448.0,453.1 449.0,453.0 450.0,453.1 451.0,453.4 452.0,453.2 453.0,453.5 454.0,453.5 455.0,453.7 456.0,453.7 457.0,453.7 458.0,453.8 459.0,454.0 460.0,454.0 461.0,453.9 462.0,454.2 463.0,454.2 464.0,454.0 465.0,454.3 466.0,454.4 467.0,454.5 468.0,454.2 469.0,454.7 470.0,454.5 471.0,454.4 471.0,456.4" fill="#1c1ca6"/>
<rect x="385.70" y="458.00" width="3.8" height="2.60" rx="0.5" fill="#ee1111"/>
<text x="387.60" y="464.80" font-size="4.5" font-weight="bold" text-anchor="middle" fill="#ee1515" stroke="#ee1515" stroke-width="0.18" >Ascl1</text>
<line x1="226.0" y1="466.30" x2="471.0" y2="466.30" stroke="#e4e4e4" stroke-width="0.5"/>
<line x1="226.0" y1="470.4" x2="471.0" y2="470.4" stroke="#8080e0" stroke-width="0.9"/>
<rect x="247.6" y="469.25" width="82.10" height="2.3" fill="#1c1ca6"/>
<line x1="253.6" y1="469.90" x2="254.4" y2="470.40" stroke="#8a8ae8" stroke-width="0.3"/>
<line x1="259.6" y1="469.90" x2="260.4" y2="470.40" stroke="#8a8ae8" stroke-width="0.3"/>
<line x1="265.6" y1="469.90" x2="266.4" y2="470.40" stroke="#8a8ae8" stroke-width="0.3"/>
<line x1="271.6" y1="469.90" x2="272.4" y2="470.40" stroke="#8a8ae8" stroke-width="0.3"/>
<line x1="277.6" y1="469.90" x2="278.4" y2="470.40" stroke="#8a8ae8" stroke-width="0.3"/>
<line x1="283.6" y1="469.90" x2="284.4" y2="470.40" stroke="#8a8ae8" stroke-width="0.3"/>
<line x1="289.6" y1="469.90" x2="290.4" y2="470.40" stroke="#8a8ae8" stroke-width="0.3"/>
<line x1="295.6" y1="469.90" x2="296.4" y2="470.40" stroke="#8a8ae8" stroke-width="0.3"/>
<line x1="301.6" y1="469.90" x2="302.4" y2="470.40" stroke="#8a8ae8" stroke-width="0.3"/>
<line x1="307.6" y1="469.90" x2="308.4" y2="470.40" stroke="#8a8ae8" stroke-width="0.3"/>
<line x1="313.6" y1="469.90" x2="314.4" y2="470.40" stroke="#8a8ae8" stroke-width="0.3"/>
<line x1="319.6" y1="469.90" x2="320.4" y2="470.40" stroke="#8a8ae8" stroke-width="0.3"/>
<line x1="325.6" y1="469.90" x2="326.4" y2="470.40" stroke="#8a8ae8" stroke-width="0.3"/>
<text x="282.00" y="476.00" font-size="4.2" font-weight="bold" text-anchor="middle" fill="#222" stroke="#222" stroke-width="0.22" >NEUROG2</text>
<text x="386.50" y="476.00" font-size="4.0" font-weight="bold" text-anchor="middle" fill="#222" stroke="#222" stroke-width="0.22" >NEUROG2-AS1</text>
<line x1="226.0" y1="477.20" x2="471.0" y2="477.20" stroke="#e4e4e4" stroke-width="0.5"/>
<text x="227.00" y="479.80" font-size="2.6" font-weight="normal" text-anchor="start" fill="#555" stroke="#555" stroke-width="0.05" >0 - 160</text>
<text x="226.60" y="484.40" font-size="5.0" font-weight="bold" text-anchor="start" fill="#1a1a1a" stroke="#1a1a1a" stroke-width="0.15" >D00</text>
<polygon points="226.0,486.2 226.0,485.0 227.0,485.0 228.0,485.0 229.0,485.0 230.0,485.0 231.0,485.0 232.0,485.0 233.0,485.0 234.0,485.0 235.0,485.0 236.0,485.0 237.0,485.0 238.0,485.0 239.0,485.0 240.0,485.0 241.0,485.0 242.0,485.0 243.0,485.0 244.0,485.0 245.0,485.0 246.0,485.0 247.0,485.0 248.0,485.0 249.0,485.0 250.0,485.0 251.0,485.0 252.0,485.0 253.0,485.0 254.0,485.0 255.0,485.0 256.0,485.0 257.0,485.0 258.0,485.0 259.0,485.0 260.0,485.0 261.0,485.0 262.0,485.0 263.0,485.0 264.0,485.0 265.0,485.0 266.0,485.0 267.0,485.0 268.0,485.0 269.0,485.0 270.0,485.0 271.0,485.0 272.0,485.0 273.0,485.0 274.0,485.0 275.0,485.0 276.0,485.0 277.0,485.0 278.0,485.0 279.0,485.0 280.0,485.0 281.0,485.0 282.0,485.0 283.0,485.0 284.0,485.0 285.0,485.0 286.0,485.0 287.0,485.0 288.0,485.0 289.0,485.0 290.0,485.0 291.0,485.0 292.0,485.0 293.0,485.0 294.0,485.0 295.0,485.0 296.0,485.0 297.0,485.0 298.0,485.0 299.0,485.0 300.0,485.0 301.0,485.0 302.0,485.0 303.0,485.0 304.0,485.0 305.0,485.0 306.0,485.0 307.0,485.0 308.0,485.0 309.0,485.0 310.0,485.0 311.0,485.0 312.0,485.0 313.0,485.0 314.0,485.0 315.0,485.0 316.0,485.0 317.0,485.0 318.0,485.0 319.0,485.0 320.0,485.0 321.0,485.0 322.0,485.0 323.0,485.0 324.0,485.0 325.0,485.0 326.0,485.0 327.0,485.0 328.0,485.0 329.0,485.0 330.0,485.0 331.0,485.0 332.0,485.0 333.0,485.0 334.0,485.0 335.0,485.0 336.0,485.0 337.0,485.0 338.0,485.0 339.0,485.0 340.0,485.0 341.0,485.0 342.0,485.0 343.0,485.0 344.0,485.0 345.0,485.0 346.0,485.0 347.0,485.0 348.0,485.0 349.0,485.0 350.0,485.0 351.0,485.0 352.0,485.0 353.0,485.0 354.0,485.0 355.0,485.0 356.0,485.0 357.0,485.0 358.0,485.0 359.0,485.0 360.0,485.0 361.0,485.0 362.0,485.0 363.0,485.0 364.0,485.0 365.0,485.0 366.0,485.0 367.0,485.0 368.0,485.0 369.0,485.0 370.0,485.0 371.0,485.0 372.0,485.0 373.0,485.0 374.0,485.0 375.0,485.0 376.0,485.0 377.0,485.0 378.0,485.0 379.0,485.0 380.0,485.0 381.0,485.0 382.0,485.0 383.0,485.0 384.0,485.0 385.0,485.0 386.0,485.0 387.0,485.0 388.0,485.0 389.0,485.0 390.0,485.0 391.0,485.0 392.0,485.0 393.0,485.0 394.0,485.0 395.0,485.0 396.0,485.0 397.0,485.0 398.0,485.0 399.0,485.0 400.0,485.0 401.0,485.0 402.0,485.0 403.0,485.0 404.0,485.0 405.0,485.0 406.0,485.0 407.0,485.0 408.0,485.0 409.0,484.8 410.0,484.8 411.0,484.7 412.0,484.7 413.0,484.6 414.0,484.5 415.0,484.4 416.0,484.5 417.0,484.5 418.0,484.4 419.0,484.2 420.0,484.4 421.0,484.2 422.0,484.2 423.0,484.3 424.0,484.2 425.0,484.2 426.0,484.3 427.0,484.0 428.0,484.1 429.0,484.0 430.0,484.0 431.0,483.9 432.0,484.0 433.0,484.2 434.0,484.0 435.0,484.1 436.0,484.1 437.0,484.0 438.0,484.1 439.0,484.1 440.0,484.0 441.0,484.2 442.0,484.2 443.0,484.2 444.0,484.1 445.0,484.2 446.0,484.2 447.0,484.3 448.0,484.4 449.0,484.2 450.0,484.3 451.0,484.2 452.0,484.2 453.0,484.5 454.0,484.4 455.0,484.5 456.0,484.3 457.0,484.5 458.0,484.5 459.0,484.4 460.0,484.4 461.0,484.6 462.0,484.4 463.0,484.4 464.0,484.5 465.0,484.6 466.0,484.5 467.0,484.6 468.0,484.5 469.0,484.4 470.0,484.5 471.0,484.5 471.0,486.2" fill="#63c6c2"/>
<line x1="226.0" y1="487.00" x2="471.0" y2="487.00" stroke="#e4e4e4" stroke-width="0.5"/>
<text x="227.00" y="489.20" font-size="2.6" font-weight="normal" text-anchor="start" fill="#555" stroke="#555" stroke-width="0.05" >0 - 160</text>
<text x="226.60" y="493.60" font-size="5.0" font-weight="bold" text-anchor="start" fill="#1a1a1a" stroke="#1a1a1a" stroke-width="0.15" >D45</text>
<polygon points="226.0,495.0 226.0,493.8 227.0,493.8 228.0,493.8 229.0,493.8 230.0,493.7 231.0,493.8 232.0,493.8 233.0,493.8 234.0,493.8 235.0,493.7 236.0,493.8 237.0,493.8 238.0,493.8 239.0,493.8 240.0,493.8 241.0,493.7 242.0,493.7 243.0,493.7 244.0,493.8 245.0,493.8 246.0,493.8 247.0,493.8 248.0,493.8 249.0,493.8 250.0,493.8 251.0,493.8 252.0,493.8 253.0,493.7 254.0,493.8 255.0,493.7 256.0,493.8 257.0,493.8 258.0,493.8 259.0,493.8 260.0,493.8 261.0,493.8 262.0,493.8 263.0,493.8 264.0,493.7 265.0,493.8 266.0,493.8 267.0,493.7 268.0,493.8 269.0,493.8 270.0,493.7 271.0,493.8 272.0,493.7 273.0,493.8 274.0,493.8 275.0,493.8 276.0,493.8 277.0,493.7 278.0,493.8 279.0,493.8 280.0,493.8 281.0,493.7 282.0,493.8 283.0,493.7 284.0,493.8 285.0,493.8 286.0,493.8 287.0,493.8 288.0,493.8 289.0,493.7 290.0,493.8 291.0,493.6 292.0,493.8 293.0,493.8 294.0,493.8 295.0,493.7 296.0,493.6 297.0,493.8 298.0,493.8 299.0,493.8 300.0,493.6 301.0,493.8 302.0,493.8 303.0,493.8 304.0,493.8 305.0,493.8 306.0,493.7 307.0,493.8 308.0,493.8 309.0,493.8 310.0,493.8 311.0,493.8 312.0,493.8 313.0,493.6 314.0,493.8 315.0,493.7 316.0,493.8 317.0,493.7 318.0,493.6 319.0,493.8 320.0,493.8 321.0,493.8 322.0,493.8 323.0,493.8 324.0,493.8 325.0,493.8 326.0,493.8 327.0,493.7 328.0,493.8 329.0,493.7 330.0,493.8 331.0,493.7 332.0,493.8 333.0,493.6 334.0,493.6 335.0,493.6 336.0,493.8 337.0,493.8 338.0,493.8 339.0,493.7 340.0,493.8 341.0,493.6 342.0,493.8 343.0,493.8 344.0,493.6 345.0,493.8 346.0,493.8 347.0,493.8 348.0,493.8 349.0,493.8 350.0,493.6 351.0,493.6 352.0,493.8 353.0,493.6 354.0,493.8 355.0,493.8 356.0,493.6 357.0,493.8 358.0,493.6 359.0,493.7 360.0,493.8 361.0,493.8 362.0,493.8 363.0,493.8 364.0,493.7 365.0,493.8 366.0,493.7 367.0,493.8 368.0,493.8 369.0,493.8 370.0,493.8 371.0,493.8 372.0,493.7 373.0,493.8 374.0,493.8 375.0,493.8 376.0,493.8 377.0,493.8 378.0,493.7 379.0,493.8 380.0,493.8 381.0,493.8 382.0,493.7 383.0,493.5 384.0,493.7 385.0,493.6 386.0,493.1 387.0,493.4 388.0,493.0 389.0,492.9 390.0,493.1 391.0,493.2 392.0,493.1 393.0,492.6 394.0,492.9 395.0,492.7 396.0,492.6 397.0,492.7 398.0,492.5 399.0,492.5 400.0,492.3 401.0,492.1 402.0,492.1 403.0,492.0 404.0,491.7 405.0,491.7 406.0,491.6 407.0,491.4 408.0,490.9 409.0,490.9 410.0,490.6 411.0,490.9 412.0,490.2 413.0,490.3 414.0,490.0 415.0,490.0 416.0,489.7 417.0,489.8 418.0,489.4 419.0,489.5 420.0,489.3 421.0,489.3 422.0,488.9 423.0,488.7 424.0,488.6 425.0,488.2 426.0,488.4 427.0,488.2 428.0,488.4 429.0,488.3 430.0,488.2 431.0,488.3 432.0,488.7 433.0,488.6 434.0,488.5 435.0,488.3 436.0,488.9 437.0,488.6 438.0,488.6 439.0,488.6 440.0,488.9 441.0,488.7 442.0,489.0 443.0,488.9 444.0,489.4 445.0,489.1 446.0,489.4 447.0,489.5 448.0,489.8 449.0,489.8 450.0,489.7 451.0,489.8 452.0,490.2 453.0,490.2 454.0,490.4 455.0,490.5 456.0,490.5 457.0,490.6 458.0,490.3 459.0,490.4 460.0,490.6 461.0,490.9 462.0,491.0 463.0,490.9 464.0,490.9 465.0,491.1 466.0,491.3 467.0,491.6 468.0,491.5 469.0,491.4 470.0,491.6 471.0,492.0 471.0,495.0" fill="#1c1ca6"/>
<rect x="262.00" y="496.80" width="3.8" height="2.00" rx="0.5" fill="#ee1111"/>
<text x="263.90" y="503.00" font-size="4.5" font-weight="bold" text-anchor="middle" fill="#ee1515" stroke="#ee1515" stroke-width="0.18" >Ascl1</text>
<rect x="438.70" y="496.60" width="2.6" height="2.20" rx="0.5" fill="#ee1111"/>
<text x="440.00" y="503.00" font-size="4.5" font-weight="bold" text-anchor="middle" fill="#ee1515" stroke="#ee1515" stroke-width="0.18" >Ascl1</text>
<line x1="226.0" y1="504.80" x2="471.0" y2="504.80" stroke="#e4e4e4" stroke-width="0.5"/>
<line x1="226.0" y1="508.3" x2="471.0" y2="508.3" stroke="#8080e0" stroke-width="0.9"/>
<rect x="226.0" y="507.15" width="245.00" height="2.3" fill="#1c1ca6"/>
<line x1="232.0" y1="507.80" x2="232.8" y2="508.30" stroke="#8a8ae8" stroke-width="0.3"/>
<line x1="238.0" y1="507.80" x2="238.8" y2="508.30" stroke="#8a8ae8" stroke-width="0.3"/>
<line x1="244.0" y1="507.80" x2="244.8" y2="508.30" stroke="#8a8ae8" stroke-width="0.3"/>
<line x1="250.0" y1="507.80" x2="250.8" y2="508.30" stroke="#8a8ae8" stroke-width="0.3"/>
<line x1="256.0" y1="507.80" x2="256.8" y2="508.30" stroke="#8a8ae8" stroke-width="0.3"/>
<line x1="262.0" y1="507.80" x2="262.8" y2="508.30" stroke="#8a8ae8" stroke-width="0.3"/>
<line x1="268.0" y1="507.80" x2="268.8" y2="508.30" stroke="#8a8ae8" stroke-width="0.3"/>
<line x1="274.0" y1="507.80" x2="274.8" y2="508.30" stroke="#8a8ae8" stroke-width="0.3"/>
<line x1="280.0" y1="507.80" x2="280.8" y2="508.30" stroke="#8a8ae8" stroke-width="0.3"/>
<line x1="286.0" y1="507.80" x2="286.8" y2="508.30" stroke="#8a8ae8" stroke-width="0.3"/>
<line x1="292.0" y1="507.80" x2="292.8" y2="508.30" stroke="#8a8ae8" stroke-width="0.3"/>
<line x1="298.0" y1="507.80" x2="298.8" y2="508.30" stroke="#8a8ae8" stroke-width="0.3"/>
<line x1="304.0" y1="507.80" x2="304.8" y2="508.30" stroke="#8a8ae8" stroke-width="0.3"/>
<line x1="310.0" y1="507.80" x2="310.8" y2="508.30" stroke="#8a8ae8" stroke-width="0.3"/>
<line x1="316.0" y1="507.80" x2="316.8" y2="508.30" stroke="#8a8ae8" stroke-width="0.3"/>
<line x1="322.0" y1="507.80" x2="322.8" y2="508.30" stroke="#8a8ae8" stroke-width="0.3"/>
<line x1="328.0" y1="507.80" x2="328.8" y2="508.30" stroke="#8a8ae8" stroke-width="0.3"/>
<line x1="334.0" y1="507.80" x2="334.8" y2="508.30" stroke="#8a8ae8" stroke-width="0.3"/>
<line x1="340.0" y1="507.80" x2="340.8" y2="508.30" stroke="#8a8ae8" stroke-width="0.3"/>
<line x1="346.0" y1="507.80" x2="346.8" y2="508.30" stroke="#8a8ae8" stroke-width="0.3"/>
<line x1="352.0" y1="507.80" x2="352.8" y2="508.30" stroke="#8a8ae8" stroke-width="0.3"/>
<line x1="358.0" y1="507.80" x2="358.8" y2="508.30" stroke="#8a8ae8" stroke-width="0.3"/>
<line x1="364.0" y1="507.80" x2="364.8" y2="508.30" stroke="#8a8ae8" stroke-width="0.3"/>
<line x1="370.0" y1="507.80" x2="370.8" y2="508.30" stroke="#8a8ae8" stroke-width="0.3"/>
<line x1="376.0" y1="507.80" x2="376.8" y2="508.30" stroke="#8a8ae8" stroke-width="0.3"/>
<line x1="382.0" y1="507.80" x2="382.8" y2="508.30" stroke="#8a8ae8" stroke-width="0.3"/>
<line x1="388.0" y1="507.80" x2="388.8" y2="508.30" stroke="#8a8ae8" stroke-width="0.3"/>
<line x1="394.0" y1="507.80" x2="394.8" y2="508.30" stroke="#8a8ae8" stroke-width="0.3"/>
<line x1="400.0" y1="507.80" x2="400.8" y2="508.30" stroke="#8a8ae8" stroke-width="0.3"/>
<line x1="406.0" y1="507.80" x2="406.8" y2="508.30" stroke="#8a8ae8" stroke-width="0.3"/>
<line x1="412.0" y1="507.80" x2="412.8" y2="508.30" stroke="#8a8ae8" stroke-width="0.3"/>
<line x1="418.0" y1="507.80" x2="418.8" y2="508.30" stroke="#8a8ae8" stroke-width="0.3"/>
<line x1="424.0" y1="507.80" x2="424.8" y2="508.30" stroke="#8a8ae8" stroke-width="0.3"/>
<line x1="430.0" y1="507.80" x2="430.8" y2="508.30" stroke="#8a8ae8" stroke-width="0.3"/>
<line x1="436.0" y1="507.80" x2="436.8" y2="508.30" stroke="#8a8ae8" stroke-width="0.3"/>
<line x1="442.0" y1="507.80" x2="442.8" y2="508.30" stroke="#8a8ae8" stroke-width="0.3"/>
<line x1="448.0" y1="507.80" x2="448.8" y2="508.30" stroke="#8a8ae8" stroke-width="0.3"/>
<line x1="454.0" y1="507.80" x2="454.8" y2="508.30" stroke="#8a8ae8" stroke-width="0.3"/>
<line x1="460.0" y1="507.80" x2="460.8" y2="508.30" stroke="#8a8ae8" stroke-width="0.3"/>
<line x1="466.0" y1="507.80" x2="466.8" y2="508.30" stroke="#8a8ae8" stroke-width="0.3"/>
<text x="351.50" y="513.60" font-size="4.5" font-weight="bold" text-anchor="middle" fill="#222" stroke="#222" stroke-width="0.22" >RXRG</text>
<line x1="226.0" y1="515.00" x2="471.0" y2="515.00" stroke="#e4e4e4" stroke-width="0.5"/>
<text x="227.00" y="518.30" font-size="2.6" font-weight="normal" text-anchor="start" fill="#555" stroke="#555" stroke-width="0.05" >0 - 40</text>
<text x="226.60" y="524.00" font-size="5.0" font-weight="bold" text-anchor="start" fill="#1a1a1a" stroke="#1a1a1a" stroke-width="0.15" >D00</text>
<polygon points="226.0,525.6 226.0,524.4 227.0,524.4 228.0,524.4 229.0,524.3 230.0,524.4 231.0,524.4 232.0,524.4 233.0,524.3 234.0,524.3 235.0,524.3 236.0,524.3 237.0,524.3 238.0,524.3 239.0,524.4 240.0,524.4 241.0,524.3 242.0,524.3 243.0,524.3 244.0,524.4 245.0,524.2 246.0,524.4 247.0,524.2 248.0,524.4 249.0,524.2 250.0,524.3 251.0,524.4 252.0,524.3 253.0,524.4 254.0,524.4 255.0,524.4 256.0,524.4 257.0,524.4 258.0,524.2 259.0,524.3 260.0,524.3 261.0,524.4 262.0,524.3 263.0,524.2 264.0,524.2 265.0,524.1 266.0,524.1 267.0,524.3 268.0,524.4 269.0,524.1 270.0,523.9 271.0,524.2 272.0,524.0 273.0,523.8 274.0,523.8 275.0,524.2 276.0,523.9 277.0,524.1 278.0,524.0 279.0,523.6 280.0,523.8 281.0,523.7 282.0,523.7 283.0,523.7 284.0,523.8 285.0,523.7 286.0,523.4 287.0,523.4 288.0,523.6 289.0,523.6 290.0,523.5 291.0,523.2 292.0,523.3 293.0,523.1 294.0,523.0 295.0,523.3 296.0,522.9 297.0,523.2 298.0,522.7 299.0,523.0 300.0,522.8 301.0,522.4 302.0,522.7 303.0,522.7 304.0,522.3 305.0,522.3 306.0,522.1 307.0,522.3 308.0,522.2 309.0,521.9 310.0,522.1 311.0,521.8 312.0,522.2 313.0,521.8 314.0,522.1 315.0,521.8 316.0,522.0 317.0,521.9 318.0,521.4 319.0,521.6 320.0,521.5 321.0,521.8 322.0,521.8 323.0,521.9 324.0,521.8 325.0,521.6 326.0,521.8 327.0,521.9 328.0,521.7 329.0,521.8 330.0,521.9 331.0,522.2 332.0,522.0 333.0,522.1 334.0,521.9 335.0,522.3 336.0,522.1 337.0,522.2 338.0,522.4 339.0,522.3 340.0,522.3 341.0,522.2 342.0,522.5 343.0,522.6 344.0,522.3 345.0,522.8 346.0,522.4 347.0,522.5 348.0,522.6 349.0,522.6 350.0,522.5 351.0,522.4 352.0,522.5 353.0,522.5 354.0,522.8 355.0,522.7 356.0,522.8 357.0,522.4 358.0,522.4 359.0,522.8 360.0,522.6 361.0,522.6 362.0,522.9 363.0,522.7 364.0,522.5 365.0,522.6 366.0,522.7 367.0,522.5 368.0,522.7 369.0,522.6 370.0,522.7 371.0,522.4 372.0,522.6 373.0,522.5 374.0,522.6 375.0,522.7 376.0,522.4 377.0,522.5 378.0,522.6 379.0,522.8 380.0,522.8 381.0,522.6 382.0,522.5 383.0,522.5 384.0,522.7 385.0,522.8 386.0,522.7 387.0,522.5 388.0,522.8 389.0,522.6 390.0,522.8 391.0,522.8 392.0,522.9 393.0,522.8 394.0,522.7 395.0,522.4 396.0,522.4 397.0,522.8 398.0,522.8 399.0,522.5 400.0,522.8 401.0,522.8 402.0,522.7 403.0,522.9 404.0,522.8 405.0,522.7 406.0,522.8 407.0,522.5 408.0,522.8 409.0,522.8 410.0,522.5 411.0,522.7 412.0,522.5 413.0,522.6 414.0,522.6 415.0,522.8 416.0,522.9 417.0,522.6 418.0,522.7 419.0,522.7 420.0,522.6 421.0,522.6 422.0,522.8 423.0,522.8 424.0,522.5 425.0,522.7 426.0,522.8 427.0,522.7 428.0,522.9 429.0,522.6 430.0,523.0 431.0,522.6 432.0,522.7 433.0,522.8 434.0,522.5 435.0,522.9 436.0,522.9 437.0,523.0 438.0,522.7 439.0,522.6 440.0,522.7 441.0,522.8 442.0,522.6 443.0,522.9 444.0,522.9 445.0,522.7 446.0,522.5 447.0,522.7 448.0,522.7 449.0,522.6 450.0,522.8 451.0,522.5 452.0,522.6 453.0,522.9 454.0,522.8 455.0,522.6 456.0,522.9 457.0,522.9 458.0,522.6 459.0,522.8 460.0,522.8 461.0,522.7 462.0,522.6 463.0,523.0 464.0,522.9 465.0,523.0 466.0,522.8 467.0,522.8 468.0,522.6 469.0,522.7 470.0,522.8 471.0,522.8 471.0,525.6" fill="#63c6c2"/>
<line x1="226.0" y1="526.40" x2="471.0" y2="526.40" stroke="#e4e4e4" stroke-width="0.5"/>
<text x="227.00" y="528.80" font-size="2.6" font-weight="normal" text-anchor="start" fill="#555" stroke="#555" stroke-width="0.05" >0 - 40</text>
<text x="226.60" y="534.10" font-size="5.0" font-weight="bold" text-anchor="start" fill="#1a1a1a" stroke="#1a1a1a" stroke-width="0.15" >D45</text>
<polygon points="226.0,535.8 226.0,534.6 227.0,534.6 228.0,534.5 229.0,534.5 230.0,534.5 231.0,534.6 232.0,534.6 233.0,534.5 234.0,534.6 235.0,534.4 236.0,534.4 237.0,534.5 238.0,534.5 239.0,534.6 240.0,534.4 241.0,534.6 242.0,534.5 243.0,534.5 244.0,534.6 245.0,534.6 246.0,534.6 247.0,534.6 248.0,534.4 249.0,534.6 250.0,534.6 251.0,534.6 252.0,534.6 253.0,534.4 254.0,534.2 255.0,534.3 256.0,534.5 257.0,534.2 258.0,534.5 259.0,534.0 260.0,534.3 261.0,534.4 262.0,534.0 263.0,534.2 264.0,534.1 265.0,534.1 266.0,533.9 267.0,533.7 268.0,533.5 269.0,533.9 270.0,533.4 271.0,533.8 272.0,533.6 273.0,533.3 274.0,533.4 275.0,533.3 276.0,533.1 277.0,533.2 278.0,532.8 279.0,533.1 280.0,532.6 281.0,532.6 282.0,532.7 283.0,532.9 284.0,532.4 285.0,532.8 286.0,532.4 287.0,532.4 288.0,532.5 289.0,532.1 290.0,532.0 291.0,532.0 292.0,532.0 293.0,531.9 294.0,531.7 295.0,531.2 296.0,530.5 297.0,530.4 298.0,530.5 299.0,530.4 300.0,530.7 301.0,530.3 302.0,530.8 303.0,530.6 304.0,530.7 305.0,530.5 306.0,530.4 307.0,530.3 308.0,530.5 309.0,530.5 310.0,530.6 311.0,530.4 312.0,530.5 313.0,530.5 314.0,530.2 315.0,530.3 316.0,530.3 317.0,530.4 318.0,530.1 319.0,530.4 320.0,530.3 321.0,529.3 322.0,528.3 323.0,528.1 324.0,528.2 325.0,528.1 326.0,528.1 327.0,528.2 328.0,528.2 329.0,528.6 330.0,528.5 331.0,528.6 332.0,528.1 333.0,528.1 334.0,528.2 335.0,528.4 336.0,528.3 337.0,528.4 338.0,528.1 339.0,527.9 340.0,528.3 341.0,528.5 342.0,528.4 343.0,528.3 344.0,528.0 345.0,528.1 346.0,528.3 347.0,528.5 348.0,528.5 349.0,528.5 350.0,528.1 351.0,528.3 352.0,528.0 353.0,528.1 354.0,528.2 355.0,528.4 356.0,528.2 357.0,528.6 358.0,528.6 359.0,528.4 360.0,528.4 361.0,528.6 362.0,528.6 363.0,528.7 364.0,528.2 365.0,528.3 366.0,528.2 367.0,528.2 368.0,528.5 369.0,528.4 370.0,528.6 371.0,528.3 372.0,528.3 373.0,528.8 374.0,528.8 375.0,528.7 376.0,528.5 377.0,528.7 378.0,528.9 379.0,528.4 380.0,528.5 381.0,528.7 382.0,528.9 383.0,528.4 384.0,528.7 385.0,528.9 386.0,528.8 387.0,528.6 388.0,528.5 389.0,528.7 390.0,528.7 391.0,528.9 392.0,528.9 393.0,528.5 394.0,528.9 395.0,529.1 396.0,528.8 397.0,529.1 398.0,529.0 399.0,528.9 400.0,528.8 401.0,528.8 402.0,528.8 403.0,528.9 404.0,529.2 405.0,528.8 406.0,529.2 407.0,529.0 408.0,529.0 409.0,528.9 410.0,528.9 411.0,529.2 412.0,529.0 413.0,529.0 414.0,529.2 415.0,529.4 416.0,529.0 417.0,529.2 418.0,529.6 419.0,529.5 420.0,529.1 421.0,529.6 422.0,529.5 423.0,529.3 424.0,529.4 425.0,529.5 426.0,529.5 427.0,530.0 428.0,530.0 429.0,529.5 430.0,529.6 431.0,530.1 432.0,530.2 433.0,530.1 434.0,529.7 435.0,530.2 436.0,529.9 437.0,529.8 438.0,530.0 439.0,529.9 440.0,530.3 441.0,530.5 442.0,530.6 443.0,530.2 444.0,530.6 445.0,530.1 446.0,530.3 447.0,530.7 448.0,530.4 449.0,530.8 450.0,530.6 451.0,530.9 452.0,530.6 453.0,530.6 454.0,530.6 455.0,531.2 456.0,530.7 457.0,530.9 458.0,530.8 459.0,531.1 460.0,531.0 461.0,531.1 462.0,531.0 463.0,531.5 464.0,531.6 465.0,531.3 466.0,531.5 467.0,531.5 468.0,531.8 469.0,531.4 470.0,531.8 471.0,531.4 471.0,535.8" fill="#1c1ca6"/>
<rect x="343.40" y="538.00" width="6.4" height="2.30" rx="0.5" fill="#ee1111"/>
<text x="346.60" y="544.50" font-size="4.5" font-weight="bold" text-anchor="middle" fill="#ee1515" stroke="#ee1515" stroke-width="0.18" >Ascl1</text>
<text x="516.40" y="436.20" font-size="5.0" font-weight="bold" text-anchor="middle" fill="#111" stroke="#111" stroke-width="0.15" >ASCL1 RNA-seq</text>
<line x1="487.6" y1="436.5" x2="487.6" y2="475.2" stroke="#333" stroke-width="0.75"/>
<line x1="487.6" y1="475.2" x2="545.5" y2="475.2" stroke="#333" stroke-width="0.75"/>
<line x1="486.1" y1="475.20" x2="487.6" y2="475.20" stroke="#333" stroke-width="0.5"/>
<text x="485.70" y="476.45" font-size="3.5" font-weight="bold" text-anchor="end" fill="#222" stroke="#222" stroke-width="0.12" >0</text>
<line x1="486.1" y1="467.68" x2="487.6" y2="467.68" stroke="#333" stroke-width="0.5"/>
<text x="485.70" y="468.93" font-size="3.5" font-weight="bold" text-anchor="end" fill="#222" stroke="#222" stroke-width="0.12" >1000</text>
<line x1="486.1" y1="460.16" x2="487.6" y2="460.16" stroke="#333" stroke-width="0.5"/>
<text x="485.70" y="461.41" font-size="3.5" font-weight="bold" text-anchor="end" fill="#222" stroke="#222" stroke-width="0.12" >2000</text>
<line x1="486.1" y1="452.64" x2="487.6" y2="452.64" stroke="#333" stroke-width="0.5"/>
<text x="485.70" y="453.89" font-size="3.5" font-weight="bold" text-anchor="end" fill="#222" stroke="#222" stroke-width="0.12" >3000</text>
<line x1="486.1" y1="445.12" x2="487.6" y2="445.12" stroke="#333" stroke-width="0.5"/>
<text x="485.70" y="446.37" font-size="3.5" font-weight="bold" text-anchor="end" fill="#222" stroke="#222" stroke-width="0.12" >4000</text>
<line x1="486.1" y1="437.60" x2="487.6" y2="437.60" stroke="#333" stroke-width="0.5"/>
<text x="485.70" y="438.85" font-size="3.5" font-weight="bold" text-anchor="end" fill="#222" stroke="#222" stroke-width="0.12" >5000</text>
<line x1="488.00" y1="475.2" x2="488.00" y2="476.59999999999997" stroke="#333" stroke-width="0.5"/>
<text x="488.00" y="479.80" font-size="3.5" font-weight="bold" text-anchor="middle" fill="#222" stroke="#222" stroke-width="0.12" >0</text>
<line x1="494.28" y1="475.2" x2="494.28" y2="476.59999999999997" stroke="#333" stroke-width="0.5"/>
<text x="494.28" y="479.80" font-size="3.5" font-weight="bold" text-anchor="middle" fill="#222" stroke="#222" stroke-width="0.12" >5</text>
<line x1="500.56" y1="475.2" x2="500.56" y2="476.59999999999997" stroke="#333" stroke-width="0.5"/>
<text x="500.56" y="479.80" font-size="3.5" font-weight="bold" text-anchor="middle" fill="#222" stroke="#222" stroke-width="0.12" >10</text>
<line x1="506.83" y1="475.2" x2="506.83" y2="476.59999999999997" stroke="#333" stroke-width="0.5"/>
<text x="506.83" y="479.80" font-size="3.5" font-weight="bold" text-anchor="middle" fill="#222" stroke="#222" stroke-width="0.12" >15</text>
<line x1="513.11" y1="475.2" x2="513.11" y2="476.59999999999997" stroke="#333" stroke-width="0.5"/>
<text x="513.11" y="479.80" font-size="3.5" font-weight="bold" text-anchor="middle" fill="#222" stroke="#222" stroke-width="0.12" >20</text>
<line x1="519.39" y1="475.2" x2="519.39" y2="476.59999999999997" stroke="#333" stroke-width="0.5"/>
<text x="519.39" y="479.80" font-size="3.5" font-weight="bold" text-anchor="middle" fill="#222" stroke="#222" stroke-width="0.12" >25</text>
<line x1="525.67" y1="475.2" x2="525.67" y2="476.59999999999997" stroke="#333" stroke-width="0.5"/>
<text x="525.67" y="479.80" font-size="3.5" font-weight="bold" text-anchor="middle" fill="#222" stroke="#222" stroke-width="0.12" >30</text>
<line x1="531.94" y1="475.2" x2="531.94" y2="476.59999999999997" stroke="#333" stroke-width="0.5"/>
<text x="531.94" y="479.80" font-size="3.5" font-weight="bold" text-anchor="middle" fill="#222" stroke="#222" stroke-width="0.12" >35</text>
<line x1="538.22" y1="475.2" x2="538.22" y2="476.59999999999997" stroke="#333" stroke-width="0.5"/>
<text x="538.22" y="479.80" font-size="3.5" font-weight="bold" text-anchor="middle" fill="#222" stroke="#222" stroke-width="0.12" >40</text>
<line x1="544.50" y1="475.2" x2="544.50" y2="476.59999999999997" stroke="#333" stroke-width="0.5"/>
<text x="544.50" y="479.80" font-size="3.5" font-weight="bold" text-anchor="middle" fill="#222" stroke="#222" stroke-width="0.12" >45</text>
<text x="516.60" y="484.70" font-size="3.85" font-weight="bold" text-anchor="middle" fill="#222" stroke="#222" stroke-width="0.12" >Timepoint (Day)</text>
<text transform="translate(475.6,455.9) rotate(-90)" font-size="3.95" font-weight="bold" text-anchor="middle" fill="#222" stroke="#222" stroke-width="0.12">Normalized counts</text>
<polyline points="488.0,475.2 494.3,475.2 500.6,475.2 506.8,462.4 513.1,453.4 519.4,446.2 531.9,467.7 544.5,467.7" fill="none" stroke="#111" stroke-width="0.65"/>
<circle cx="488.0" cy="475.2" r="1.05" fill="#111"/>
<circle cx="494.3" cy="475.2" r="1.05" fill="#111"/>
<circle cx="500.6" cy="475.2" r="1.05" fill="#111"/>
<circle cx="506.8" cy="462.4" r="1.05" fill="#111"/>
<circle cx="513.1" cy="453.4" r="1.05" fill="#111"/>
<circle cx="519.4" cy="446.2" r="1.05" fill="#111"/>
<circle cx="531.9" cy="467.7" r="1.05" fill="#111"/>
<circle cx="544.5" cy="467.7" r="1.05" fill="#111"/>
<line x1="506.8" y1="463.8" x2="506.8" y2="461.1" stroke="#111" stroke-width="0.5"/>
<line x1="513.1" y1="454.5" x2="513.1" y2="452.3" stroke="#111" stroke-width="0.5"/>
<line x1="519.4" y1="448.1" x2="519.4" y2="444.4" stroke="#111" stroke-width="0.5"/>
<text x="516.40" y="496.20" font-size="5.0" font-weight="bold" text-anchor="middle" fill="#111" stroke="#111" stroke-width="0.15" >ASCL1 ATAC-seq</text>
<line x1="487.6" y1="497.8" x2="487.6" y2="534.4" stroke="#333" stroke-width="0.75"/>
<line x1="487.6" y1="534.4" x2="545.5" y2="534.4" stroke="#333" stroke-width="0.75"/>
<line x1="486.1" y1="534.40" x2="487.6" y2="534.40" stroke="#333" stroke-width="0.5"/>
<text x="485.70" y="535.65" font-size="3.5" font-weight="bold" text-anchor="end" fill="#222" stroke="#222" stroke-width="0.12" >200</text>
<line x1="486.1" y1="528.57" x2="487.6" y2="528.57" stroke="#333" stroke-width="0.5"/>
<text x="485.70" y="529.82" font-size="3.5" font-weight="bold" text-anchor="end" fill="#222" stroke="#222" stroke-width="0.12" >400</text>
<line x1="486.1" y1="522.73" x2="487.6" y2="522.73" stroke="#333" stroke-width="0.5"/>
<text x="485.70" y="523.98" font-size="3.5" font-weight="bold" text-anchor="end" fill="#222" stroke="#222" stroke-width="0.12" >600</text>
<line x1="486.1" y1="516.90" x2="487.6" y2="516.90" stroke="#333" stroke-width="0.5"/>
<text x="485.70" y="518.15" font-size="3.5" font-weight="bold" text-anchor="end" fill="#222" stroke="#222" stroke-width="0.12" >800</text>
<line x1="486.1" y1="511.07" x2="487.6" y2="511.07" stroke="#333" stroke-width="0.5"/>
<text x="485.70" y="512.32" font-size="3.5" font-weight="bold" text-anchor="end" fill="#222" stroke="#222" stroke-width="0.12" >1000</text>
<line x1="486.1" y1="505.23" x2="487.6" y2="505.23" stroke="#333" stroke-width="0.5"/>
<text x="485.70" y="506.48" font-size="3.5" font-weight="bold" text-anchor="end" fill="#222" stroke="#222" stroke-width="0.12" >1200</text>
<line x1="486.1" y1="499.40" x2="487.6" y2="499.40" stroke="#333" stroke-width="0.5"/>
<text x="485.70" y="500.65" font-size="3.5" font-weight="bold" text-anchor="end" fill="#222" stroke="#222" stroke-width="0.12" >1400</text>
<line x1="488.00" y1="534.4" x2="488.00" y2="535.8" stroke="#333" stroke-width="0.5"/>
<text x="488.00" y="539.00" font-size="3.5" font-weight="bold" text-anchor="middle" fill="#222" stroke="#222" stroke-width="0.12" >0</text>
<line x1="494.28" y1="534.4" x2="494.28" y2="535.8" stroke="#333" stroke-width="0.5"/>
<text x="494.28" y="539.00" font-size="3.5" font-weight="bold" text-anchor="middle" fill="#222" stroke="#222" stroke-width="0.12" >5</text>
<line x1="500.56" y1="534.4" x2="500.56" y2="535.8" stroke="#333" stroke-width="0.5"/>
<text x="500.56" y="539.00" font-size="3.5" font-weight="bold" text-anchor="middle" fill="#222" stroke="#222" stroke-width="0.12" >10</text>
<line x1="506.83" y1="534.4" x2="506.83" y2="535.8" stroke="#333" stroke-width="0.5"/>
<text x="506.83" y="539.00" font-size="3.5" font-weight="bold" text-anchor="middle" fill="#222" stroke="#222" stroke-width="0.12" >15</text>
<line x1="513.11" y1="534.4" x2="513.11" y2="535.8" stroke="#333" stroke-width="0.5"/>
<text x="513.11" y="539.00" font-size="3.5" font-weight="bold" text-anchor="middle" fill="#222" stroke="#222" stroke-width="0.12" >20</text>
<line x1="519.39" y1="534.4" x2="519.39" y2="535.8" stroke="#333" stroke-width="0.5"/>
<text x="519.39" y="539.00" font-size="3.5" font-weight="bold" text-anchor="middle" fill="#222" stroke="#222" stroke-width="0.12" >25</text>
<line x1="525.67" y1="534.4" x2="525.67" y2="535.8" stroke="#333" stroke-width="0.5"/>
<text x="525.67" y="539.00" font-size="3.5" font-weight="bold" text-anchor="middle" fill="#222" stroke="#222" stroke-width="0.12" >30</text>
<line x1="531.94" y1="534.4" x2="531.94" y2="535.8" stroke="#333" stroke-width="0.5"/>
<text x="531.94" y="539.00" font-size="3.5" font-weight="bold" text-anchor="middle" fill="#222" stroke="#222" stroke-width="0.12" >35</text>
<line x1="538.22" y1="534.4" x2="538.22" y2="535.8" stroke="#333" stroke-width="0.5"/>
<text x="538.22" y="539.00" font-size="3.5" font-weight="bold" text-anchor="middle" fill="#222" stroke="#222" stroke-width="0.12" >40</text>
<line x1="544.50" y1="534.4" x2="544.50" y2="535.8" stroke="#333" stroke-width="0.5"/>
<text x="544.50" y="539.00" font-size="3.5" font-weight="bold" text-anchor="middle" fill="#222" stroke="#222" stroke-width="0.12" >45</text>
<text x="516.60" y="543.90" font-size="3.85" font-weight="bold" text-anchor="middle" fill="#222" stroke="#222" stroke-width="0.12" >Timepoint (Day)</text>
<text transform="translate(475.6,516.1) rotate(-90)" font-size="3.95" font-weight="bold" text-anchor="middle" fill="#222" stroke="#222" stroke-width="0.12">Peak counts</text>
<polyline points="488.0,526.5 494.3,516.0 500.6,524.2 506.8,523.0 513.1,525.9 519.4,520.4 544.5,503.2" fill="none" stroke="#111" stroke-width="0.65"/>
<circle cx="488.0" cy="526.5" r="1.05" fill="#111"/>
<circle cx="494.3" cy="516.0" r="1.05" fill="#111"/>
<circle cx="500.6" cy="524.2" r="1.05" fill="#111"/>
<circle cx="506.8" cy="523.0" r="1.05" fill="#111"/>
<circle cx="513.1" cy="525.9" r="1.05" fill="#111"/>
<circle cx="519.4" cy="520.4" r="1.05" fill="#111"/>
<circle cx="544.5" cy="503.2" r="1.05" fill="#111"/>
</svg>
</body></html>
